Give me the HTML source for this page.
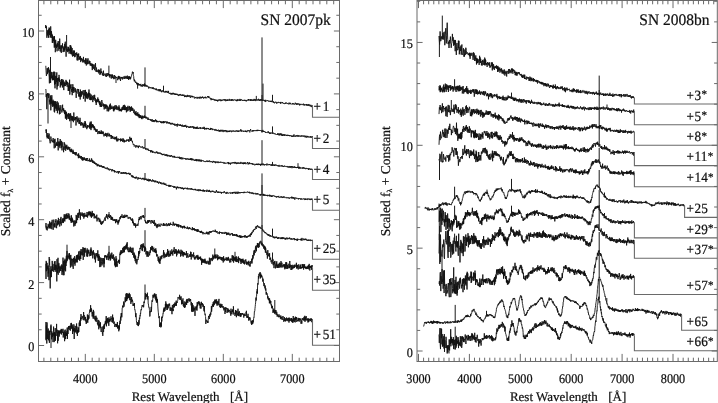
<!DOCTYPE html>
<html><head><meta charset="utf-8"><style>
html,body{margin:0;padding:0;background:#fff;}
svg{display:block;}
.ax{fill:none;stroke:#6a6a6a;stroke-width:1;}
.tk{fill:none;stroke:#6a6a6a;stroke-width:1;}
.sk{fill:none;stroke:#1a1a1a;stroke-width:1;}
.st{fill:none;stroke:#6a6a6a;stroke-width:1.1;}
.sp{fill:none;stroke:#111;stroke-width:0.9;stroke-linejoin:round;}
text{font-family:"Liberation Serif","Times New Roman",serif;fill:#111;stroke:#111;stroke-width:0.22px;text-rendering:geometricPrecision;}
.tl{font-size:12.2px;}
.al{font-size:13px;}
.yl{font-size:13.5px;}
.sub{font-size:7.5px;}
.ti{font-size:15.5px;}
.lb{font-size:13.2px;}
.as{font-size:11px;}
</style></head><body>
<svg width="718" height="403" viewBox="0 0 718 403">
<rect x="38.5" y="0.5" width="301.0" height="361.0" class="ax"/>
<path class="tk" d="M43.90,361.5v-3.8M43.90,0.5v3.8M50.80,361.5v-3.8M50.80,0.5v3.8M57.70,361.5v-3.8M57.70,0.5v3.8M64.60,361.5v-3.8M64.60,0.5v3.8M71.50,361.5v-3.8M71.50,0.5v3.8M78.40,361.5v-3.8M78.40,0.5v3.8M85.30,361.5v-7.6M85.30,0.5v7.6M92.20,361.5v-3.8M92.20,0.5v3.8M99.10,361.5v-3.8M99.10,0.5v3.8M106.00,361.5v-3.8M106.00,0.5v3.8M112.90,361.5v-3.8M112.90,0.5v3.8M119.80,361.5v-3.8M119.80,0.5v3.8M126.70,361.5v-3.8M126.70,0.5v3.8M133.60,361.5v-3.8M133.60,0.5v3.8M140.50,361.5v-3.8M140.50,0.5v3.8M147.40,361.5v-3.8M147.40,0.5v3.8M154.30,361.5v-7.6M154.30,0.5v7.6M161.20,361.5v-3.8M161.20,0.5v3.8M168.10,361.5v-3.8M168.10,0.5v3.8M175.00,361.5v-3.8M175.00,0.5v3.8M181.90,361.5v-3.8M181.90,0.5v3.8M188.80,361.5v-3.8M188.80,0.5v3.8M195.70,361.5v-3.8M195.70,0.5v3.8M202.60,361.5v-3.8M202.60,0.5v3.8M209.50,361.5v-3.8M209.50,0.5v3.8M216.40,361.5v-3.8M216.40,0.5v3.8M223.30,361.5v-7.6M223.30,0.5v7.6M230.20,361.5v-3.8M230.20,0.5v3.8M237.10,361.5v-3.8M237.10,0.5v3.8M244.00,361.5v-3.8M244.00,0.5v3.8M250.90,361.5v-3.8M250.90,0.5v3.8M257.80,361.5v-3.8M257.80,0.5v3.8M264.70,361.5v-3.8M264.70,0.5v3.8M271.60,361.5v-3.8M271.60,0.5v3.8M278.50,361.5v-3.8M278.50,0.5v3.8M285.40,361.5v-3.8M285.40,0.5v3.8M292.30,361.5v-7.6M292.30,0.5v7.6M299.20,361.5v-3.8M299.20,0.5v3.8M306.10,361.5v-3.8M306.10,0.5v3.8M313.00,361.5v-3.8M313.00,0.5v3.8M319.90,361.5v-3.8M319.90,0.5v3.8M326.80,361.5v-3.8M326.80,0.5v3.8M333.70,361.5v-3.8M333.70,0.5v3.8M38.5,345.50h5.6M339.5,345.50h-5.6M38.5,329.77h3.2M339.5,329.77h-3.2M38.5,314.05h3.2M339.5,314.05h-3.2M38.5,298.32h3.2M339.5,298.32h-3.2M38.5,282.60h5.6M339.5,282.60h-5.6M38.5,266.88h3.2M339.5,266.88h-3.2M38.5,251.15h3.2M339.5,251.15h-3.2M38.5,235.43h3.2M339.5,235.43h-3.2M38.5,219.70h5.6M339.5,219.70h-5.6M38.5,203.97h3.2M339.5,203.97h-3.2M38.5,188.25h3.2M339.5,188.25h-3.2M38.5,172.53h3.2M339.5,172.53h-3.2M38.5,156.80h5.6M339.5,156.80h-5.6M38.5,141.08h3.2M339.5,141.08h-3.2M38.5,125.35h3.2M339.5,125.35h-3.2M38.5,109.62h3.2M339.5,109.62h-3.2M38.5,93.90h5.6M339.5,93.90h-5.6M38.5,78.18h3.2M339.5,78.18h-3.2M38.5,62.45h3.2M339.5,62.45h-3.2M38.5,46.73h3.2M339.5,46.73h-3.2M38.5,31.00h5.6M339.5,31.00h-5.6M38.5,15.28h3.2M339.5,15.28h-3.2"/>
<rect x="417.0" y="0.5" width="300.29999999999995" height="361.0" class="ax"/>
<path class="tk" d="M418.50,361.5v-7.6M418.50,0.5v7.6M423.59,361.5v-3.8M423.59,0.5v3.8M428.68,361.5v-3.8M428.68,0.5v3.8M433.77,361.5v-3.8M433.77,0.5v3.8M438.86,361.5v-3.8M438.86,0.5v3.8M443.95,361.5v-3.8M443.95,0.5v3.8M449.04,361.5v-3.8M449.04,0.5v3.8M454.13,361.5v-3.8M454.13,0.5v3.8M459.22,361.5v-3.8M459.22,0.5v3.8M464.31,361.5v-3.8M464.31,0.5v3.8M469.40,361.5v-7.6M469.40,0.5v7.6M474.49,361.5v-3.8M474.49,0.5v3.8M479.58,361.5v-3.8M479.58,0.5v3.8M484.67,361.5v-3.8M484.67,0.5v3.8M489.76,361.5v-3.8M489.76,0.5v3.8M494.85,361.5v-3.8M494.85,0.5v3.8M499.94,361.5v-3.8M499.94,0.5v3.8M505.03,361.5v-3.8M505.03,0.5v3.8M510.12,361.5v-3.8M510.12,0.5v3.8M515.21,361.5v-3.8M515.21,0.5v3.8M520.30,361.5v-7.6M520.30,0.5v7.6M525.39,361.5v-3.8M525.39,0.5v3.8M530.48,361.5v-3.8M530.48,0.5v3.8M535.57,361.5v-3.8M535.57,0.5v3.8M540.66,361.5v-3.8M540.66,0.5v3.8M545.75,361.5v-3.8M545.75,0.5v3.8M550.84,361.5v-3.8M550.84,0.5v3.8M555.93,361.5v-3.8M555.93,0.5v3.8M561.02,361.5v-3.8M561.02,0.5v3.8M566.11,361.5v-3.8M566.11,0.5v3.8M571.20,361.5v-7.6M571.20,0.5v7.6M576.29,361.5v-3.8M576.29,0.5v3.8M581.38,361.5v-3.8M581.38,0.5v3.8M586.47,361.5v-3.8M586.47,0.5v3.8M591.56,361.5v-3.8M591.56,0.5v3.8M596.65,361.5v-3.8M596.65,0.5v3.8M601.74,361.5v-3.8M601.74,0.5v3.8M606.83,361.5v-3.8M606.83,0.5v3.8M611.92,361.5v-3.8M611.92,0.5v3.8M617.01,361.5v-3.8M617.01,0.5v3.8M622.10,361.5v-7.6M622.10,0.5v7.6M627.19,361.5v-3.8M627.19,0.5v3.8M632.28,361.5v-3.8M632.28,0.5v3.8M637.37,361.5v-3.8M637.37,0.5v3.8M642.46,361.5v-3.8M642.46,0.5v3.8M647.55,361.5v-3.8M647.55,0.5v3.8M652.64,361.5v-3.8M652.64,0.5v3.8M657.73,361.5v-3.8M657.73,0.5v3.8M662.82,361.5v-3.8M662.82,0.5v3.8M667.91,361.5v-3.8M667.91,0.5v3.8M673.00,361.5v-7.6M673.00,0.5v7.6M678.09,361.5v-3.8M678.09,0.5v3.8M683.18,361.5v-3.8M683.18,0.5v3.8M688.27,361.5v-3.8M688.27,0.5v3.8M693.36,361.5v-3.8M693.36,0.5v3.8M698.45,361.5v-3.8M698.45,0.5v3.8M703.54,361.5v-3.8M703.54,0.5v3.8M708.63,361.5v-3.8M708.63,0.5v3.8M713.72,361.5v-3.8M713.72,0.5v3.8M417.0,351.00h5.6M717.3,351.00h-5.6M417.0,330.43h3.2M717.3,330.43h-3.2M417.0,309.86h3.2M717.3,309.86h-3.2M417.0,289.29h3.2M717.3,289.29h-3.2M417.0,268.72h3.2M717.3,268.72h-3.2M417.0,248.15h5.6M717.3,248.15h-5.6M417.0,227.58h3.2M717.3,227.58h-3.2M417.0,207.01h3.2M717.3,207.01h-3.2M417.0,186.44h3.2M717.3,186.44h-3.2M417.0,165.87h3.2M717.3,165.87h-3.2M417.0,145.30h5.6M717.3,145.30h-5.6M417.0,124.73h3.2M717.3,124.73h-3.2M417.0,104.16h3.2M717.3,104.16h-3.2M417.0,83.59h3.2M717.3,83.59h-3.2M417.0,63.02h3.2M717.3,63.02h-3.2M417.0,42.45h5.6M717.3,42.45h-5.6M417.0,21.88h3.2M717.3,21.88h-3.2M417.0,1.31h3.2M717.3,1.31h-3.2"/>
<text transform="translate(85.30 382.80) scale(1 1.08)" class="tl" text-anchor="middle">4000</text>
<text transform="translate(154.30 382.80) scale(1 1.08)" class="tl" text-anchor="middle">5000</text>
<text transform="translate(223.30 382.80) scale(1 1.08)" class="tl" text-anchor="middle">6000</text>
<text transform="translate(292.30 382.80) scale(1 1.08)" class="tl" text-anchor="middle">7000</text>
<text transform="translate(34.30 351.40) scale(1 1.08)" class="tl" text-anchor="end">0</text>
<text transform="translate(34.30 288.50) scale(1 1.08)" class="tl" text-anchor="end">2</text>
<text transform="translate(34.30 225.60) scale(1 1.08)" class="tl" text-anchor="end">4</text>
<text transform="translate(34.30 162.70) scale(1 1.08)" class="tl" text-anchor="end">6</text>
<text transform="translate(34.30 99.80) scale(1 1.08)" class="tl" text-anchor="end">8</text>
<text transform="translate(34.30 36.90) scale(1 1.08)" class="tl" text-anchor="end">10</text>
<text transform="translate(418.50 382.80) scale(1 1.08)" class="tl" text-anchor="middle">3000</text>
<text transform="translate(469.40 382.80) scale(1 1.08)" class="tl" text-anchor="middle">4000</text>
<text transform="translate(520.30 382.80) scale(1 1.08)" class="tl" text-anchor="middle">5000</text>
<text transform="translate(571.20 382.80) scale(1 1.08)" class="tl" text-anchor="middle">6000</text>
<text transform="translate(622.10 382.80) scale(1 1.08)" class="tl" text-anchor="middle">7000</text>
<text transform="translate(673.00 382.80) scale(1 1.08)" class="tl" text-anchor="middle">8000</text>
<text transform="translate(412.80 356.60) scale(1 1.08)" class="tl" text-anchor="end">0</text>
<text transform="translate(412.80 253.75) scale(1 1.08)" class="tl" text-anchor="end">5</text>
<text transform="translate(412.80 150.90) scale(1 1.08)" class="tl" text-anchor="end">10</text>
<text transform="translate(412.80 48.05) scale(1 1.08)" class="tl" text-anchor="end">15</text>
<text x="131.7" y="400.6" class="al">Rest Wavelength</text>
<text x="230.0" y="400.6" class="al">[Å]</text>
<text x="509.9" y="400.6" class="al">Rest Wavelength</text>
<text x="608.1999999999999" y="400.6" class="al">[Å]</text>
<text transform="translate(10.0,181.3) rotate(-90)" class="yl" text-anchor="middle">Scaled f<tspan class="sub" dy="2.6">λ</tspan><tspan dy="-2.6"> + Constant</tspan></text>
<text transform="translate(389.5,181.3) rotate(-90)" class="yl" text-anchor="middle">Scaled f<tspan class="sub" dy="2.6">λ</tspan><tspan dy="-2.6"> + Constant</tspan></text>
<text transform="translate(330.80 25.30) scale(1 1.04)" class="ti" text-anchor="end">SN 2007pk</text>
<text transform="translate(709.50 24.80) scale(1 1.04)" class="ti" text-anchor="end">SN 2008bn</text>
<path class="sp" d="M45.5 25l.2 3 .2-.9.2-1.4.2 2.7.2-1.7.2 5.1.2 6 .2-7.4.2-.1.2 5.1.2-.3.2-.7.2-4.1.2 4 .2 3.4.2-8.4.2 4 .2-5.8.2 2.8.2-2.2.2 7 .2-4.2.2 6.7.2-.4.2-1.2.2-9.6.2 8.4.2 2.2.2.9.2-6.7.2 4.6.2-1.9.2.9.2 8 .2-7.5.2 3.5.2 4.1.2-5.7.2 2.3.2 1.4.2.2.2-4.9.2 5.8.2 5.7.2-11.5.2 10.3.2-2.7.2-2.7.2 11.1.2-4.7.2-7.7.2 5.3.2 2.2.2-2.9.2 3.6.2-2.9.2 3 .2 3.2.2-8.4.2 3.6.2-2.6.2 2.5.2-5.2.2 2.5.2 1.6.2 4.4.2 1 .2-9.7.2 2.2.2 5.8.2-10.4.2 6.1.2 1.5.2 5.4.2-2.1.2-3.9.2-.1.2.5.2 6.9.2-7.4.2.6.2 2.5.2-1.7.2-.2.2-3.3.2 4.2.2-1.5.2 6 .2-1.9.2-2.3.2 2.5.2-3.5.2 5 .2-3.6.2 2.1.2-6.5.2 5.9.2-7 .2-1.1.2 6.1.2-2 .2 3.8.2 7.1.2-10.3.2.8.2 2.9.2 1 .2-2.1.2 0 .2 3.1.2-.5.2-4.9.2 3.2.2.5.2-3.4.2 4.3.2-3.4.2 5.8.2-2.3.2-.2.2-2 .2 1.6.2-5.6.2 2.8.2 4.5.2-7.2.2 8.8.2-7.4.2 7.4.2-4.5.2 4.7.2-1.7.2-4.6.2 7.9.2.6.2-4 .2-.4.2.4.2-2.1.2 5.7.2-4.2.2 1.4.2-1.8.2.6.2-1.5.2 6.6.2-3.4.2 2.9.2-2.2.2-1.6.2 1.1.2-.4.2 1.6.2-.7.2.4.2-2.5.2 1.7.2 6.2.2-5.5.2-.7.2 3.6.2 2.8.2-6.8.2 3.2.2-.8.2-2.5.2 6.1.2-1.6.2.3.2-1.8.2 3 .2-2.3.2 1.1.2-2.2.2-.1.2 6 .2-4.2.2 1.9.2-.7.2-.8.2-.1.2 2.7.2-2.1.2.4.2.5.2 2.7.2-1.1.2-.6.2-2 .2-1.8.2 5.3.2.1.2-2.3.2 1.5.2.7.2.2.2.3.2-2.9.2 4.3.2-5.8.2 4.7.2-.7.2.9.2 2.3.2-.7.2-5.4.2-1 .2 5.4.2-3.7.2 2.3.2 1.9.2-5 .2-.8.2 5 .2-.3.2-.4.2.7.2-1.6.2-1.2.2 2.9.2-1.5.2-1.1.2 4.4.2-1 .2 1.1.2-2.6.2.9.2-.5.2.4.2 2.2.2-1.7.2 2.4.2.1.2 3.4.2-6.3.2 4.4.2-1.6.2.3.2-2.5.2 2 .2 2.4.2-1.4.2.5.2-.5.2 2.8.2-2 .2-3.7.2 2.8.2-2.1.2-2.1.2 5 .2 3.5.2-2.1.2-2 .2.6.2 3.8.2-1.5.2 0 .2-.1.2.4.2 1.4.2-.2.2-.5.2-1.9.2 2.7.2-1.8.2 3.1.2-3.8.2 2 .2.3.2-2 .2 5 .2-.3.2-3 .2 2.1.2-.6.2-4.7.2 4.7.2-.5.2.3.2-1.7.2 1.3.2.2.2 2.2.2-1.2.2-.5.2 2.4.2-3.1.2.3.2-2.2.2 5.3.2-.9.2 0 .2-.3.2-.8.2.2.2-.6.2.1.2.5.2 2.2.2-1.4.2-.8.2-.7.2 0 .2 3.3.2-1.5.2-.6.2-.6.2-1 .2 1.6.2 1.4.2-1.8.2.3.2.1.2.5.2-2.4.2 2 .2-.8.2 2.5.2-2.2.2 1.9.2 1.4.2-2.5.2-.3.2 1.1.2-.2.2-1.3.2 2.1.2 2.1.2-3 .2.1.2-1 .2 1.9.2-2.1.2.3.2 3.2.2-2.8.2 2.7.2.6.2-1.6.2.4.2 1.9.2-2.7.2-.5.2-.9.2 1.9.2 1.9.2-.6.2-2.4.2.2.2.5.2 1.1.2-.6.2.6.2.2.2-.7.2.4.2.4.2-.3.2.8.2 1.7.2-1.5.2-.6.2-2 .2 2.6.2-2.8.2.7.2 2.7.2-.1.2-1 .2-1.8.2 1.6.2-.4.2 1.5.2 1.9.2-2.4.2-1.1.2-.5.2 1.3.2-.2.2-1.1.2 1.4.2-1.5.2 2.5.2-.1.2 0 .2-1.8.2 1.1.2-.8.2-.3.2 0 .2-1 .2-.2.2 2.4.2-1.1.2.4.2.8.2-2.9.2.9.2 1 .2.2.2-.8.2 1.5.2-.9.2-1.5.2.3.2 1.8.2-.4.2-2.4.2 3.3.2-.8.2.8.2-1.8.2.1.2-.8.2 3.6.2-2.7.2 1.7.2-2.1.2.9.2-1.6.2 1.4.2 1.4.2-2 .2 2.3.2-.7.2-1.4.2.1.2-.6.2-.3.2-1.3.2-1.1.2-.3.2-1.3.2-.7.2.8.2.9.2-1.4.2 2.5.2.9.2 1.2.2 2.8.2-.3.2 2.2.2-1.5.2 1.3.2-.1.2-.2.2 1.4.2-.3.2.9.2-.3.2-.6.2 1.1.2.4.2.9.2-1.2.2.8.2-1.1.2 2 .2-1.3.2-.5.2 1.5.2.9.2-1.9.2.4.2.3.2-.2.2 1.2.2-.9.2.2.2.9.2-.9.2.9.2-1 .2-.1.2-.4.2 2.6.2-1.5.2.4.2-.1.2.1.2-.1.2 1.4.2-2.1.2-.4.2.4.2-.2.2 1.5.2.1.2-1.3.2-.3.2.8.2 1.2.2-2.9.2 2.4.2-1.1.2 1.5.2-1.4.2.6.2-.8.2.5.2 1.7.2-.3.2-.8.2-.2.2-.6.2 1.1.2.4.2 0 .2.1.2-.6.2.8.2.1.2 1.1.2.5.2-1.3.2-.4.2.6.2-.3.2 0 .2.5.2-.6.2 1.2.2-.4.2.3.2-.2.2-.3.2-.1.2.6.2-.2.2.6.2-.1.2-.8.2 1 .2-.9.2.6.2.3.2-1.2.2 1.6.2.1.2-.2.2-.1.2.1.2-.4.2.6.2-.2.2.5.2-.8.2 1 .2 0 .2-.1.2-.1.2.7.2-1.5.2 1.5.2-.1.2.1.2.1.2-.6.2.3.2.7.2-.1.2-.1.2-1.1.2 1.4.2.5.2-.1.2-.5.2-1.1.2 1.7.2-.7.2-1.5.2 2 .2-1.2.2.2.2.5.2 1.3.2-1.1.2.5.2 1 .2 0 .2-1.1.2 0 .2-.7.2.5.2.7.2.1.2-.2.2.6.2-1.1.2.6.2.5.2 0 .2.3.2-.4.2-.4.2.5.2-.8.2-.4.2 1.5.2-.4.2.3.2-1.2.2.9.2-.1.2-.1.2-.9.2 1.3.2.8.2-.3.2-.5.2.4.2.5.2-2.2.2 1.8.2.4.2.2.2.7.2-.4.2-.4.2 0 .2.4.2-.8.2.3.2.7.2.7.2-1.3.2.1.2.2.2.8.2-.9.2 1 .2-1.5.2.6.2 0 .2.7.2.2.2-1.6.2.4.2.8.2-.5.2-.5.2 1.6.2-.3.2 0 .2-.5.2.9.2-.7.2.8.2-1.2.2.1.2.7.2-.5.2.9.2-.3.2-.7.2.7.2-.2.2.8.2-.9.2.1.2 1 .2.7.2-.1.2-1.2.2.2.2.8.2-1 .2-.5.2.7.2.3.2-.8.2-.4.2.1.2 1.3.2-.8.2.4.2.2.2.3.2-.5.2.5.2-.8.2.4.2-.4.2 1.3.2-.7.2-.4.2.3.2.1.2.6.2-1.3.2.3.2.4.2 1.8.2-.9.2-.6.2.5.2.8.2-1.3.2 0 .2.9.2-.4.2.2.2-.7.2 1.5.2-.1.2-.7.2.1.2-1.5.2 1.6.2-.5.2.4.2.2.2-.5.2-.8.2 1.2.2-.5.2.2.2-.1.2.2.2-1.1.2 2.1.2-.6.2.6.2.5.2-1.1.2-1 .2.6.2-.2.2.5.2.3.2-1.1.2 1.3.2-1 .2 1.1.2-.2.2-.1.2.2.2-.3.2 0 .2-.5.2.9.2 1.1.2.1.2-.4.2-.3.2-.7.2 1.2.2-.8.2 0 .2-.1.2.2.2-.3.2.2.2-.5.2.4.2 1.5.2-1.3.2-.1.2.4.2.1.2-1 .2.6.2.6.2-.4.2 0 .2.8.2-1.3.2.5.2-.3.2 1 .2-1.8.2.7.2.1.2.6.2 0 .2.4.2-1.5.2 1.2.2-.5.2-.2.2.6.2-.8.2-.6.2 1 .2-.7.2.5.2.6.2-.1.2.7.2-.9.2-.7.2.4.2-.1.2-.2.2.9.2-.6.2-.7.2 1.5.2-.5.2.3.2-.2.2.3.2-.4.2.5.2-.6.2-.2.2-.1.2-1.1.2.6.2-.1.2.2.2-.8.2 1.7.2-.6.2-.6.2-.1.2 1 .2.3.2-.2.2.6.2-.3.2.8.2-.6.2.5.2.6.2 1 .2-1.8.2.4.2-.1.2 1 .2-.9.2.4.2.4.2-.5.2.1.2.4.2-.8.2.4.2.6.2.4.2-.2.2-.8.2.7.2.7.2-.1.2-.3.2-.5.2.8.2-.6.2-.3.2.2.2 1.2.2-.7.2.5.2-.9.2.8.2-.8.2.2.2 1.4.2-.9.2-.7.2.2.2.2.2.5.2-.9.2-.7.2.8.2.1.2.1.2.6.2-.5.2.2.2-1 .2 1 .2.7.2-.7.2-.3.2-.1.2.9.2-1.4.2.4.2.3.2.1.2-.6.2.4.2-.3.2.2.2-.2.2-.5.2.6.2.5.2-1 .2.4.2.4.2-.9.2.7.2-.7.2 1.2.2.6.2-.1.2-1.2.2.5.2-.3.2 0 .2.7.2-1.5.2 1.3.2-.6.2.7.2-.6.2-.5.2.5.2.3.2-.4.2.3.2-.6.2-.8.2 1.6.2-.1.2-.3.2-.1.2.5.2-.7.2-.2.2.3.2.7.2-1.3.2 1.3.2-.9.2-.3.2 1.3.2-.8.2-.6.2.5.2.7.2.1.2-.8.2.4.2.2.2-.7.2.5.2-.2.2-.3.2 0 .2.3.2 0 .2-.3.2.1.2.8.2-.5.2.4.2.1.2-.3.2.9.2-1.6.2.8.2-.6.2 1.2.2-.1.2-1.9.2.5.2.9.2 0 .2 0 .2-.4.2.3.2.1.2-.4.2.6.2-1.7.2 1.5.2-.8.2 1 .2-.6.2-.3.2.6.2-.6.2 0 .2-.3.2.8.2.2.2.3.2-.6.2.6.2-.5.2 0 .2.3.2.3.2-.7.2 0 .2.1.2.1.2-.5.2 1 .2-.7.2.4.2-.6.2.6.2 0 .2-.4.2 1.2.2-.8.2.7.2-.4.2-.8.2.1.2.4.2-.2.2 0 .2-.2.2-.7.2.8.2-1.1.2 1.4.2-.6.2 0 .2.2.2.3.2-.9.2-.2.2.3.2-.5.2.6.2 1.3.2-1.4.2.9.2-1.1.2.9.2-.4.2.1.2.3.2.6.2-.8.2 0 .2-.6.2.8.2-.4.2.5.2-.5.2.9.2-1.9.2.9.2.6.2-.7.2-.2.2.3.2-.6.2.8.2 1.1.2-.6.2-1.2.2.2.2.2.2.7.2-.9.2.1.2.8.2 0 .2-.7.2-.3.2-.2.2.4.2-.8.2 1.6.2-.7.2.5.2.8.2-.4.2-1.1.2 1 .2.2.2-1 .2-.1.2.5.2-.8.2 1.6.2-1.9.2.6.2.5.2 0 .2.2.2.1.2-.2.2.7.2-1.7.2 1.1.2-.3.2.4.2.1.2-.6.2.2.2.7.2-.2.2-.5.2 1.4.2.2.2-1.9.2.9.2 1.1.2-.8.2-.3.2-.2.2-.1.2.2.2-.1.2.6.2-.5.2 0 .2-.3.2.6.2-.4.2.4.2.6.2-.3.2.1.2 0 .2-.2.2 0 .2-.1.2.6.2-.9.2 1.3.2-.7.2-.3.2.2.2-.1.2.5.2-.4.2.9.2-.9.2-.7.2.8.2-.6.2 1 .2.6.2-.2.2-.9.2.3.2 1.3.2-.7.2-.1.2.6.2.7.2-.6.2-.5.2.1.2.2.2-.6.2-.1.2.5.2-.4.2.4.2.2.2 1.1.2-1.5.2.3.2.1.2.3.2.3.2-.7.2-.1.2-.4.2.4.2.7.2-.2.2-.5.2.3.2.3.2.2.2-.5.2.2.2-.8.2.4.2 1.4.2-1.9.2.9.2.3.2-.2.2-.2.2.3.2.1.2 0 .2-.9.2.9.2-.4.2.2.2.4.2.2.2.1.2-.6.2.7.2.1.2 0 .2.2.2-.8.2 0 .2.5.2-1 .2.7.2-.3.2.1.2-.7.2.4.2.5.2.4.2.1.2-.5.2-.1.2-.3.2.7.2-.3.2.4.2.5.2-.8.2-.7.2.3.2-.3.2.2.2 1.2.2-.5.2-.9.2 1.1.2.3.2-.8.2-.1.2.2.2.3.2.2.2.3.2 0 .2 0 .2.1.2-.3.2-1.1.2.7.2.2.2-.3.2.6.2-.6.2-.2.2 1.1.2-.3.2-.2.2.3.2.1.2-.4.2-1.3.2.9.2.1.2-.3.2.6.2.5.2-.8.2-.3.2 1.6.2-1.2.2-.4.2.7.2.1.2-.5.2.7.2-.6.2-.2.2.6.2.3.2-.7.2.5.2-.2.2 1.4.2-1.7.2 1 .2-.6.2-.1.2.5.2.1.2.1.2-.4.2-.4.2 0 .2.5.2.1.2.4.2-.4.2.3.2.2.2-.6.2-.8.2.2.2-.1.2 1.5.2-1.2.2 1 .2-.3.2.6.2-.3.2-.5.2 0 .2.1.2.1.2-.3.2.3.2.8.2-1.6.2 1 .2-.5.2.5.2.4.2-.4.2.4.2-1.1.2 1.3.2-.7.2.6.2-.2.2-1.3.2.9.2.5.2.7.2-.5.2 0 .2-.8.2 1.4.2.2.2-.8.2 0 .2-.7.2 1.3.2.9.2-.9.2.3.2-.3.2-.7.2 1.1"/>
<text transform="translate(313.50 111.20) scale(1 1.07)" class="lb">+<tspan dx="1.7">1</tspan></text>
<path class="sp" d="M45.8 65.8l.2 4.7.2 2.5.2 2.9.2-1.6.2.2.2-4.5.2-1.9.2 5.8.2-3 .2-2.2.2.4.2 3.4.2-5.3.2 2.3.2-1 .2 7.4.2 1 .2 6.4.2-13.5.2 3.4.2 6.3.2-4.2.2-.3.2 7.9.2-7.6.2-2.9.2-.5.2 6.3.2.1.2-6 .2 1.6.2 5.6.2.3.2-4.2.2 4.7.2-.1.2-8.2.2 5.4.2 2.6.2-3.3.2-5.2.2 6.5.2 3.7.2 2.9.2-12.6.2 16.3.2-12.5.2 7.1.2 1 .2-.7.2-2.7.2-4.1.2 5.9.2-4.2.2-5.7.2 17.1.2-6.6.2 3.5.2-8.4.2 7.5.2.4.2-.1.2-4.7.2-3.5.2 3.2.2-5.9.2 1.6.2 5.4.2-3.1.2 2.5.2.3.2 5.9.2-1.7.2-3.8.2 3.7.2-5.6.2 1.3.2 3.7.2-6.1.2 2.8.2-2.8.2 4.1.2 4.4.2-6.7.2 2.9.2-3.1.2-.6.2-.2.2 7.7.2 2.6.2-5.1.2-3.3.2 4.1.2-2.8.2 3.2.2-1.3.2.1.2 1 .2-3.2.2.7.2-3.6.2 3.7.2-2.6.2 3.7.2-2.1.2 3.1.2 1.1.2-5 .2 1.8.2-.2.2 4.7.2 2.8.2-2.2.2-3.1.2 5.1.2-8 .2 8.3.2-5.7.2-5.6.2 14.9.2-2.8.2-6.9.2 3.4.2-.9.2.9.2-4.1.2 2.3.2 3.2.2-.5.2 2.7.2-2.9.2 6.2.2-8.1.2 2.7.2-5.6.2 1.9.2 6.9.2-5.9.2 4 .2-1.5.2-2.4.2 1.9.2-.3.2.2.2 3.3.2-.1.2-3.2.2-.7.2 3.2.2-.9.2 3 .2 4.3.2-4.6.2-2.2.2-.2.2-1.7.2 0 .2-.2.2 1.7.2 0 .2 3 .2-2.8.2.6.2-2.5.2 7.3.2-2.8.2 3.3.2-2.4.2 1.8.2-4.3.2 2.5.2 5.1.2-9.9.2 6.1.2 1.4.2-3.1.2.9.2 1.4.2-4.8.2 2.8.2-3.2.2.5.2.3.2 1.2.2.8.2.9.2-4.7.2 8.7.2-2 .2-1.1.2-2.6.2.7.2 1.7.2-.3.2-5.1.2 6.1.2 5.4.2-11.7.2 7.1.2-1.5.2-1.1.2 3.7.2-6.2.2 3.4.2 3.2.2-4 .2-.5.2 1.4.2-1.3.2 5 .2-6 .2 4.5.2-5.1.2 4.7.2-1.8.2-5.9.2 6.3.2-2.5.2 1.6.2 4.9.2-6.3.2.2.2 6.1.2-3.1.2 3.5.2-2.8.2-2.8.2 2.1.2 3.2.2-.6.2-2.1.2.2.2-.3.2-1 .2 6 .2-4.4.2-2.5.2 1.6.2 3 .2-.1.2-1.7.2-1.1.2 1.7.2-3.8.2 1 .2 5 .2-2.8.2 2.2.2 2.1.2-1.1.2-1.3.2 5.1.2-3.1.2-2.2.2 2.7.2-.5.2-2.6.2 2.3.2-.3.2-3.8.2 4.3.2-.1.2-.1.2-2.5.2 3.1.2.8.2.5.2-2.6.2 4.1.2-4 .2 2.3.2 3.5.2-4.3.2.5.2 3.6.2-3 .2.3.2 1.2.2 1.9.2-7 .2 3.1.2-.3.2 0 .2.6.2.1.2 2.6.2-2.5.2 2.3.2.6.2-2.3.2 1.9.2 3.3.2-2.7.2-2 .2 1.3.2-1.7.2 2.6.2 1.3.2-3.5.2 1.4.2 2.8.2-3.3.2 1.5.2-2.4.2.4.2.7.2 5.5.2-5.1.2-.2.2 0 .2.8.2 1.7.2-.9.2 3.8.2-3.6.2 2.5.2-2.3.2.7.2-4 .2 2.7.2.1.2-.2.2-3.7.2 5.9.2-2.4.2 0 .2.4.2.1.2 1.3.2-3.2.2.7.2 2.4.2-.3.2-.9.2-.3.2-.5.2 1.5.2 2.4.2-4.2.2 4.9.2-1.2.2-2.4.2 2.3.2-4.2.2-.4.2.8.2 1.7.2.2.2-.3.2 1.1.2-4 .2 4.8.2-3.5.2 1.4.2.5.2-1.3.2-.4.2.7.2 1.8.2 1 .2 0 .2-2.8.2.4.2-.2.2 2.4.2-4.4.2 5.8.2-3.1.2-.5.2 2 .2 1.2.2-1.2.2 1.2.2-1.6.2 1.9.2 0 .2-2.3.2 2.6.2-2.2.2-.1.2-1.8.2 1.1.2 1.8.2-3.5.2 3.3.2-.5.2-.2.2-4.2.2 3.6.2 1.2.2-2.4.2 1.4.2-4.1.2 5.1.2-2.2.2 2.5.2-4.5.2 4.2.2-1.6.2 1.7.2-2.8.2.5.2 4.6.2-5 .2.2.2.7.2-1.2.2 3.5.2.8.2-3.9.2-1.6.2 4.6.2-.2.2-.4.2.5.2-3.2.2 1 .2-1.9.2-.1.2 3.7.2-2.5.2 4.5.2-3.4.2-1.1.2 2.1.2 1.6.2-2.1.2-2.5.2 2.4.2 1.7.2-2.6.2-.2.2 3 .2-1 .2-1.5.2 1.5.2-.2.2 1.8.2 0 .2 1.8.2-.4.2-3.1.2 3.2.2 1 .2-.4.2 1.1.2-2 .2-.4.2 2.9.2-2.5.2-1.4.2 4.7.2-2.3.2.8.2-1.4.2.2.2.4.2 1.1.2 1.1.2-3.4.2 4.1.2-2.4.2.2.2 2.3.2-.9.2-1.7.2 4.2.2-3.2.2 1.4.2 0 .2 1.5.2-2.2.2 1.8.2-2 .2 2.3.2-2.2.2.5.2 2.7.2-1.8.2-.1.2 2.4.2-2 .2-1.3.2 1.8.2-2 .2 2.5.2.1.2-1.7.2 0 .2.8.2-.1.2-.9.2 1.6.2-2.5.2 1.6.2.1.2.2.2.6.2-1.4.2 1.8.2-.7.2-.3.2-.6.2.2.2 1.4.2-1 .2.9.2.9.2 0 .2.5.2-1.4.2-.6.2 1.7.2-.4.2.7.2-.8.2.9.2-.1.2-.1.2 0 .2 0 .2-.1.2.1.2.6.2-1 .2 1.7.2-1.2.2.9.2-.7.2 0 .2 1.7.2-1.6.2-.6.2.4.2.4.2 1.8.2-1.3.2.6.2-1.3.2 1 .2.2.2.9.2-1.7.2.9.2-.2.2-.8.2.7.2-.2.2-1.4.2 2.1.2 0 .2-.7.2-.6.2 2 .2-.8.2.5.2.3.2-1.3.2 1 .2-.7.2.1.2 0 .2.1.2.8.2-.7.2-.2.2 0 .2.4.2-.8.2.3.2.3.2-.4.2.4.2-.3.2 1.8.2-.5.2-.6.2-.3.2 1.6.2-1.3.2-.3.2.3.2.1.2.7.2-.9.2 1.4.2-1.9.2 1.1.2-1.2.2 2 .2-1.4.2.2.2.7.2.2.2-1.5.2.5.2-.6.2 1 .2-.1.2-.1.2-.2.2.2.2-.1.2.8.2.7.2-2.2.2 1.3.2-.2.2.7.2-.9.2.5.2-.5.2 1.2.2-.4.2-.1.2.4.2-.3.2-.8.2 1.4.2-.1.2-.3.2.8.2.2.2-1.4.2.2.2 1.6.2-.1.2-1.3.2-.2.2.4.2.1.2-.6.2 1 .2-.7.2 0 .2 1.4.2-.9.2.4.2.5.2.2.2-.7.2.2.2-.5.2 1.7.2-.7.2-1 .2.7.2.5.2-.1.2.9.2-.3.2-1.1.2.3.2-.7.2 1 .2-.1.2 1.7.2-1.6.2-1.3.2.9.2.5.2-.8.2.3.2.3.2.5.2-.3.2-.4.2 1.1.2-.8.2 0 .2-.5.2.4.2.9.2-1.3.2 1 .2.5.2-.7.2.5.2-.8.2 1.5.2-.1.2-.5.2-1.2.2.5.2 1.2.2.5.2-.8.2.6.2-1.1.2.3.2.1.2.3.2-1.1.2 1.5.2.2.2-1.4.2-.1.2 1 .2-.5.2-1 .2 1.9.2-.3.2-.4.2 1.6.2-1.2.2-.5.2.6.2-.7.2.2.2.7.2-.5.2.1.2 1.3.2-.5.2 0 .2-.1.2 0 .2.6.2-.8.2 1.1.2-1.6.2.4.2-.6.2.6.2.5.2.6.2-1.2.2.4.2-.1.2-.2.2-.3.2.8.2-1 .2 1.1.2-.1.2-.3.2-.2.2-.2.2 1.9.2-1.8.2 1.6.2-.5.2-.5.2-.4.2 1.2.2.5.2-1.5.2.4.2.7.2-.3.2.9.2-1.4.2.6.2-.9.2 1.8.2-1.5.2-.8.2 1.2.2 0 .2 1.1.2-1.2.2.2.2.3.2.6.2-.9.2.6.2-.2.2-.5.2.2.2 0 .2-.5.2 1.2.2-1.4.2 1.4.2-.1.2-.6.2-.3.2.3.2.4.2.1.2-.2.2.4.2-.8.2.4.2-.9.2 1.2.2-.3.2-.3.2.9.2-.3.2-1.8.2 1.5.2-.8.2 1.4.2.8.2-1.6.2.3.2-.2.2.4.2.2.2.3.2-1.2.2 1.4.2-1.3.2.6.2.5.2-.2.2-.9.2.2.2.1.2.3.2.6.2-1.2.2.9.2.1.2 0 .2 0 .2.6.2-.5.2.2.2-.1.2.7.2-2 .2 1.8.2-.8.2 0 .2-.3.2-.5.2.9.2-.1.2.6.2-1 .2 1.6.2-.6.2-.2.2-.2.2 0 .2-.1.2.3.2.4.2-.1.2-.6.2.6.2-.2.2.6.2.9.2-.6.2-.5.2-.6.2.1.2-.1.2 1.3.2-.7.2.5.2-.4.2.4.2.8.2-1.1.2.2.2-.2.2.9.2-1 .2 0 .2-.1.2 0 .2 1 .2 1.1.2-1.8.2 1 .2-.3.2-.7.2.4.2.1.2-.3.2 1.4.2-2 .2 1.3.2 0 .2-.5.2.4.2.4.2-.4.2.2.2.1.2-1.4.2 1.9.2.4.2-.7.2.1.2-1.3.2.7.2-.3.2.1.2.8.2-.9.2.4.2-1 .2 1 .2.1.2-.4.2 0 .2 1.4.2-1.6.2.1.2.1.2 1.1.2.4.2-.9.2-.5.2.1.2.8.2-1 .2 1.2.2 0 .2-.7.2.3.2.1.2.4.2-1.4.2 1.2.2-.8.2-.2.2.5.2-.2.2-.4.2-.3.2.3.2 1.3.2.2.2-.7.2.3.2-.9.2.3.2.1.2-.7.2.1.2.5.2-.2.2-.4.2.8.2-.4.2.7.2-.5.2-.2.2.2.2-.1.2-.3.2.2.2.6.2-.1.2.3.2-1.5.2.7.2-.1.2.3.2-.3.2 0 .2.7.2-.4.2-.7.2 1.3.2-.1.2-.9.2.8.2-.8.2.9.2-.7.2-.3.2.2.2-.2.2.5.2 0 .2-.1.2-.3.2-1.6.2 2 .2-1.1.2 1.1.2.5.2-.5.2-.3.2.1.2 0 .2-.2.2 0 .2-.2.2 1.1.2-.6.2.5.2-.7.2.2.2-.1.2.3.2.2.2-.3.2-.5.2-.1.2 1.3.2-1 .2 0 .2.9.2-.2.2-.3.2-.5.2 1.4.2-1 .2.1.2-.4.2-.6.2 0 .2.9.2 0 .2-.4.2-.4.2-.2.2.6.2-.6.2 1.2.2.1.2.9.2-1 .2-.8.2-.2.2-1.3.2 1.5.2.2.2.5.2-.1.2-.1.2-.2.2.2.2.4.2-1.3.2.3.2-.4.2 1.5.2-.2.2-.3.2-1 .2.7.2-.2.2.1.2-.1.2.4.2-.5.2.6.2-.3.2-.3.2.1.2-.2.2.7.2-.6.2.3.2-.4.2-.5.2 1.2.2-1 .2.9.2-.2.2-1 .2.3.2.2.2-.1.2-.2.2 1 .2-.5.2.3.2-.4.2.4.2-.5.2.4.2.3.2-.2.2-.3.2-.3.2.7.2.1.2-.2.2-.3.2.7.2 1.1.2-1.4.2.4.2 0 .2-1.4.2 1.4.2-.4.2 1.1.2-.7.2-.2.2.3.2.2.2-.3.2.3.2-.6.2.7.2.5.2.7.2-.6.2-.2.2.5.2 0 .2.4.2-.3.2-.5.2.2.2.1.2.1.2 0 .2-.5.2-.6.2.8.2-.7.2 1.1.2 0 .2-.7.2 1.2.2.1.2-.4.2.9.2.1.2-1.5.2 1.2.2-.3.2 0 .2.3.2-.8.2.1.2-.1.2.1.2.4.2-.7.2.3.2.8.2-.3.2.3.2-1.1.2.5.2.2.2.3.2-.3.2.8.2-.4.2 0 .2.1.2.3.2-.5.2.8.2-.3.2-.1.2 0 .2.2.2.3.2 0 .2-.3.2.3.2-.3.2.6.2-.6.2-1 .2 1.7.2-.6.2-.6.2.5.2-.3.2 1.5.2-.8.2-1 .2 1.1.2-.4.2 1.1.2-1.4.2-.6.2 1.2.2-.2.2 0 .2-.8.2 1.3.2.6.2-1.7.2 1.5.2-.8.2 1.5.2-1 .2-.2.2.6.2-.2.2-.6.2.7.2-.6.2-.6.2 1.9.2-1.1.2-.1.2.5.2-.9.2.1.2.4.2.1.2.3.2.5.2-.8.2.5.2.1.2-.8.2.7.2-.6.2 1 .2-.2.2-.2.2-.7.2.8.2-.5.2.8.2-.4.2-.3.2.8.2 0 .2-.7.2.9.2-.7.2 0 .2.3.2-.5.2.2.2.2.2.8.2 0 .2-.8.2.9.2-.8.2.2.2.2.2-.2.2 1 .2-1 .2-.7.2 1.2.2-.8.2 0 .2-1.3.2 2 .2-.1.2 0 .2.1.2.3.2-.8.2.5.2-.8.2.2.2.7.2-.3.2-.9.2.9.2-.3.2-.3.2.6.2-.4.2-.5.2.2.2 1.4.2-1.6.2.8.2.2.2 0 .2-.8.2.4.2.2.2.3.2-.6.2-.3.2 1.1.2 0 .2-.3.2-.5.2.5.2-.1.2.3.2-1 .2.7.2-.1.2-.5.2.7.2-.1.2-.2.2.4.2-.9.2.7.2.2.2 0 .2.4.2-1.1.2-.1.2.8.2.1.2.8.2-.7.2-.7.2.8.2-.7.2-.3.2 1.9.2-1 .2.2.2-.1.2.6.2-.7.2.5.2-1.1.2-.1.2 1.3.2.1.2-.5.2-.1.2 0 .2-.4.2 1.1.2-.4.2-.1.2 0 .2.3.2-.2.2.1.2-.9.2.9.2.8.2-1.3.2.2.2.5.2.1.2-.2.2-1 .2 1"/>
<text transform="translate(313.50 142.50) scale(1 1.07)" class="lb">+<tspan dx="1.7">2</tspan></text>
<path class="sp" d="M45.8 89l.2 1.9.2 6.2.2-3.1.2 5 .2 10.2.2-9.6.2.1.2-6.4.2 1.4.2-1.4.2 2.5.2-2 .2 2.1.2 2.1.2-3 .2-1.4.2.5.2 7.5.2-1.3.2 4.1.2.2.2-5.2.2 4.2.2-8.1.2 14.8.2-4.1.2-5.2.2-3.5.2 6.2.2-8.5.2 4.4.2 6 .2-2.3.2-2 .2 5.7.2-7.3.2 5.2.2-2.8.2-1 .2 5 .2-5.2.2 10.8.2-8.9.2 9.6.2-11 .2 6.3.2-6.3.2-.3.2 5.5.2 2.1.2-6.8.2 8.9.2-6.8.2 3.4.2 1 .2 1 .2-8.1.2 11.9.2-3.5.2-3.2.2-1.8.2-2.1.2 1.3.2 6.5.2-2.8.2-2.4.2 2.1.2 7 .2-6 .2-.7.2 6.4.2-2.8.2-1.2.2-1.9.2-2.9.2 1.4.2 2.3.2 1 .2 1.9.2.7.2-.9.2.1.2-3.6.2-3.4.2 5.2.2-1.2.2 1 .2 1.3.2-2.7.2.5.2 3.1.2.8.2-2.1.2 3.5.2-1.9.2-2.2.2 3.2.2 5.4.2-7.1.2 5.4.2.7.2.5.2-6.3.2 8 .2-5.1.2-.8.2.2.2 2.4.2-1.3.2-.5.2 4.1.2-5.2.2-.6.2 4.9.2 0 .2 1.1.2-5.4.2 5.6.2-1.3.2 3.3.2-7.4.2 3.8.2-1.1.2-3.2.2 2.3.2 4.7.2-3.9.2-.5.2 4 .2.4.2.1.2-4.3.2 1.9.2 2.7.2-4 .2-.1.2 3.8.2 1.8.2-6.3.2-3.4.2 2.8.2 1.1.2 2.1.2 1.9.2-1.7.2-1.2.2 2 .2-2.5.2 2.2.2-1.3.2 7.6.2-4.1.2-3.7.2-.2.2 1.3.2-2.6.2 2.2.2.1.2 3.7.2-2.8.2-.6.2-1.1.2.5.2 2.6.2-.2.2 3.1.2-3.7.2 3.8.2-1.5.2-.4.2-4.1.2 1.7.2 4.4.2 1.6.2-2.3.2 1.3.2-2.3.2.3.2-.5.2 3.5.2-1.1.2-1.1.2 0 .2 1.9.2-.4.2-2.1.2 5.1.2-2.8.2-.4.2 2.9.2-.8.2-2 .2 1.3.2-3 .2.9.2-2.9.2 6.6.2-5.8.2 5 .2-2.8.2-.2.2 1.6.2.9.2.7.2 2.2.2-2.5.2 1 .2-2.6.2 2.4.2-1 .2-1 .2.7.2.1.2.5.2.3.2-1.5.2-.4.2 2.6.2-4.2.2 1.8.2 3.6.2-7.2.2 3.3.2 2.2.2-4 .2 6.8.2-8.6.2 6.5.2.1.2-1.1.2-1.9.2 1 .2-1.9.2 2.9.2-2.8.2 1.6.2 2.3.2-2.9.2 1.5.2 1.2.2-1.9.2 4.1.2-.9.2-2.5.2 2.4.2-.8.2.3.2 1.2.2-1 .2 2.6.2-2.3.2 2.5.2-1.3.2 1.4.2-1.9.2.2.2-.8.2 2.5.2.6.2 1.7.2-1.1.2-1.3.2-.5.2.9.2-.5.2 2.1.2-.6.2-2.2.2.3.2 2.7.2-1.3.2-.6.2 1.9.2-1.9.2.2.2-.1.2-1.8.2 3.6.2-2.4.2.8.2-.1.2 1.9.2-.9.2.2.2-2 .2 2 .2-1.6.2 2.3.2.1.2-.4.2 2.6.2-1.8.2.2.2-.5.2-.3.2 1.5.2.2.2-2.8.2 2.9.2-.6.2.6.2-.5.2-1.9.2.2.2 3.5.2-1.7.2-1.9.2 2.1.2-.7.2-1.6.2-.5.2.9.2 2.2.2-.3.2-.1.2.7.2.4.2-2.9.2 2 .2-.5.2-.3.2.8.2.6.2-.1.2-1.2.2 1.2.2 2.8.2-3.3.2-.6.2 2.2.2.5.2-.1.2-1.6.2 2.4.2-1.8.2-.3.2.6.2.7.2.9.2 0 .2-.6.2 1.1.2-.8.2.9.2-2.3.2-.1.2 2.5.2-2.1.2 1.2.2.3.2-.3.2.1.2 1.9.2-3.9.2 3.5.2 1.5.2-2.2.2 0 .2.8.2 1.1.2-2.9.2 1.2.2-.2.2.8.2-.4.2.5.2-1 .2.5.2-.6.2 0 .2.5.2.1.2-1 .2 2.7.2-1.6.2-1.2.2 2.4.2-1.7.2 1.2.2-.5.2.3.2 0 .2-.7.2.6.2 1.8.2-3.8.2 2.1.2.4.2-1.4.2-.2.2 3.2.2-2.3.2 2.2.2-1.3.2-.4.2.3.2.2.2.5.2-.7.2-.2.2 0 .2 1 .2-.4.2-1.6.2.4.2.8.2-.8.2.2.2-.6.2.5.2.4.2.3.2-1 .2 1.5.2-2 .2 2.5.2-1.9.2-.5.2-.8.2-1.8.2 2.1.2.4.2 1.4.2-2.5.2 2.7.2-1.6.2.9.2-2.3.2 2.4.2 0 .2 1.2.2-.1.2-.4.2 2 .2.3.2.4.2.8.2.5.2-.4.2-.6.2.2.2 2.3.2-.3.2-.4.2-.3.2.4.2 0 .2-.2.2-.2.2 2.1.2-1.4.2-.5.2-.5.2.5.2 1 .2.1.2-.7.2.2.2-.2.2-.5.2 1.6.2-.6.2 1.5.2-2.2.2.4.2.7.2-.7.2-.7.2.3.2.7.2.2.2-.2.2.7.2 0 .2-.4.2-.1.2-.2.2.6.2.3.2-.5.2.3.2-.4.2-.7.2.3.2 1.2.2-.1.2.8.2-.9.2.6.2.4.2-.2.2-.9.2.3.2.3.2-.6.2 1 .2.5.2-.9.2 1.6.2-1.3.2.1.2.1.2-.2.2.8.2-.1.2 1.1.2-.6.2.1.2-.4.2-.7.2 1 .2-.4.2 1.2.2-.5.2 1.1.2-.5.2.2.2-.3.2.1.2.3.2.3.2-.9.2.8.2 1.4.2-1.6.2 0 .2-.2.2-.4.2 1.7.2-.6.2.2.2 1 .2.5.2-2.1.2 1.3.2-.2.2-.1.2.1.2-.2.2 1 .2-.5.2-.1.2.6.2-.1.2-.2.2-.1.2 1 .2-.7.2-.3.2-.4.2.3.2-.3.2.7.2.2.2-1.4.2 1.3.2.5.2-.3.2-.6.2 1.4.2-1.1.2-.3.2.2.2.7.2.6.2.2.2-.5.2-.8.2.4.2-.1.2.5.2-.9.2 1.1.2.4.2-.4.2.4.2-.8.2-.2.2.5.2 1.1.2 0 .2-.8.2 1 .2-.8.2 1.1.2-.6.2-.5.2.8.2-.9.2 0 .2-.2.2 1 .2-.1.2 0 .2-.1.2 1.1.2-1 .2-.2.2 1.2.2.2.2-.6.2-1.2.2.7.2.8.2-.3.2.9.2-1.6.2 1.2.2-.7.2 1.2.2-.8.2.7.2-.9.2-.4.2.2.2.3.2-.2.2 1.3.2.2.2-.6.2-.7.2.6.2-.3.2 1.2.2-.6.2.2.2-.5.2-.9.2.8.2-.2.2.9.2-.1.2-.5.2.3.2 1.1.2-1.4.2.1.2.4.2-.2.2.2.2.6.2.7.2-1.9.2 1 .2.1.2-.1.2 0 .2 0 .2.7.2-.7.2.2.2.1.2.1.2-.1.2.7.2-.6.2.2.2-.1.2-.5.2.1.2-.1.2.7.2-.4.2-.2.2.8.2.2.2-1.3.2 2 .2-.9.2-.1.2.7.2-.5.2-.3.2 1.5.2-1.7.2.5.2.6.2-1 .2.5.2.3.2 1.2.2-1.8.2.5.2.4.2-.3.2-.6.2.9.2-.2.2.2.2.5.2-.1.2-.3.2 0 .2-.7.2.5.2.2.2-.3.2.3.2-.4.2 1.3.2.3.2-1.3.2.4.2-.3.2.8.2-.4.2-.1.2-.2.2.3.2-.6.2.9.2-.7.2.7.2-.2.2.5.2-.5.2.5.2-1 .2.9.2-.4.2.2.2 0 .2.5.2-1.6.2 1.3.2-.9.2 1.4.2-1.6.2.5.2-.3.2 1.7.2-1.5.2.8.2-.3.2-.7.2.8.2.6.2-.4.2.6.2-.7.2.2.2-.1.2.4.2.8.2-.8.2 0 .2-.4.2-.1.2 1.2.2-1.3.2.1.2.5.2-.2.2 1.3.2-2.2.2 1.4.2.2.2-.9.2.2.2.6.2.7.2-1.3.2-.3.2 1.3.2.3.2-.9.2-1 .2 1.9.2-.8.2.7.2-.6.2-.1.2 0 .2 1 .2 0 .2-1.8.2.6.2 1.4.2-1 .2-.5.2.7.2 0 .2 0 .2-.2.2.1.2 0 .2.4.2-.5.2.2.2.1.2.8.2-.5.2-.2.2.4.2-.1.2.4.2-.3.2.7.2-.2.2-.7.2-.1.2.6.2-.1.2-.3.2-.7.2-.1.2 1.1.2.2.2 0 .2-1 .2 1.2.2-.8.2.5.2 0 .2-.5.2.1.2-.7.2.6.2-.5.2 1.2.2-.2.2.5.2-.3.2-.5.2.5.2-.3.2.5.2-.1.2-.6.2.5.2 0 .2-.1.2.6.2.4.2-1 .2 0 .2-.9.2 1.1.2-.2.2-.8.2 1.2.2.2.2-.7.2.2.2-.2.2.8.2-1.1.2.6.2 1.2.2-.9.2.2.2-.3.2-.5.2.6.2.2.2-.7.2.7.2.5.2-.1.2-1.3.2.3.2-.3.2 1.4.2-.2.2 0 .2-.8.2-.1.2.6.2.1.2-.5.2.5.2.3.2-.2.2-.6.2-.5.2.9.2.2.2-.2.2 0 .2-.2.2.7.2-.3.2.1.2-.5.2.1.2.4.2-.5.2-.1.2.4.2.8.2-.5.2.7.2-.8.2-.1.2-.5.2.4.2 1 .2-.5.2.2.2 0 .2-.3.2-.1.2.1.2.3.2-.1.2 0 .2-.1.2-.4.2.2.2-.3.2.9.2-1.5.2 1 .2 1.2.2-1.3.2-.4.2.6.2.6.2-.7.2.4.2-.3.2-.2.2 1.7.2-1.5.2-.3.2.1.2.4.2 0 .2.2.2-.3.2-.8.2 1 .2-.4.2 0 .2-.6.2.4.2 0 .2.3.2-.7.2.8.2 0 .2-.6.2.2.2-.1.2.9.2-1.7.2 1.1.2-.7.2.6.2.6.2-.7.2.4.2-.5.2 1.4.2-.5.2.1.2-1.2.2.1.2 1.1.2-.6.2-.1.2.3.2-.8.2 1 .2-.3.2.2.2-.6.2.6.2-.6.2.8.2.1.2-.1.2-.2.2.1.2-1.6.2 1.7.2-.6.2.2.2-.2.2-.5.2.4.2.6.2.3.2-.9.2-.2.2 1.2.2-1.2.2 1.5.2-1 .2-.5.2.9.2.4.2-1.5.2 1.4.2-.9.2.9.2-.9.2-.6.2 1 .2.2.2.6.2-.2.2-.5.2-.4.2-.2.2.2.2-.3.2.3.2-1.1.2 1.3.2-.1.2 1.3.2-.9.2-.5.2.5.2-.9.2.4.2-.6.2 1.6.2-.4.2-.8.2.5.2.5.2-.1.2-.1.2-.5.2.1.2.4.2.4.2-.8.2-.1.2 1.1.2-.9.2 1 .2-.4.2.3.2.5.2-.5.2.1.2-.8.2.2.2.6.2.5.2-.1.2.5.2-.9.2 0 .2.4.2-.5.2 0 .2-.4.2 1 .2-1 .2.8.2-.9.2 1.2.2-1 .2.9.2-1.1.2.6.2.7.2-.9.2.4.2-.2.2-.9.2 1.3.2 0 .2-.7.2.8.2-.6.2-.1.2.4.2-.3.2 1.4.2-1.8.2 1.1.2.1.2-1.4.2.2.2 1 .2-.4.2.4.2.3.2-.7.2-.3.2-.8.2 1.4.2-.5.2.5.2 0 .2-.7.2 1.4.2-.3.2-.1.2-.9.2.3.2 0 .2 0 .2-.3.2.7.2-.1.2.1.2-.4.2.8.2-.5.2-1.3.2.9.2.3.2.5.2-.6.2 0 .2-.1.2.6.2-.5.2-.1.2-.1.2.6.2-.5.2-.5.2 1.1.2-.6.2.5.2 0 .2.4.2-.1.2-.7.2.2.2-.5.2 1.4.2-.6.2.5.2-.8.2-.8.2 1.7.2-.7.2.1.2 0 .2.3.2-.1.2-.9.2 1.2.2-.7.2.1.2 1 .2-.4.2-.5.2-.7.2 1 .2.1.2-.2.2-.5.2.2.2-.2.2.7.2.3.2.1.2-.7.2.4.2.2.2-.5.2.2.2 1.1.2-.9.2.4.2-.6.2.2.2-.8.2.8.2.6.2.5.2-.4.2-.2.2-.3.2-.3.2.2.2.4.2-.6.2.8.2-.9.2-.3.2.4.2-.3.2.1.2 1.2.2-.6.2.2.2.5.2 0 .2-.8.2.9.2-.4.2-.2.2.3.2-.9.2.3.2.4.2.3.2-.4.2.1.2.5.2.2.2-.2.2.2.2-.7.2 0 .2.4.2-.3.2-.1.2 1 .2-.8.2-.3.2.6.2.7.2-.8.2.5.2-.7.2 0 .2-.1.2.3.2.9.2-1.3.2 1.3.2-1.2.2.4.2.5.2-.1.2-.2.2-.8.2.9.2-.6.2 1.7.2-1.3.2.2.2-.6.2.4.2-.4.2 1.1.2-.6.2.4.2-.5.2.1.2.8.2-1 .2-.4.2 1.1.2-.7.2.3.2.6.2-.7.2.8.2-.7.2 1 .2-.1.2-.8.2.2.2-.3.2.5.2.4.2-1.1.2 1.1.2-1 .2.2.2-.4.2 1.8.2-.9.2.1.2-.4.2.8.2-1.4.2 1 .2 1 .2-1.2.2.2.2.3.2-.6.2.4.2.4.2-.3.2.1.2-.3.2.3.2-.1.2.7.2-.3.2-.4.2-1 .2 1.4.2.1.2-.7.2-.5.2.4.2 1 .2-.9.2.3.2.3.2.5.2-.5.2-.1.2-.1.2 1 .2-.3.2-.4.2-.6.2.3.2.6.2-.5.2.7.2-.2.2 0 .2.2.2 0 .2-.6.2.3.2 1.2.2-1.6.2.4.2.7.2-.5.2-.3.2-.2.2.9.2.2.2.2.2-.6.2.5.2-.9.2.6.2-.4.2.4.2.3.2.2.2-.9.2 1"/>
<text transform="translate(313.50 173.50) scale(1 1.07)" class="lb">+<tspan dx="1.7">4</tspan></text>
<path class="sp" d="M45.8 130.5l.2-1 .2 3.5.2-3.4.2 5.4.2 1.6.2-1 .2 2.8.2-2.4.2 1.3.2-4.3.2 4.8.2-2.6.2 1.5.2 1.3.2 1 .2-5.5.2.4.2 4 .2 2.5.2-.2.2 1.8.2 1.3.2-2.4.2-1.4.2-3 .2.4.2 1.5.2 2.3.2 0 .2-.5.2-.4.2 2.5.2-1.2.2.4.2.2.2-2.4.2-1.3.2 4.6.2-.1.2-1.8.2-.4.2 8 .2-8.8.2 1.7.2 1.6.2-4 .2 3.8.2 4.9.2-2.3.2-.8.2 0 .2-1.3.2 2.6.2-3.1.2-.7.2 1.6.2 2.4.2-1.5.2 1 .2-7.4.2 9.1.2 3.3.2-2.8.2-4.5.2-1.4.2 3.2.2-3.4.2 4.8.2-3.4.2 4.2.2 1.1.2-9.2.2 6.4.2-2.6.2-1.9.2 2.2.2 1.2.2 3.4.2-6.8.2 6.9.2 2.6.2-3.7.2-.1.2-1.4.2-3 .2 4.6.2-.4.2 1 .2 4.8.2-4.7.2-.7.2 3 .2-7.4.2.6.2 2 .2-.6.2 3.5.2-2.4.2 5.3.2-.5.2-1.8.2-2.8.2 2.5.2.4.2-3.8.2 2.9.2.7.2-.7.2 2.1.2-.6.2-2.6.2 1.4.2-1.1.2 1.9.2-1.7.2 2.4.2-.5.2.9.2-1.3.2-1.4.2 4.1.2-2.2.2 2.1.2-1 .2.5.2 1.5.2-1.6.2 1.5.2-3.3.2 3 .2-1.1.2.3.2.3.2.6.2 1.8.2-4 .2 2.4.2-.7.2 2.4.2-1.7.2 1.2.2-.9.2 1.5.2.5.2-1.5.2.7.2-1.6.2 2.2.2.7.2-1.4.2 2 .2-3.5.2.4.2.7.2 1.1.2.7.2.1.2.1.2 1 .2-1.2.2-.7.2.1.2 3.9.2-4.8.2 2.5.2 1.9.2-1 .2-1.3.2 1 .2 1.1.2.5.2-2.2.2 1.9.2-.4.2 1 .2.4.2-1.7.2-1.1.2 2.1.2 1.6.2-1.1.2-.4.2 2.4.2-3.5.2 2.1.2-1.4.2.8.2.1.2 1.6.2-2.5.2.5.2-1 .2 2.3.2-.9.2 1 .2-1.5.2.8.2 1.5.2-1.1.2.8.2 0 .2-.8.2-1.2.2 2.6.2-.7.2.8.2-2.9.2.4.2-.4.2 1.3.2 1.9.2-.4.2-.6.2.2.2.7.2-1 .2.7.2-.2.2-2.1.2 1.7.2 1.7.2-1.6.2.3.2-.3.2.2.2 1.5.2-1.2.2-.6.2-1.8.2 2.5.2-1.2.2.3.2 2.5.2 0 .2-2.2.2 2.6.2-.2.2-.9.2 1.4.2-1.9.2.5.2-.1.2.5.2 1.8.2-1.8.2.3.2.3.2 1.1.2-.4.2 1.2.2-1.2.2-.4.2.8.2.5.2-.7.2 1.1.2 1.4.2-1.9.2.7.2 1.1.2-1.5.2-.1.2-.1.2 1.4.2.1.2-.4.2.3.2 1 .2-.2.2-1.7.2 1.2.2.2.2.5.2-.6.2-.3.2.2.2-.9.2 1.4.2-.3.2.9.2-1.1.2.5.2-.4.2 0 .2 1.5.2-.9.2.8.2-1.2.2 1 .2-1.3.2 1 .2 0 .2.9.2-.2.2-.3.2.9.2-.5.2.4.2.2.2-.6.2-.1.2.5.2-.5.2.7.2.6.2-.1.2-.9.2-.6.2 1 .2 0 .2 1 .2-1 .2.2.2.8.2-.8.2.3.2 1.4.2 0 .2-.6.2-.2.2-.8.2 1.2.2-.3.2.3.2-.5.2.5.2-.1.2.5.2.9.2-.7.2-1.4.2.6.2-.4.2.7.2 1 .2 0 .2-.7.2.7.2-.7.2-.4.2.1.2.4.2 1.7.2-1.9.2 1.9.2.1.2-1 .2.1.2-.3.2.5.2.5.2-.4.2.7.2.2.2-.5.2 0 .2-.2.2.3.2-.9.2 1 .2-.1.2-.6.2 2 .2-2 .2.1.2.8.2-1.5.2.9.2-.5.2.4.2.6.2.4.2.5.2-.2.2.3.2-.3.2-.7.2 1.1.2-1 .2-.1.2 1.5.2-.5.2-.3.2.3.2.2.2-1.5.2.9.2-.7.2.9.2-.5.2 1.3.2-.5.2-.8.2.5.2-.7.2.8.2.4.2-.2.2-1.3.2 1 .2.6.2-.1.2.5.2-1.5.2 1.2.2-.7.2.5.2.2.2.2.2-.8.2.5.2-.8.2-.1.2 1.2.2-.3.2-1 .2.5.2.6.2 1 .2-.3.2 0 .2-1.5.2 1.2.2.5.2.2.2.2.2-.2.2 1.4.2 0 .2-.8.2-.3.2 1.9.2-1.5.2 1.2.2.5.2-1.6.2.9.2-.3.2.6.2 0 .2 1 .2-.7.2-.2.2.7.2-.7.2 0 .2 1.6.2-1.7.2.3.2.4.2-.6.2-.5.2 1.8.2-.9.2.2.2.1.2-.3.2 0 .2.8.2 1.3.2-.9.2 0 .2-1.2.2.9.2-.6.2 1.1.2-.5.2.1.2 0 .2-.2.2-.5.2 1.1.2-1 .2.1.2.5.2-.2.2.6.2.4.2-.4.2 0 .2-.1.2.5.2-1.4.2 1.2.2-.7.2-.1.2.7.2-.2.2.5.2.3.2-1.8.2 1.3.2 1.1.2-.5.2.3.2-.7.2-.8.2.3.2 1 .2.2.2-.9.2.3.2.3.2-1 .2.8.2 1.1.2.3.2-1.2.2 1.1.2-1.2.2-.1.2-.7.2 1.7.2-.6.2 1.5.2-1.1.2 0 .2-1 .2 1.8.2-1 .2.2.2-1.1.2 1.7.2.1.2-.8.2.4.2.2.2.4.2-.5.2.9.2-1 .2-.1.2.1.2-1.1.2 1 .2 1 .2-.4.2-.5.2.7.2-1.3.2 1 .2.5.2.1.2-.7.2.9.2.6.2-1.2.2.7.2-1.2.2-.2.2 1.5.2-.3.2.1.2-.3.2.2.2.6.2.6.2-1 .2-.7.2 1.6.2-.3.2.1.2-.2.2 1.2.2-1.1.2.2.2-1.1.2.7.2 0 .2.4.2.3.2-.6.2 1.4.2-1.4.2.4.2.4.2-.7.2 1 .2.1.2-.4.2 1.2.2-.9.2.2.2-.6.2-.3.2.6.2.2.2 0 .2.7.2-1.6.2.8.2-.3.2 1.7.2-.9.2.1.2-.3.2 1.1.2-.6.2.4.2-1.1.2 1.7.2-.3.2.1.2.4.2-.6.2 0 .2.6.2-.1.2-.3.2.2.2-.2.2.7.2.1.2-.4.2 1.1.2-1.8.2.8.2 1 .2-1 .2-.6.2 1.6.2-.3.2-.9.2 1.1.2-.9.2-.1.2.6.2-.1.2-.2.2.4.2-.3.2.6.2 0 .2.5.2-.6.2-.4.2 0 .2.6.2 1 .2-.3.2-.8.2.9.2-1.1.2 1.2.2-.7.2.6.2 0 .2-.4.2.3.2-.7.2.6.2.6.2 1.6.2-1.7.2-.3.2-.5.2 1.1.2-1.4.2.5.2.6.2-.8.2 1.5.2-.2.2-.9.2.1.2-.4.2 0 .2 1 .2.1.2-.1.2 0 .2-.4.2.5.2-.9.2.8.2.8.2-.1.2-.9.2.1.2.9.2.3.2-1.7.2.6.2.3.2.6.2-1.1.2.8.2-.4.2 1.4.2-1 .2-.3.2-.1.2.8.2-.2.2-.9.2.7.2-.7.2.3.2-.3.2 0 .2.4.2-.1.2.8.2.1.2-.5.2-.4.2 1 .2-1.4.2 0 .2 1.4.2 0 .2.2.2-.6.2-.5.2.4.2.6.2-.7.2.1.2-.4.2.2.2 1 .2-.1.2-.8.2 0 .2.3.2.6.2-.9.2.6.2-1 .2.5.2.8.2.3.2-1 .2.2.2.8.2-.6.2 0 .2.5.2-.1.2.5.2-.1.2-.7.2.2.2.1.2-.7.2.3.2 1 .2-1.3.2 1.3.2-.3.2-.2.2.4.2 0 .2.3.2-.7.2.1.2 0 .2 1.1.2-.5.2-.9.2.3.2-.1.2.3.2.2.2 1 .2-2 .2 1.4.2-.2.2-.6.2.3.2-.1.2.3.2.5.2-1.3.2 1.5.2-.9.2 1 .2-.5.2.4.2-.3.2.3.2-.5.2-.5.2.8.2.1.2.7.2-2.1.2 1 .2.6.2-1.1.2.5.2 1.2.2-.3.2-1.2.2 1.2.2-.1.2-.2.2-.1.2-.1.2-.5.2.2.2.6.2-.3.2.9.2-1.1.2-1 .2 1.1.2.3.2.1.2-.2.2-.4.2 1.2.2-1.1.2.7.2-.4.2-.5.2 1.4.2-2 .2.9.2.6.2-.4.2.6.2-.4.2-.1.2 1.3.2-1.2.2.1.2-.5.2.2.2.7.2 0 .2-.3.2-.3.2.7.2-1.2.2.7.2.1.2-.3.2.5.2-.3.2-.1.2 1.3.2-.5.2.3.2-.6.2.5.2-.1.2.2.2.6.2-1.2.2.2.2-.1.2-1.7.2 1.1.2.7.2.3.2-.6.2.9.2.1.2-.8.2.9.2.2.2-.7.2-.6.2 1.2.2-.8.2-.1.2.3.2-.3.2.8.2-.2.2.3.2-.3.2-.7.2.4.2.5.2-.6.2 1.6.2-1.5.2-.1.2.8.2-.1.2-.4.2-.1.2.4.2.2.2 0 .2-.5.2.4.2.2.2 0 .2-1.9.2 1.1.2.1.2.3.2.2.2.4.2-.2.2-.3.2.1.2.9.2-1.2.2.5.2.6.2-.6.2-1.1.2 1.2.2-.4.2.2.2.5.2-.2.2-.4.2.6.2-.2.2-.2.2.1.2 0 .2-.3.2 0 .2.2.2-.5.2-.1.2 1.2.2-.7.2.1.2-.1.2.1.2 0 .2 0 .2-.4.2.8.2-.8.2.9.2-1.5.2.4.2 1 .2-.5.2-.3.2.5.2-.7.2.6.2-1.2.2.9.2-.1.2.5.2.2.2-.8.2 1.1.2-1 .2-.7.2-.2.2 1.9.2-.8.2-.3.2-.1.2-.1.2 1.1.2-.7.2.9.2-1 .2-1 .2 1.5.2-.6.2.1.2.8.2-.8.2.6.2-.5.2-.4.2.6.2-.6.2.9.2-.1.2-.5.2.3.2 0 .2-.5.2.6.2-.6.2.4.2-.7.2.5.2.1.2-.6.2.2.2-.1.2.6.2-.7.2.6.2.5.2-.6.2-.9.2.8.2.4.2-.6.2.7.2-.3.2-.1.2-.3.2-.1.2.1.2.1.2.3.2-.1.2-.3.2.1.2.2.2-1 .2.4.2 0 .2.3.2 0 .2 0 .2-.3.2.8.2-.2.2-.9.2.8.2-.5.2 1.4.2-1 .2 0 .2.3.2-.1.2.1.2.7.2-.6.2.4.2.1.2-.9.2 1.3.2-.5.2.2.2-.8.2.8.2-.1.2-.5.2 1.4.2-.8.2-.3.2.3.2.3.2.2.2-.2.2.3.2.2.2-1.3.2.4.2-.1.2.5.2.7.2-.4.2-.7.2.4.2.7.2-.7.2.2.2.2.2-.9.2 1.2.2-.1.2.1.2-.7.2.2.2.1.2.4.2 0 .2.1.2.8.2-.2.2-.9.2 0 .2 1.2.2-1 .2.9.2.1.2-1 .2.2.2.2.2-.4.2-.1.2.3.2.7.2-.6.2.1.2-.1.2-.4.2 1.4.2-1.8.2.9.2.5.2-.8.2.9.2.4.2-1 .2.5.2-.6.2.8.2-.2.2.1.2.6.2-.4.2.4.2-.3.2-.8.2.7.2.1.2-.8.2 1.3.2-.6.2.2.2-.6.2.5.2.1.2-.2.2.2.2-1 .2 1.6.2-1.1.2-.5.2.6.2.1.2.7.2-.7.2.6.2-.6.2 1.5.2-.7.2.6.2-1.3.2.8.2-.7.2.7.2.1.2-1.1.2.3.2 0 .2-.2.2.4.2-.1.2-.2.2.8.2.2.2-.8.2.3.2.3.2-.1.2-.2.2.7.2.1.2-.1.2-.4.2 1.1.2-.1.2-1 .2.2.2.6.2-.9.2.6.2-.2.2-.3.2.2.2-.6.2.5.2-.6.2 2 .2-.4.2-.1.2-.4.2.3.2.2.2-.1.2 0 .2-.8.2.6.2-.4.2-.3.2 0 .2.8.2.3.2-1.1.2 1.4.2-.1.2-.8.2 0 .2.2.2.5.2-.6.2-.4.2.7.2-1.1.2 1.1.2.4.2-.3.2.2.2-.1.2.1.2-.2.2-.4.2.2.2.1.2.7.2.1.2-.5.2-.5.2 0 .2.3.2.7.2-.4.2-.2.2-.3.2.8.2-.3.2-.1.2.1.2.7.2-.8.2.8.2-.2.2-.5.2.4.2-.4.2-.3.2.3.2-.3.2.6.2-.2.2.3.2.1.2-1.7.2 1.5.2-.9.2.9.2-.4.2.4.2.6.2-1.4.2.9.2-.1.2-.8.2 1.2.2-.3.2-.2.2-.1.2 1.8.2-1.6.2-.6.2.4.2.2.2.1.2.1.2-.4.2.7.2-.4.2-.4.2.3.2.2.2.5.2-.1.2-.4.2.2.2.1.2.8.2-1.1.2.5.2.1.2-.7.2.5.2 0 .2-.3.2.5.2.2.2.1.2-.6.2.2.2 1 .2-1.5.2.6.2.3.2-.3.2.2.2-.2.2.3.2.2.2-.6.2.2.2-.1.2-.1.2.1.2-.4.2.8.2.4.2.1.2-.2.2-1 .2 1.1.2-.9.2.3.2.8.2-1.3.2.9.2-.2.2-.2.2-.3.2.6.2-.4.2.7.2.1.2-1.2.2.4.2.1.2-.3.2 0 .2.6.2-.2.2-.6.2.5.2.5.2-.7.2.1.2 1.1.2-.1.2-1.3.2.2.2.7.2-.6.2.4.2-.1.2.5.2-1.4.2.2.2.4.2 1"/>
<text transform="translate(313.50 204.30) scale(1 1.07)" class="lb">+<tspan dx="1.7">5</tspan></text>
<path class="sp" d="M45.8 227.6l.2-4.6.2 6.1.2.5.2-2.9.2-.4.2 2.1.2 2 .2-3.1.2.9.2-1.8.2-1 .2-1.6.2 3.1.2-1.6.2 0 .2 3.2.2-1.4.2 1 .2-6.8.2 5.8.2-3.3.2-.6.2-.2.2 5.5.2-1.1.2-4.3.2-1.2.2 3.1.2-1.4.2 5.6.2-8.4.2-1 .2 4.1.2.7.2.2.2 1.6.2 3.4.2-6.4.2-.6.2-3.2.2 5.2.2 1.5.2-3 .2 3.7.2-3.1.2 3.8.2-3.1.2-3.6.2 1 .2-2.4.2-.5.2 5 .2 1.4.2 2.7.2-5.2.2-.5.2-2.2.2 5.1.2-1.5.2-2.6.2 3.1.2-.4.2-6.1.2 6.4.2-1.6.2-1.4.2-.2.2 5.2.2-.6.2.6.2-7.3.2 1.1.2 3.6.2-5.1.2 1 .2-2.7.2 8.6.2-2 .2-1.5.2-.7.2-1.6.2 0 .2 2.2.2-3.2.2 4.4.2-4.1.2-1 .2 4.9.2-3.4.2 1.5.2-2.4.2-4.3.2 6.3.2-4.5.2 5.4.2-6.2.2-.9.2 4.6.2-.1.2-1 .2-3.2.2 4.4.2-5.5.2 2 .2-.8.2.9.2 2.7.2-3.2.2 2.7.2.4.2-5.1.2 1.3.2 1.9.2-.3.2 2.2.2-4.6.2 5.8.2.3.2-1.7.2-2.4.2 3.2.2-1 .2 2.5.2-1.2.2 1.9.2-2.3.2 4.1.2-7.6.2 2.9.2 3.3.2-3.9.2 4.8.2-3.8.2 2.8.2-1.8.2 1.1.2 1.4.2-.4.2-.4.2 5.2.2-4.2.2-1.8.2 3.8.2-.2.2.8.2 1 .2-5.4.2 3.7.2-.1.2-2.6.2.1.2-6.7.2 4.2.2 4 .2-7.3.2 1.8.2 1.1.2 0 .2 1.4.2-6.9.2 2.9.2 1.1.2-4.5.2 2 .2 3.3.2-1.3.2-1.6.2-5.8.2 4.5.2.9.2-1.2.2.4.2 5.7.2-5.9.2-1.3.2 2.3.2-1 .2.1.2.5.2 1.6.2-.9.2-2.5.2 2 .2 1.1.2-1.6.2 2.9.2-.6.2-3 .2 2.4.2 2.9.2-.6.2-2.8.2 1.7.2-2.7.2-1.3.2 3.5.2-.5.2.5.2-.9.2.5.2-1.4.2 1.6.2.5.2-1.6.2 1.4.2-4.5.2 1.6.2 3.6.2.4.2-2.7.2-.7.2-2.1.2 2.7.2.6.2-3.9.2 3.3.2-.1.2-.2.2-2.6.2 2.8.2-3.4.2 5 .2-2.2.2-2.1.2 4.2.2-.3.2-2.8.2 4.7.2-5.1.2 2.2.2 1.5.2-5.5.2 5.4.2-1.6.2.2.2-1.6.2 2.4.2-2.2.2.4.2 1 .2-1.1.2 4.6.2-4.5.2 1.1.2.8.2.7.2 1.3.2.2.2-1.6.2 0 .2.8.2 1.4.2 0 .2-1.7.2-2.2.2 6.7.2-1.6.2-.9.2.4.2-1.2.2-.5.2 1.3.2.4.2-.4.2-1 .2 2.1.2 1.7.2-1.3.2 1.1.2-2.8.2 3.2.2.4.2-1.3.2-.5.2 3.4.2-1.6.2 2.1.2-1.3.2 1.6.2-1.5.2-1.9.2 1.9.2-.7.2 1.1.2-2.1.2-.4.2 1.3.2-.1.2-1.1.2-.1.2-1.4.2 0 .2-.2.2-1 .2-.8.2 0 .2 3.2.2-3.6.2-.4.2-.3.2.4.2.4.2-2.1.2-1.2.2 3.2.2-2.7.2 2.6.2-.2.2 1.4.2.8.2-1.9.2-1.2.2-.9.2.6.2 1.2.2-2.9.2 3 .2 0 .2.9.2-1.3.2.7.2-1.1.2.5.2-1.7.2 2.6.2 2 .2-1.8.2.4.2-1.7.2 3.4.2-2.8.2 2.3.2-.8.2-1.2.2 2.9.2-1.1.2.4.2.6.2-.4.2-.3.2 1.3.2-1 .2.8.2-.8.2-.9.2 1.3.2.4.2.8.2 1.7.2-3.6.2 2.5.2-2.8.2 1.6.2.7.2-2.1.2.5.2 2.6.2-.1.2-.4.2-1 .2 3.5.2-3.1.2-1.2.2 2.8.2-1.7.2-1.6.2 1.6.2-1.7.2.2.2-.9.2-1.9.2 2 .2-1.3.2-1.8.2 0 .2 1.9.2-1.9.2.4.2.6.2-.7.2-2 .2 2.6.2.3.2-.1.2.8.2-1.5.2.4.2 1 .2-2.3.2 2.4.2 0 .2-1.2.2 1.2.2-1.1.2-2.1.2 2.3.2-.9.2.1.2-.3.2 1.4.2-1 .2-1.4.2 1.4.2.3.2-1.6.2.4.2.1.2-.1.2 1.1.2.9.2 1.1.2-.6.2 0 .2.3.2.4.2-1.7.2 1.3.2-.2.2-.2.2-.2.2.2.2.5.2-.9.2 2.1.2-.3.2.3.2.5.2.6.2-1.2.2.7.2-1.4.2-.5.2.6.2 4 .2-3.4.2 2.8.2 1.3.2-1.7.2 2.5.2.5.2-.6.2 1.8.2-1.6.2-1.2.2 1.6.2-.7.2-.7.2.2.2 4 .2-2.8.2.7.2-.6.2.9.2-.3.2-.2.2-1 .2-.5.2.3.2.6.2 1.3.2-1.7.2.1.2-2 .2-1.3.2-1.9.2.7.2-2.8.2 1.4.2 1.6.2-1.7.2.7.2-1.7.2-1.1.2.8.2 0 .2 1.5.2.7.2-2.8.2.3.2.1.2-.2.2-1 .2 1.3.2.3.2 0 .2-1.7.2 1.1.2-1.6.2 2.7.2-1.8.2 1 .2.2.2.3.2-.1.2-.2.2 4 .2-.9.2.5.2 2.3.2-1.8.2 1 .2-.2.2 1.4.2-.6.2-.2.2-.5.2.5.2.8.2-3.2.2 1.9.2-.3.2 0 .2-1.7.2 2.7.2-1.6.2.5.2-.3.2-1.2.2 1.1.2-1.4.2.8.2.6.2.2.2 0 .2-.2.2 2.2.2-1.7.2-1.7.2.6.2-.1.2.5.2-.4.2-.3.2 2.5.2-1.5.2-.2.2.2.2.3.2 1.8.2-.7.2.9.2-3.8.2 3.6.2 1 .2 1.2.2-1.6.2-1.4.2 2.5.2-.9.2-.9.2 1.3.2 1.7.2.3.2-.4.2-1.7.2 3.4.2-3.5.2 1 .2-1.3.2 2.6.2-.8.2.3.2-.7.2-.2.2.2.2-2 .2 2.6.2-.1.2-1.2.2.3.2.2.2 1.1.2-1.1.2-.4.2-.5.2-1 .2.8.2.6.2-.4.2.3.2.6.2-.4.2-.1.2.3.2-.5.2-.2.2.5.2-2 .2 2.7.2-2.3.2 1.9.2-.7.2.9.2-.9.2-.9.2 1.8.2-.8.2 0 .2-.1.2.8.2-.1.2-.5.2-1.6.2 1 .2.4.2 1.5.2-1.2.2-.4.2 1.1.2-1.2.2.1.2.2.2-1.5.2 2.2.2-.5.2-.6.2-.8.2 1.2.2 1.1.2-1.8.2-.4.2 1.3.2-1.7.2-.6.2 1.6.2-.3.2.4.2-.2.2.7.2-.4.2-.4.2.2.2.9.2.3.2-.1.2-.2.2-3.4.2 2 .2.6.2.4.2-1.5.2 2.6.2-1 .2-.8.2.7.2-.4.2-.4.2 1.1.2-.7.2-.8.2.7.2.5.2-.8.2 2 .2-1.9.2 2.5.2-.7.2-1.5.2 1 .2 1 .2-1.1.2-.8.2 1.1.2 1.7.2-2.9.2 1.8.2-.4.2-.1.2-.1.2.1.2 1.1.2-.3.2-1.2.2 2.1.2-2.3.2 1.7.2-.4.2.9.2-.6.2.6.2-.8.2.8.2-.4.2 1.5.2-2.3.2 1.6.2-.5.2-.2.2-.5.2.8.2-1.5.2.2.2 1.7.2-1.8.2 2.5.2-1.3.2.4.2 0 .2.3.2-.5.2 0 .2.2.2 1 .2.1.2.2.2-.7.2-.4.2-1.1.2 1.9.2.2.2-1 .2 1 .2.5.2-.9.2.8.2-.6.2-1.5.2 1 .2.1.2.8.2-1 .2.3.2-.3.2.7.2.2.2.7.2-.1.2-.4.2.1.2-.1.2.1.2 1.1.2-3 .2 1.8.2.4.2.7.2-1.7.2 1.2.2.4.2-.9.2-1.1.2 1.2.2-.5.2 1.4.2-1.1.2 2 .2-1.1.2-.7.2.3.2-.4.2 1.2.2.8.2-1.2.2.9.2-1.3.2 1 .2 1.5.2-2.6.2 2 .2 0 .2-2.2.2.4.2.5.2 1.5.2-1 .2.3.2.7.2-.3.2.2.2-.3.2 1.1.2-1.2.2 1.8.2-1.3.2-.3.2 1.2.2-.1.2-1.6.2 1.7.2-1.1.2.5.2 1.2.2-1 .2.9.2-.4.2 1.7.2-1.4.2-.7.2.1.2.3.2.7.2 0 .2.8.2-.6.2 0 .2.2.2-.3.2.3.2.4.2 0 .2-.9.2-.9.2.6.2.8.2-2 .2 1.3.2.6.2-.7.2-.5.2 2 .2-.4.2-1.2.2 1 .2-.1.2-1.8.2 2.6.2-2.7.2.4.2-.7.2.7.2-1 .2.8.2.7.2-.7.2-.5.2 1.2.2-1.7.2 1.2.2-.9.2.3.2-.2.2 0 .2-.1.2-.5.2.1.2.8.2-.4.2-.7.2.3.2 0 .2.5.2.2.2 0 .2-.5.2.5.2-.9.2-1 .2 2 .2-1 .2.5.2-.1.2 1.3.2-1.2.2 1.1.2-.5.2-.5.2-.2.2 1.5.2 0 .2.3.2.8.2-1 .2 0 .2-.2.2.2.2-.3.2-.3.2 2 .2-2.6.2 1.5.2.1.2-.2.2-.7.2.6.2-.2.2-.4.2.7.2-.2.2-.1.2.9.2-1.2.2 1.1.2-.7.2.7.2-.2.2.1.2-.8.2.2.2-.1.2.8.2.4.2.2.2-1 .2.4.2-1.2.2-.3.2.9.2.2.2-.6.2-.2.2 1.6.2-.9.2-.5.2 2.7.2-1.4.2-.3.2.7.2-1 .2 1.6.2-2.1.2.2.2.8.2-.4.2 1.5.2-2 .2.6.2.7.2.3.2.3.2-.4.2 1.3.2-1.8.2.5.2.5.2-.8.2.1.2-.1.2-.1.2-.3.2.5.2-.7.2 1.4.2-1.3.2 2.5.2-.2.2-.3.2-.9.2-.2.2 1.3.2-.7.2.3.2-.8.2 1.3.2-1.2.2.7.2-1.2.2.8.2.8.2-.6.2.1.2.8.2-.5.2.9.2-2.3.2 2 .2.1.2-1.3.2.2.2 1.6.2-1.2.2.3.2.9.2-.5.2.6.2-.8.2.8.2.6.2-.5.2-1.6.2 1.9.2-.4.2-.6.2 1.5.2-2.1.2 2.4.2-1.7.2 1.5.2-1.1.2-.8.2.9.2.2.2.1.2.3.2-1.2.2.9.2.1.2-.6.2-.5.2 0 .2 1.1.2 0 .2-1 .2-.4.2 1.7.2-1.8.2 1.1.2-.7.2-.6.2 1.2.2-.2.2 1.1.2.5.2-1.6.2.8.2 0 .2-1.1.2-.2.2 1.6.2-1.3.2.2.2-.2.2 0 .2-.4.2.8.2.3.2-1.1.2-.8.2.8.2-1.1.2.5.2 1.1.2.5.2-1.4.2-1.2.2 1 .2-2.2.2.7.2 1.1.2-.8.2-1.6.2-.5.2 1.3.2-.8.2-.6.2.3.2-.9.2-1.1.2 1.4.2-1.2.2-.5.2-.5.2.8.2-.9.2.6.2-.8.2.5.2-1.2.2-.5.2-1.1.2.2.2.9.2 1.2.2-2.9.2-.1.2.7.2 0 .2-.8.2.4.2-1 .2.8.2.8.2.6.2-1 .2 0 .2.6.2.5.2-.2.2-.7.2.9.2.5.2-1 .2-.2.2 1.3.2.1.2.5.2-.4.2-.3.2.3.2-.1.2.2.2.4.2.3.2 1.2.2-1.3.2 1 .2-.2.2 1.5.2-.5.2-.2.2.9.2-.3.2-.1.2 1.4.2-.3.2.8.2-.2.2-.1.2-.2.2-.6.2 1.3.2-.2.2.5.2-.2.2-.3.2 0 .2 1.2.2.6.2-.8.2.6.2.7.2-1.2.2.5.2-.4.2 1.6.2-.5.2-.3.2-.6.2 1 .2.8.2-.7.2 0 .2.7.2-1.1.2.9.2.4.2-.8.2.1.2.7.2-.2.2 0 .2.3.2.1.2-.6.2.2.2.7.2.5.2.2.2-1.3.2 1.2.2-.1.2-.5.2.4.2.2.2.7.2-1.7.2 1 .2-.4.2 0 .2.9.2-.2.2-1.1.2.5.2.3.2-.9.2 1.4.2-.6.2.2.2.1.2 1 .2-1.1.2-.2.2 1.3.2-1.3.2 0 .2-.5.2 1.5.2-.4.2.1.2-.2.2-.1.2-.4.2.1.2.7.2-.2.2 1 .2-1.4.2.2.2-.3.2 1.4.2-1.5.2 1.2.2.4.2-.9.2.5.2-1.6.2 1 .2-.7.2 1.1.2-.1.2-.4.2 1 .2-.3.2-.5.2 0 .2-.5.2.7.2 1.4.2-1.6.2.6.2-.5.2.8.2-.2.2-.4.2-.9.2.8.2 1 .2-.8.2.5.2-.6.2-.8.2 1.3.2 0 .2-.5.2.1.2.4.2-.5.2.6.2-.3.2-1.3.2 1.3.2-.2.2-.1.2.7.2-.5.2.6.2.3.2-.5.2-.9.2.4.2 1 .2-.7.2-.3.2.5.2.3.2-.1.2.2.2-.8.2.3.2 0 .2.2.2-1.2.2 1.1.2-.6.2 1.5.2.1.2.1.2-.5.2-.7.2.8.2-.6.2.5.2-.9.2.2.2.6.2.8.2-1.1.2 1.4.2.2.2-2.2.2.7.2-.5.2.4.2-.2.2.3.2.6.2 0 .2-.4.2-.1.2.1.2 0 .2.2.2-.3.2.3.2-1 .2 1.2.2.5.2-.8.2-.9.2 1.6.2-1 .2-1.5.2 1.6.2.5.2-.1.2.5.2-.4.2-.2.2-1.2.2.5.2.7.2.3.2-.9.2.2.2.7.2-1.3.2 0 .2.9.2.3.2-.4.2-1 .2 1.3.2-.7.2 1.1.2-.4.2.2.2.3.2-.7.2.8.2.3.2-.5.2.5.2-1 .2.9.2-.4.2-.7.2.6.2-.3.2 0 .2.4.2.6.2-.8.2.3.2-.8.2.8.2.6.2-.1.2-.2.2-.5.2-.2.2.5.2-.7.2.1.2 1.2"/>
<text transform="translate(313.50 253.20) scale(1 1.07)" class="lb">+<tspan dx="1.7">25</tspan></text>
<path class="sp" d="M45.8 263.8l.2 15.2.2-18.1.2 10.3.2-8.9.2 7.5.2-6.8.2 6 .2-1.1.2-1.7.2 5.3.2 5.3.2-11.4.2 8 .2-4.3.2-.7.2 11.8.2-23.2.2 7.9.2-5.9.2 7.9.2.4.2 21.1.2-18.1.2 7.5.2-2.6.2-9 .2 4.7.2 6.1.2-7.7.2.2.2 1.5.2-10.1.2 3.5.2 5.7.2 1.1.2-7.3.2 3 .2 1 .2-.2.2 4.2.2-2.9.2.3.2-7.6.2 1.8.2 6.6.2-9.1.2 8.9.2-4.3.2-.7.2 6.9.2-6.2.2-.8.2.9.2 3.4.2 12.3.2-22.2.2 9.6.2-1 .2 5.4.2-6 .2-9.4.2 17 .2-10.7.2 4.5.2-5.7.2 1.2.2 2.6.2 5.9.2-.2.2-6.2.2 4.6.2-3.8.2 2 .2.1.2 1.9.2-5.4.2 2 .2 1.3.2-.6.2-3.9.2 10.5.2-9.4.2 5 .2-2.5.2 4.1.2-14.5.2 17.6.2-9.7.2-4.4.2 5.4.2 8.7.2-7.5.2-7.4.2 2.9.2 7.2.2-11.7.2 4.5.2-1.2.2 9.3.2-11 .2 5.7.2-9 .2-1.3.2 6.8.2-2 .2-9.6.2 9.6.2 0 .2-5 .2 3.4.2.3.2-2.9.2-.3.2-.2.2 1.7.2-4 .2 5.2.2-5.6.2 6.4.2-.4.2-3.6.2 7.6.2 4.4.2-2.2.2-10.4.2 10.5.2-3.9.2-.9.2-2 .2 2.5.2 5.5.2-3.1.2-3.6.2-.9.2 1.1.2 3.9.2 4.9.2-11.1.2 4.1.2-1.5.2-1.4.2 4.3.2.5.2-7.6.2 1.3.2 8.2.2-3.4.2.5.2-4 .2.2.2 2.8.2-3.8.2-2.5.2 3.8.2 3.1.2-7.4.2 7.3.2-1.6.2-6 .2 2.9.2-.4.2 2.1.2-.1.2-7.4.2-.4.2 8.4.2-3.5.2.9.2-.5.2 4.1.2-10 .2 8 .2-7 .2 5.2.2 2 .2-9.9.2 6.1.2-2.6.2-.2.2.9.2-4 .2.1.2 5.5.2.5.2-5.1.2-3.2.2 12.8.2-4.3.2-2.7.2-4.9.2 1.5.2 2.7.2-4.1.2 8.6.2-5 .2.9.2-4.8.2.5.2.4.2 3.6.2-1.8.2 0 .2 2 .2-.2.2 4.2.2-5.5.2-2.6.2 3.4.2 4.9.2-6.6.2 2.1.2-1.3.2 2.6.2-.4.2-3.4.2 2 .2 3.9.2.6.2-.5.2-.1.2-3.7.2 0 .2 4.1.2-6.5.2 3.6.2-5.6.2 4.7.2-.9.2-1.5.2 5.7.2-4.1.2 1.3.2.4.2-1.4.2 6.7.2-5.9.2 2.2.2-4.5.2 2.6.2.5.2.1.2-.7.2 2.2.2 4.4.2-5.1.2.1.2-.7.2 8.9.2-2.7.2-3.1.2.5.2-4.1.2 1.8.2 1.2.2-.2.2-2.7.2.3.2 4 .2-.4.2-6.8.2 6.7.2 3.7.2-5.1.2 2.9.2-4.4.2 6.9.2-5.1.2 0 .2 3.1.2 8.1.2-8.1.2-1.5.2 5.2.2-.3.2 4.3.2-8 .2-.8.2 3.7.2 2 .2-.1.2 1.9.2-7.3.2 1.7.2 1.8.2 2.5.2-1.3.2-2.8.2-1.9.2 4.9.2-.2.2 4.5.2-8.3.2 4.6.2-8.1.2 1.5.2-.7.2.2.2-1.4.2.6.2 1 .2-1.3.2 2.8.2-2.2.2 0 .2 3.9.2-3.2.2-.5.2-.4.2.2.2 1.4.2-3.7.2 5.3.2 1.2.2-1.1.2-4.4.2-2.8.2 3.1.2 1.7.2 1.8.2-2.6.2-.2.2 4.9.2-5.7.2 4.7.2-.3.2-5.8.2 4.3.2-2.1.2-.9.2-2.2.2.9.2 5.2.2-1.9.2 1.8.2-3.3.2 2 .2.4.2-3.1.2-.1.2 5.8.2-.5.2-2.4.2 2.4.2 2.4.2 3.3.2-6.6.2 4.2.2 4.1.2-4.9.2 3.9.2-10 .2 10.5.2-3.5.2-4.6.2 6.9.2.7.2.5.2-.1.2-3.3.2-2.1.2.4.2.6.2.5.2-2.8.2.7.2 1.3.2-2.1.2 4.1.2-1.1.2-9 .2.7.2-2.6.2-.3.2 3.5.2-4.4.2-.6.2 1.4.2 2.2.2-3.1.2-.2.2 2.9.2-1.3.2-.2.2 1 .2-5 .2 2.8.2-2.2.2 3.9.2-.7.2-4.6.2 5.5.2-6.1.2 5.5.2-2.5.2-2.7.2-.7.2 1.9.2.5.2-1.7.2 3 .2-4.8.2 3.3.2-.1.2-4.4.2 5.1.2-3.7.2-2.9.2 4.4.2.9.2 2.8.2-3.1.2 4.7.2.1.2-.6.2.7.2-2 .2-1.9.2 3 .2.9.2-1.5.2-.9.2-2.9.2 5.2.2-.6.2-3.7.2 3.3.2 1.5.2-1.8.2 2.1.2.1.2-5 .2 2.8.2 1.9.2 1.1.2 1.3.2-7.3.2 4.5.2 2.2.2 1.7.2 1.6.2-5.2.2 2 .2-.8.2 5 .2-4 .2 6.3.2.2.2-.3.2-5.2.2 3.9.2 3.6.2-4.3.2 2.8.2.5.2 2.1.2-1.5.2-.5.2-2.2.2.1.2-1.2.2.8.2-3.1.2 1.5.2-7 .2 5.1.2-4 .2 1.8.2-3.2.2 1 .2.8.2-4.8.2 1.2.2-.8.2.6.2-4.1.2 2.9.2-.3.2-1.4.2 1.1.2-3 .2 6.2.2-2.2.2 3 .2-6 .2-.7.2 3.1.2-4.2.2 4 .2-1.9.2.9.2 1.4.2-.1.2 4.1.2-2.2.2-3.6.2 5.2.2-4.3.2 3.5.2-2.3.2 1.4.2 5 .2-3.4.2.3.2.6.2.9.2 4 .2-5.2.2.2.2 3.9.2-4.4.2 2.5.2 3.1.2-2.5.2-1.2.2-.7.2-.6.2.3.2 1.2.2 2 .2-1 .2-3.5.2-.7.2 2.5.2-5.5.2 2.5.2-.1.2-1.9.2-.1.2 2.6.2-4.3.2 1.4.2.5.2 1.5.2-3 .2 5.1.2-2.8.2.1.2-.1.2-.5.2-.5.2 4.5.2-1.8.2-.5.2 2.4.2-3.3.2 2.9.2-1 .2-1.7.2 3.6.2-4.4.2 4.8.2-2.6.2 3.2.2 2.7.2-.9.2-1.5.2 2 .2.2.2-.8.2.9.2 3.1.2 1.6.2-4.1.2 3.8.2 1.5.2-.7.2-2.3.2 4 .2-4.6.2 3.5.2 1.7.2-7.5.2 4.3.2-.2.2-.5.2-2.3.2.6.2-2.5.2 2.7.2.4.2-2.7.2-.8.2.6.2.6.2-.1.2-.6.2.2.2-2.9.2-3 .2 6.6.2 1.5.2-5.7.2 1.4.2 1.8.2 1.2.2-.7.2 1.2.2-2.7.2.9.2-.1.2-1.7.2 3.1.2-1.2.2.7.2-2.8.2 2.8.2-4.2.2 2.8.2-5.9.2 3.1.2 3.3.2-2.3.2 1.1.2-3.5.2 6.1.2-1.9.2-1.3.2.8.2-.2.2 2 .2-2.4.2-3.3.2 2.2.2 2.9.2-1.5.2-2 .2 1.9.2-1.1.2.8.2-4.4.2 1.2.2 2.9.2-1.8.2.9.2 3 .2-4.5.2 1 .2-1.7.2-.2.2 1 .2-2.7.2-1.3.2 6.6.2-2.8.2 2.4.2-1.9.2 0 .2 1 .2.2.2-3.7.2 4.7.2-4.1.2 2.3.2 4.5.2-4.6.2 3 .2-3.7.2 1.9.2-1 .2.8.2-2.4.2 0 .2 2.5.2-3.5.2 1.4.2 2.9.2-2.3.2-.4.2-.3.2 2.4.2-.9.2 1.1.2-.6.2 3.9.2-4.2.2-2.7.2 3.9.2-.2.2.4.2-3.2.2 5.2.2-2.1.2 0 .2-2.8.2 3.9.2-.9.2 2.7.2-3.2.2-1.4.2 2.6.2-1.9.2 2.5.2-2.7.2 1.9.2-.1.2.4.2-.8.2-.5.2 1.5.2-.9.2 1.4.2-.7.2-3.6.2 4.1.2 2.7.2-2 .2.6.2-.2.2-1.6.2-1.5.2 3.9.2.5.2-.9.2-.2.2 0 .2-.8.2.6.2-.4.2.6.2-2.3.2.6.2 2.2.2-1.6.2-3.7.2 4.5.2-4.2.2 7.5.2-2.1.2-.1.2-2.4.2-.8.2 1.7.2.4.2-1.4.2 1.7.2 1 .2-.2.2-2.8.2-2 .2 3.8.2-1.1.2 2 .2 2.1.2 0 .2-2.3.2 1.4.2 1 .2-2.8.2.5.2 1 .2-1.5.2-.8.2-.4.2 1.4.2-1.1.2 2.5.2-1.9.2 3.2.2-.4.2-4.2.2 4.1.2-2.4.2 3.1.2-1.3.2-.9.2 1.4.2-2 .2 1.6.2.2.2-.7.2 1 .2-2.2.2 2.8.2-2.9.2 3.3.2-.1.2.6.2-2 .2 6.3.2-5.5.2.9.2-1.4.2 3.9.2-3.2.2 2.7.2-3.2.2 2.3.2-1 .2 2.4.2-2 .2-.8.2 2.3.2-2.7.2.6.2 3 .2-4.4.2 4.6.2-1.9.2-.8.2 2 .2.8.2-2.1.2.8.2 1.7.2-.1.2-1.4.2-1.2.2-.3.2.5.2 2.1.2-.2.2-.6.2 1.7.2-3 .2-.3.2-.1.2 3.7.2-6.9.2 3.8.2.1.2-.9.2 3.7.2-2.2.2-.9.2-3 .2 2.1.2-1.7.2.5.2.1.2-1.4.2 1.7.2 1.5.2-1.1.2-1.6.2-3.8.2 4.9.2-.1.2-2.3.2-.6.2 1.8.2-2.5.2 2.6.2-3.2.2.2.2 1.6.2-2.5.2 2.5.2.9.2-3.1.2 3.8.2-2.5.2 1.9.2-.5.2-1.1.2-.1.2-1.9.2 1.7.2 0 .2 4.1.2-1 .2-4 .2 3.8.2-1 .2-.9.2 1.5.2.6.2-2.2.2.5.2.9.2-1.9.2 2 .2-.3.2-1 .2-.2.2 2 .2 1 .2-.8.2-2 .2 2.8.2-.9.2.7.2 1.1.2-3.5.2 1.4.2-.8.2-.4.2 4.9.2-1.8.2-4.5.2 3.7.2-1.6.2 2.9.2-1.8.2-.4.2.5.2.5.2-.6.2-.4.2.1.2 1.1.2-2.7.2 1.9.2-.2.2-.6.2 2.1.2-3.4.2 1.6.2-.8.2 2.3.2-1.7.2.9.2.6.2-3.3.2 3.4.2-2 .2.9.2.2.2 1.6.2-.2.2 1.8.2-2.7.2-1.1.2-.1.2 2 .2 1.6.2-2.2.2-1.5.2 1.4.2-.1.2-.4.2-1.3.2-3 .2 3.3.2 2.7.2-1.5.2-4.1.2 3.7.2-3.1.2 6.4.2-3 .2-2.4.2 3.4.2-2.7.2 2.3.2-1 .2-2 .2 3.1.2-3.3.2 4.5.2-2.2.2-1.8.2-1.3.2 5.8.2-.3.2-4.5.2 4.9.2-2.4.2-.7.2.3.2-.3.2 2.9.2-2.1.2-3.3.2 6.6.2-1.9.2-3.3.2 1.3.2-.9.2 1.6.2.7.2-.2.2-1.4.2-.3.2 2.8.2-1.5.2 4 .2-5.1.2 2.7.2-1.2.2-1.3.2 3.7.2-2.1.2-1.6.2 1 .2 2.3.2-3.7.2 4.4.2-1.1.2-1.6.2 2.9.2.7.2-1.9.2-.6.2 2.9.2-.5.2-4 .2 1.3.2.1.2-.2.2-1.7.2 4.1.2-1.3.2.2.2 2.3.2-3.3.2 1 .2.7.2-1.1.2.6.2 1.6.2-1.3.2 2.4.2-3.5.2 1.7.2-2.7.2 2.3.2-.9.2 3.5.2-1 .2-.3.2 2.3.2-.7.2-1.2.2-2.4.2-1.3.2 2.3.2-.9.2-.8.2 0 .2-2.9.2 4.7.2-5.2.2 0 .2 1.4.2-4.6.2 3.5.2-.7.2-2.9.2-2 .2.4.2-2.9.2 4.9.2-2.8.2-1.9.2-.8.2 2 .2 1 .2-5.2.2.6.2-2.5.2 3.7.2-1.4.2 3.2.2-4.5.2-.9.2-.8.2 2.4.2-4.5.2 3.9.2-1.1.2-1.5.2-.9.2 3.2.2 1.2.2-4.1.2 1.5.2 1.9.2-4.2.2.5.2-1.8.2 1.8.2 0 .2-.6.2-.6.2-1.4.2.4.2.8.2 2.8.2-1.8.2-.4.2 2.8.2 0 .2-2 .2.5.2 2.5.2-.3.2-1.7.2 2.1.2-.2.2 2.2.2-3.1.2 3.3.2-.5.2-2.1.2 3.9.2.1.2-3.4.2 6 .2-4.9.2.8.2 1.5.2 2.3.2.1.2-.7.2 2.9.2-1.2.2 2.2.2 2.9.2-4.1.2-4.4.2 4 .2-.7.2 2.4.2.3.2-1.9.2.4.2 1.9.2.5.2-3.8.2 6.5.2-1.3.2.3.2.9.2-2 .2 2 .2 2.3.2.4.2-.8.2-1 .2-.6.2 4 .2-1.1.2-1.4.2-2.8.2 2.5.2-1.7.2 5.8.2-1.7.2-1.5.2 1 .2 5.1.2-2.3.2-4.4.2 2.2.2-1.9.2-.8.2 3.5.2 4 .2-1.5.2-2.6.2-.6.2 1.1.2 1.5.2-4.3.2-.7.2 6.7.2-2.8.2 2.4.2-2.4.2 2.3.2-3.7.2 2.1.2 1.9.2-.9.2-2.6.2 2.4.2-2.7.2-1.3.2 3.5.2 1.6.2-.9.2-3.7.2 3.8.2-.3.2-2 .2-3.6.2 6.3.2-.2.2-.7.2-3.9.2.4.2 4.5.2-.3.2-.6.2-1.3.2 1.2.2-1.6.2.4.2-1 .2 2.1.2-1.2.2 2.4.2-.3.2-2.8.2 4.8.2-5.3.2 2.9.2 1.1.2.4.2-6.2.2 5.7.2.4.2.5.2-6.6.2 2.8.2 1.1.2-.6.2 3.2.2-3.6.2 3.4.2-1.2.2-3.6.2.9.2.9.2 1.1.2 1.6.2-2.1.2 2 .2-4.5.2-2.6.2 4.8.2 1.5.2-1.5.2-1.1.2 2.5.2 2.8.2-3.7.2-1.1.2-.2.2 5 .2-3.6.2 1.2.2 1.1.2-.3.2-3.6.2 3.4.2-.2.2-.6.2.9.2-2.8.2.9.2-.8.2 2.3.2-2.6.2 1.9.2-2.7.2 1.8.2-.5.2.5.2.4.2-.5.2-.1.2-3.3.2 5.7.2-3.1.2.7.2-1.1.2 3.3.2-3.4.2 2.5.2 1.2.2.9.2-.9.2-1 .2-3.3.2 4.5.2-.2.2-.6.2-.1.2-1.3.2-1 .2 2.9.2.3.2-4.2.2 3.6.2-1.2.2 1.1.2-1.1.2 1.5.2-.1.2-.3.2-4.1.2 4 .2-1.4.2-2.1.2 3.3.2-3.7.2 4 .2 1.5.2-4 .2 2.6.2-.8.2.3.2-3.5.2 3.5.2-.9.2 1.1.2-1.3.2 2 .2-1.5.2.8.2 1.2.2-2.1.2 1.5.2-1.3.2.5.2-1.8.2 2.3.2.8.2-2.3.2 1.6.2-.6.2-2.7.2 2.6.2 1.7.2-3.1.2-2.3.2 3.5.2-1.4.2 4.5.2-3.4.2.1.2-1.1.2 1.6.2-1.4.2-.6.2 1.5.2-1.2.2 3.8.2-4.4.2 2 .2-1.1.2-1.2"/>
<text transform="translate(313.50 284.30) scale(1 1.07)" class="lb">+<tspan dx="1.7">35</tspan></text>
<path class="sp" d="M45.8 340.3l.2-18.3.2 17.4.2-13.8.2 7.3.2 10.6.2-21.1.2 3.7.2 13 .2-5.4.2-3.3.2 2.5.2-4.4.2 5.3.2 6.5.2-8.8.2 2.5.2 5.1.2 3.7.2-12 .2 4.2.2-4 .2-.3.2 1.1.2-1 .2-5 .2-1.2.2 5.8.2 4 .2 4.9.2-7.9.2 1.6.2 3.7.2.4.2-3.9.2.3.2 8.6.2-9.8.2-.7.2-5 .2 9.1.2-3.1.2 9.5.2-9.8.2 5 .2.5.2 3.1.2-12.8.2 12.4.2-6.7.2-.5.2-.9.2-.3.2.2.2-8.4.2 12 .2-1.9.2-4.2.2 3.7.2 9.8.2-8 .2-3.2.2 8.7.2-10.4.2 2.7.2-1.7.2 1.3.2 3.9.2-.7.2-5.4.2 2.4.2.8.2-2 .2 1.4.2-2.8.2-.1.2 3 .2-4.3.2 5.6.2-2.5.2-2.9.2 1.1.2.5.2 1.1.2 1 .2-1.4.2-2.6.2 8.7.2-2.1.2-3.2.2 3.1.2-2.5.2-2.3.2 1.2.2 9.5.2-6.3.2.1.2-5.4.2 3.5.2 6 .2-6.8.2 2.2.2.6.2-2.4.2 3.2.2-5 .2.8.2-4.1.2 11.4.2-8.4.2-.9.2 4.3.2-6.7.2 1.5.2-2.8.2 2.6.2-1.6.2 3.1.2-2.5.2-1.7.2.9.2.5.2-1.5.2 4.8.2-1 .2-1.8.2-4.6.2 5.7.2-6 .2 4.8.2-.4.2-2.1.2-.7.2.5.2 9 .2-7.4.2.3.2 3.9.2-1.6.2 2.2.2-7.1.2.7.2 14 .2-10.3.2-.6.2 1.6.2 2.7.2-6.5.2 4.7.2-.7.2 2.3.2-1.4.2-1.9.2-.9.2-4.5.2 10.2.2-7.1.2 3.2.2 6.1.2-6 .2 2.9.2-2.6.2 2.2.2-2.6.2-2.3.2 4.5.2-5.5.2-3.9.2 2 .2 1.5.2-5.7.2 4.1.2-1.3.2 2.7.2-8.4.2 3.3.2-6.7.2 3.3.2 1.2.2.6.2-1.4.2-.3.2-1.6.2.4.2 1.9.2.6.2.1.2.9.2.4.2-8.2.2 3.4.2 1 .2-1.3.2 4.5.2-.8.2-2.2.2.8.2 3.4.2-3.8.2.6.2 3.8.2-.6.2 3.1.2-2.3.2 1.5.2-3.1.2-.8.2 2.5.2-7.2.2 7.7.2.6.2-3.3.2-2 .2 2.1.2-4.3.2 1.4.2 1.9.2-5.1.2-.5.2-1.9.2-1.2.2-.1.2-.5.2 2.8.2-6.9.2 3.8.2 2.7.2-3.5.2 2.3.2-1 .2 3.4.2 1.6.2 2 .2-2 .2-2.6.2 2.9.2 1.3.2 2.6.2-8.8.2 6.8.2-5.3.2 6.8.2-.4.2.4.2 1.2.2-1 .2-2.4.2 2.7.2 2.4.2-3.1.2.6.2-2.9.2 6.2.2-3.9.2-.4.2 1 .2-.7.2 1.8.2 4.1.2-.9.2 2 .2.5.2-5.5.2 3.9.2 3 .2 2.5.2-8.7.2.5.2 5.3.2-1.4.2-1.1.2 3.9.2-2.3.2-3.2.2 6.1.2.8.2 1.7.2 1.1.2-1.5.2-.7.2-.8.2-2.2.2 3.1.2 3.6.2-.9.2 3.3.2-5.6.2-4.2.2 5.9.2 0 .2-5.8.2-1.7.2 3.7.2.7.2-5.1.2 1.3.2-1.7.2-1.6.2-.9.2 3 .2-1.7.2-1.1.2-5 .2 10.2.2-6.6.2 1.8.2-2.5.2 3.5.2-4.6.2 3.7.2-.7.2 2.5.2-4.9.2 1 .2.9.2 5.4.2-8.5.2 4.1.2-2.3.2 2.2.2.7.2-1.3.2.3.2-.1.2-2 .2.8.2-3.4.2 3 .2-1 .2 1.2.2 2.3.2-.9.2.2.2 1.5.2-8 .2 6.5.2-.9.2 0 .2-2.6.2 4.5.2 1.7.2 0 .2-2.2.2 2 .2 1 .2 2.4.2-1 .2-2.1.2.3.2.5.2.5.2-1.3.2 3.2.2-3 .2 0 .2 2.8.2-1.9.2.9.2-3.9.2 6.5.2-1.7.2-.2.2 1.4.2-.5.2-2 .2 5.8.2-5.7.2 2.6.2 1.3.2-6.2.2.6.2-3.1.2 3 .2-4.2.2-3 .2 4 .2-2.2.2-5.2.2 3.2.2-3.4.2 4.3.2-3.3.2-6 .2-.3.2-2.1.2 1.6.2-.7.2.9.2-1.9.2-3.9.2.9.2 4.2.2-1.1.2-3.3.2-.4.2-.6.2-.1.2-4 .2 5 .2-3.8.2 1.3.2-6 .2 5.4.2 2 .2-7.9.2 7.6.2-2.5.2-2.8.2-2 .2 5.6.2-2.1.2.5.2-1.9.2-1.2.2 3.4.2-3.8.2 4 .2-5.1.2 1.9.2-.7.2 6.1.2-5.9.2 1.6.2 4.1.2-.6.2 4.5.2-.4.2-2.1.2.5.2-4.8.2 2.4.2 1.5.2.7.2-2 .2 1.3.2.6.2 4.3.2-1 .2-1.2.2.5.2 1.6.2-1.7.2 1.4.2-2.5.2 5.5.2 1.4.2-.2.2 1.4.2 1.1.2 4.9.2-2.3.2-1.6.2 2.2.2 5.1.2 2.2.2.8.2 1.4.2-.2.2-2.5.2 2.3.2-1.9.2 3.1.2-2.1.2 2.5.2-1.3.2-4.6.2 4.4.2-1.2.2-5.8.2 1.6.2-.3.2-3.5.2.8.2-2.7.2.5.2-2.9.2-1.6.2.6.2 0 .2-1.5.2-1.9.2-1.1.2.5.2-.8.2 1.3.2-.5.2-.9.2-.2.2-.1.2 2.4.2-1.4.2-4.2.2 1.4.2-2.3.2-.2.2-1 .2-1.5.2-2.2.2-2.9.2 4.8.2 1.5.2-4.7.2 2.5.2-2.1.2 1.2.2-2.1.2 1.5.2.8.2-3.7.2 6.3.2.5.2-3.4.2 7.8.2 0 .2 2 .2 1.7.2-.2.2-.1.2 2.3.2.9.2 6 .2-.5.2-4.7.2-.1.2 1 .2-.2.2-3.4.2-1.7.2 4.8.2-3 .2-6.5.2-1.8.2.6.2.8.2-.5.2-3 .2-3.5.2 2.8.2 0 .2-1.7.2-1.2.2 2.1.2-1.2.2-2 .2 2.6.2-2.6.2 4.8.2-.6.2-2.6.2 2.8.2 2.4.2-6.4.2 4.4.2 4.1.2-5.8.2 3.6.2-1.5.2 4 .2-3.4.2 3 .2 3.7.2 2.9.2 2.1.2 1.7.2 3.1.2.6.2 1.6.2-2 .2 3 .2 7.8.2-.8.2-2.1.2.5.2.9.2-2.7.2 4.7.2-5 .2.2.2 4 .2-9.2.2 4.1.2-5 .2 1.2.2.2.2-1.5.2 0 .2-2.9.2.3.2-3.1.2.7.2-2.8.2 3.3.2-4.5.2 3.4.2-2.6.2-.1.2 2.7.2-2.5.2-4.3.2 4.5.2-7.1.2 6.1.2-1.6.2-2.2.2 2.8.2-1 .2 4.5.2-5 .2 4.6.2-1.2.2-4 .2-.4.2 4.3.2-2.8.2.7.2-.7.2-1.8.2 1.9.2-1 .2-.9.2 2.7.2 4.3.2-.1.2-3.1.2.6.2 1 .2 1.9.2-1.9.2-1.4.2.3.2 3.1.2 3.1.2-6.4.2-2.9.2 5.7.2-1.8.2.3.2 2 .2-2.6.2-3.1.2-1.5.2 3.4.2-2.6.2 2.5.2-3.5.2 1.4.2-2.7.2 1.7.2-.7.2 1.6.2 1 .2-3.5.2-1.9.2 5.1.2-3.6.2 0 .2-.4.2 1.2.2-1.3.2-1 .2-.1.2-3.5.2.2.2.8.2.2.2-.3.2.6.2-.6.2-.8.2-2.3.2 5 .2-.3.2-2.6.2 3 .2.1.2-.3.2-3.4.2 1.6.2 1.6.2 4.8.2-4.5.2 1.5.2-1.1.2 1.6.2 2.1.2-4.4.2-1.1.2 7.2.2-.9.2-1 .2 3.3.2.2.2-5.8.2 3.9.2 2.5.2-3.5.2.6.2 2.4.2-2.6.2-2.1.2.7.2-1.6.2 3.3.2-4.9.2 4.9.2-5.6.2 2.9.2-3.4.2 1.8.2 2.2.2-.2.2 0 .2-3.1.2.1.2 0 .2.6.2-2.1.2 2.9.2-1.5.2 1.8.2-1 .2.8.2-2.2.2 1.2.2-1.1.2 2.6.2 1 .2 2.7.2-3.3.2 9.5.2-5.8.2 3.4.2.3.2-6.3.2 5 .2 3.8.2-7.1.2 6.5.2-3.1.2.9.2 1.4.2-4.1.2 3.8.2-1.8.2-.4.2 2.6.2 5.2.2-6.4.2.1.2-1.5.2-1.6.2 1.5.2 2.1.2-2.9.2.9.2-2.5.2 5 .2-8.4.2 4 .2-.4.2-.8.2-2.9.2-.3.2 1.6.2.4.2-2.6.2.2.2 3.1.2.9.2-3 .2-.2.2 0 .2 6.2.2-3.7.2-.9.2 2.2.2 2.6.2-2 .2-4.8.2 2.8.2-.5.2.4.2-1.5.2 1.8.2-1.1.2 3.1.2-.1.2-2.2.2.1.2 3.1.2 3 .2.6.2-.1.2-5.2.2 6.4.2.5.2 1.7.2-.7.2 2.4.2.4.2 7.2.2-3.1.2-1.1.2.8.2.2.2.8.2-1 .2.7.2 1.8.2-.5.2-1.2.2 1.6.2-2.5.2-2.6.2-1.9.2 1.5.2.6.2.3.2.7.2-3.8.2-1 .2 2.2.2.1.2-3.8.2.8.2 1.2.2-2.7.2-1.4.2-4.5.2 5.6.2-1.9.2-1.7.2-1.7.2-2.1.2 1.5.2-.6.2 1.7.2-4.8.2 4.5.2-3 .2 1.8.2-4.3.2 2.2.2 1.4.2-2.1.2-3 .2 2.1.2 1.6.2-3.5.2-.1.2 3.2.2-2.2.2 3.1.2-3.4.2-1.1.2 2 .2 4.3.2-4.2.2 1.6.2.6.2-2.1.2 3.9.2-1.6.2.6.2-3.8.2 0 .2-1.7.2 4.9.2 0 .2 1.9.2 1.5.2-3 .2.1.2 1.4.2 2.2.2-4.2.2 2.8.2-1.5.2 0 .2 2.2.2-2.8.2-.4.2 3.3.2-1.1.2-.2.2.4.2 1.3.2-1.4.2 2.3.2-.5.2 2.2.2-.2.2-.5.2-1.8.2.8.2-1.1.2 6.5.2-5.4.2 1.6.2 1.7.2-4.8.2 1.2.2.9.2-.9.2-.3.2 1.5.2 3.4.2-.9.2-1.1.2.1.2-2.9.2 4.3.2-.4.2-2.6.2 2.4.2-.7.2-.5.2-.8.2.6.2-.4.2 2.6.2-.1.2-.1.2-.8.2-.4.2 4.5.2-7 .2 5.5.2-1.5.2-.4.2-1 .2.5.2-1.7.2-.3.2 2.3.2-2.7.2 4.5.2.6.2-8.2.2 3.5.2 3.3.2-.1.2-.2.2.6.2.6.2.3.2 1.7.2-3.1.2 1.5.2-4.4.2 2.7.2-1.9.2 4.7.2 1.7.2-3.1.2-3.2.2 2.1.2.3.2.4.2 1.6.2-.2.2-6.4.2 7.2.2-3.3.2-.1.2 3.6.2-3 .2-1.9.2.1.2 2.5.2 1.5.2 1.1.2-2.9.2-.5.2 3.7.2-3.6.2 3.4.2-2.1.2 0 .2-.8.2 1 .2-1.3.2-.3.2 1 .2-.9.2 1.7.2-.3.2-.6.2.2.2 0 .2 3.5.2-3 .2-1 .2.6.2 1.7.2-1.4.2.1.2-.1.2.8.2.5.2.1.2-3.5.2 1 .2-2.6.2 6 .2.7.2.4.2-1.9.2 1.8.2-1.9.2.1.2-2.2.2 1.6.2.6.2 3 .2 1.7.2-3.2.2 1.8.2.3.2-1.3.2-1.2.2 2.1.2-.7.2 2.3.2.7.2.3.2.4.2 1.4.2-2.1.2 3.3.2-4.2.2 3 .2.6.2-2.1.2-1.7.2 3.3.2-3 .2 1.6.2-1.1.2-2.5.2-1.3.2.3.2-2.5.2-3.8.2.3.2-1 .2-2.3.2-1.7.2-2.2.2-1.6.2-2.9.2-2.4.2 2.9.2-4.3.2-.1.2-4.5.2 1 .2-3.5.2 4.5.2-8.6.2-1.8.2 1.4.2-1.4.2-7.1.2 2.5.2-.2.2-4.5.2 2.4.2-2.6.2-.9.2 1.1.2-.2.2-1.5.2 6.2.2-4.5.2-.3.2 2.8.2-1.5.2 2.5.2-2.5.2 1.2.2-.1.2.6.2.1.2 1 .2 3.9.2-2.9.2 1.2.2 1.4.2 2.5.2.6.2 1.7.2-3 .2 3.3.2 0 .2.5.2 1.5.2-2.9.2 4.4.2.5.2-2 .2 2.9.2 3.3.2-2.6.2 2.3.2-.8.2-.3.2.4.2 1.4.2 3.3.2-.2.2-1.9.2 3.3.2-1.2.2-.4.2 2.4.2-1.7.2-.5.2 5.2.2-4.6.2 4.4.2-2.9.2 2.9.2.2.2.1.2-2.4.2 3.8.2.6.2-1 .2 1.8.2 2.1.2-2.4.2 1.9.2-1.9.2 2.9.2.7.2 3.4.2-2.2.2-.5.2 1.9.2-3.5.2 3.7.2-2.3.2.2.2 3 .2-1.1.2 2 .2-4.1.2 3 .2-1.1.2.7.2-2.4.2 4.8.2-1 .2-1.7.2-.4.2 1 .2 3.8.2-2.2.2-.2.2 1.5.2-.5.2.5.2 1 .2-.5.2 1 .2-3 .2 2.1.2-.5.2.9.2-.1.2-.8.2.6.2 2.2.2-2.2.2-1 .2 3 .2.8.2-1.9.2.7.2-1.4.2 1.1.2 2.2.2-.4.2-1 .2-.6.2-2 .2 3 .2.3.2 1 .2 1.5.2-2.5.2 1 .2-3.2.2 3.6.2-.4.2.8.2-1 .2-.4.2 1.7.2-3.3.2 2.1.2.7.2-2.9.2-.5.2 2.5.2-.5.2.8.2.1.2-2.1.2 1.7.2 1.2.2-2.2.2.1.2-1.2.2 3 .2 1.7.2-5 .2 3.2.2.3.2-2.2.2.3.2-1 .2.4.2 1.4.2.8.2-.8.2 1.1.2-1 .2-2.1.2 4 .2-.4.2-2.8.2 3.7.2-2 .2-.5.2 2.7.2-6.7.2 1.4.2 3.5.2-1.5.2-1 .2 3.6.2-1.5.2-2.7.2.9.2 2.3.2 1.4.2-5.7.2 3.4.2-1 .2-2.1.2 2.4.2-2.2.2 1.6.2 3.2.2-1.6.2.3.2-.2.2-.4.2.9.2-3.2.2 1.2.2 1.7.2-2.3.2.4.2 2.4.2.5.2-3.2.2-.3.2 2 .2-.4.2-1.4.2 1.8.2 0 .2-.8.2 4.3.2-2.4.2-.8.2.3.2 2.9.2-2.8.2-2.7.2 1.5.2-.3.2-1 .2 1.2.2 0 .2-.4.2-.6.2 1.9.2-3.6.2 3.6.2-1.2.2.4.2-3.9.2 6 .2-5 .2 1.3.2 2.2.2-1.8.2.3.2-2.7.2 2.7.2 1 .2.7.2-1.4.2.7.2.4.2-1.6.2-.1.2 4 .2-4.1.2 3.1.2-1.7.2 2.1.2-3.1.2 1.7.2-.2.2-.8.2.8.2-1.5.2 1 .2-.4.2 1.7.2-1.2.2-1.8.2 1.5.2.4.2-1.1.2 3.3.2-1.3.2.6.2-2.3"/>
<text transform="translate(313.50 339.30) scale(1 1.07)" class="lb">+<tspan dx="1.7">51</tspan></text>
<path class="sp" d="M439 36l.6 8.5.5-13.1.6 9.8.5-1.6.5-3.3.6 2.9.5-6.2.5 6.6.5-7.5.5-.3.5 13.4.5-10.3.5-6.7.5 15.2.4-8.1.5-12.6.5 16.6.4 4.8.5-2.4.4 6.3.5-8 .4 3.4.5-6.8.4 5.2.4 6 .4-4.2.4-1.2.4-8.5.4 6.8.4-3.4.4 8.4.4-5.6.4 4.6.4-4.8.4 11.3.3-11 .4 5.2.4 9.5.3-8.4.4-3.5.3 5.6.4 1.6.3-.2.4-9.3.3 7.6.3-7.5.3 13.5.4-5.7.3-1.5.3 3.9.3-.4.3-5 .3 9 .3-5.7.4-4.4.3 9.9.3.6.3-.7.3-1.9.3-4.2.3 5.7.3 2.9.3-2.9.2 2.5.3-6.9.3 5.4.3-.1.3-6.9.3-.2.3 2.8.3 2.4.2 1.2.3-1.8.3.6.3 0 .2.7.3 1.5.3-.1.3-1.4.2 1 .3-1.8.3 3.5.2-3.4.3 5.9.3-4.3.2.9.3-2.5.2 1.2.3 1.5.2-.2.3-1.4.2-1.2.3 3.3.2.6.3 1.2.2 2 .3-3.6.2-4 .3 4.9.2-3.9.3 1.7.2 5.9.2-.9.3-2.7.2.3.2 1.6.3-3.8.2 5.6.2-1.8.3 5.3.2-6.6.2 5 .3-3.7.2 4 .2-4.5.2 4 .2-2.6.3-.7.2 1.5.2 1.5.2-.1.2 2.6.3-1.6.2-7.5.2 4.9.2-3.4.2 3.5.2 2.2.2-4.2.2.4.2 2.9.2-.9.2 4 .3-2.7.2.5.2 2.6.2-4.7.2 1.1.2-2.1.2 2.7.2 1.6.2.7.2-2.8.2-1.4.2-.1.2-1.2.2 3.2.2 2.5.2-7.5.2.4.2 7.4.2-6.1.2 4 .2-3.1.2 4.2.2.1.2-1.2.2 1.4.2-1.5.2 1.1.2 2.6.2-1.3.2-3.4.2-.2.2 1.2.2.1.2.7.2-1.2.2 2.6.2-1.1.2.7.2-.6.2 1.3.2-3.4.2 5.4.2-2.2.2.3.2.4.2 1 .2-.6.2-.9.2-.7.2-2.6.2 3.6.2-.9.2.1.2 5.2.2-7.9.2 3.7.2 2.2.2-.3.2.6.2-4.5.2.6.2 3 .2-1.5.2 3.7.2-2.6.2.1.2.5.2-1.2.2.9.2-1.4.2 1.3.2-.7.2 1.4.2-2.9.2 0 .2 3.5.2-.3.2-2 .2 1.4.2-1.4.2 5.4.2-6.1.2 5.7.2-4.3.2 2.2.2-1.1.2-.2.2 2.3.2-.2.2-1.8.2-1 .2 5.1.2-1.1.2-2 .2-.6.2 1.1.2-.3.2 2 .2-3.4.2 1.8.2-1.2.2 3.6.2 1 .2-3 .2 1.2.2 1.6.2-2.6.2-.8.2 3.3.2-.7.2-.9.2 2.8.2-1.8.2-3.1.2 3.5.2-.5.2 3.1.2-2.9.2-.2.2 1.1.2-.3.2-2.5.2 2.3.2-.7.2 2.6.2 1.5.2-5.4.2.2.2.1.2.2.2-.2.2 1 .2 1.4.2-3.6.2-.5.2-.6.2 4.2.2.2.2-4.3.2-.2.2 2.4.2 1.3.2-.2.2-1.3.2.6.2-.6.2-1.4.2 3.5.2-2.8.2-1.6.2.9.2-1.5.2 2.2.2 1.5.2-3.2.2 3.4.2 1.5.2-2.3.2-1.9.2.6.2.8.2-1.1.2.2.2 1.6.2.3.2 1.2.2-2.3.2 4.3.2-1 .2-.1.2-2 .2 3.2.2-2.7.2 2.9.2-1 .2-2.5.2.6.2 3.1.2-1.2.2-1.5.2.5.2 0 .2-1.2.2.7.2-.5.2.3.2 1.1.2-1.7.2 2.1.2-.7.2.9.2.2.2.6.2-.6.2.4.2-.8.2 1.2.2-1.5.2 1.2.2 1.5.2-.8.2.7.2-1.7.2 3.1.2-2.3.2 1.3.2-.4.2 1.3.2-1.5.2-.7.2-.9.2 2 .2-1 .2 2.1.2 1.2.2-4.3.2 1.2.2 1.9.2 1.2.2-1 .2 0 .2.3.2.2.2 1.2.2-1.1.2-2 .2.9.2.8.2-1.1.2.7.2-.2.2-.2.2 1.6.2-1.1.2-.7.2.5.2.8.2 2.4.2-2 .2 1.4.2-1 .2-2.8.2 2.8.2-1.2.2-.5.2.4.2 3.1.2-3.5.2 1.1.2 1.9.2-.5.2-2.4.2 1.8.2-.4.2.4.2 1 .2-1.3.2.4.2 1.9.2-3.4.2 1.6.2.9.2-1.6.2.6.2-.6.2 1.6.2-.8.2 1.5.2.3.2-.9.2-.3.2.7.2-.2.2-1.1.2 2.2.2-.7.2.6.2-2 .2 2.2.2 1.3.2-1.4.2-1.9.2 1.5.2 0 .2.3.2-.3.2.8.2-.9.2.8.2-.8.2.8.2.9.2-1.3.2 1.2.2-1.3.2.5.2.2.2 1.5.2-1.8.2 1.9.2-2.3.2 1.2.2 1.1.2-.1.2-1.5.2-.1.2 2 .2-1.8.2 1.7.2-.9.2.5.2 2.2.2-.6.2-.5.2-2 .2 1.7.2-.2.2-.1.2 1.4.2-2.7.2 1.9.2-.1.2-.7.2 2.3.2-2.6.2 1.2.2.2.2-2 .2.7.2.5.2 1.7.2.2.2-.3.2-.3.2-2.1.2 2.2.2-.6.2 1.6.2.2.2.8.2-1.3.2.1.2-1.6.2 1.1.2-1.1.2 1.9.2-1.8.2.9.2-.5.2.3.2.9.2-.9.2.8.2-1.1.2 2.2.2-1.8.2 1.5.2 1.1.2-4 .2 1.3.2.7.2 1.3.2-1.5.2.8.2-.9.2 1.2.2-1.6.2 1.9.2-3.4.2 1 .2 3.4.2-1.5.2-.9.2 2.8.2-1 .2.1.2-1.3.2.9.2 0 .2-1.9.2 2 .2-.6.2 1.3.2.1.2-1.7.2.1.2.7.2.4.2-.9.2.3.2.7.2-.1.2.7.2-.8.2-.9.2-.8.2 2.3.2-.9.2 0 .2.1.2-1.1.2 1.1.2-1.9.2 2 .2-.4.2 2.4.2-1.2.2-.5.2.4.2.5.2-1.2.2.5.2-.1.2 2.5.2-2 .2-1.8.2 2.5.2 1.6.2-3.1.2 3.9.2-3 .2 1 .2-1.4.2.3.2-.8.2.2.2-.9.2 2.9.2-1.9.2 1.3.2 0 .2-.8.2.7.2-.1.2-.3.2.5.2 0 .2-.9.2-.2.2.5.2.9.2 1.1.2.1.2-1 .2.6.2-.7.2.9.2-.8.2.3.2-.6.2.3.2 1.7.2-2.7.2 1.1.2-.5.2 1.4.2.8.2-1.8.2-2.1.2 3 .2 0 .2-1.9.2 1.2.2.2.2-1.9.2 2.6.2-.1.2-.2.2-1.1.2.4.2.1.2 1 .2-1.3.2 2.2.2-.9.2-2.2.2 3.4.2-1.3.2-.6.2.6.2-1.6.2 1.8.2-2.3.2 1.3.2 2 .2 0 .2-1.4.2-.5.2 1.7.2-.8.2.2.2.4.2-1.4.2 1.6.2-2.5.2 3.1.2-2.5.2.8.2 0 .2 1.2.2 0 .2-.3.2.2.2 0 .2-.5.2-1.5.2-.3.2 0 .2 1.9.2-.1.2.1.2.3.2-.4.2-.6.2-.4.2-.3.2 2.6.2-.2.2-1.9.2.9.2.6.2 1 .2-1.8.2.6.2.9.2-2.5.2.9.2.6.2-.5.2 2.4.2-1.1.2-.5.2-1 .2 1.6.2-.2.2-1 .2.1.2-.9.2 1.2.2.8.2.2.2-.4.2.3.2-1.2.2.1.2 1.4.2-.6.2-1 .2 1.1.2.3.2-.1.2-.5.2-.5.2.8.2 1.1.2-1.3.2-.7.2.9.2-1.3.2 1.3.2-.5.2 1.1.2-.7.2.8.2 1.1.2-2.1.2-.4.2 1.1.2-.5.2.3.2-.6.2 1 .2-.4.2-1.8.2 1.6.2.5.2.8.2-1.5.2-.1.2 1.6.2-1.4.2.6.2.4.2.2.2-.5.2-.9.2 1.8.2-1.2.2 0 .2 2.1.2-.9.2-1.6.2.6.2.2.2-.4.2-.9.2 2.2.2.1.2-.4.2-.5.2.5.2.4.2-1.4.2.6.2-.1.2 1 .2-.3.2-1.3.2.6.2 2 .2-2.2.2.9.2-.6.2 1.5.2-1 .2-.3.2-.6.2.8.2.9.2-.2.2-1.6.2 2.4.2-1.5.2-.6.2 1 .2-.6.2 0 .2 0 .2.4.2-.3.2-.9.2 1.8.2-.9.2 1.4.2-.5.2.1.2-.3.2.9.2-1.3.2-.6.2 1.1.2-2.4.2 1.9.2.5.2-.5.2 1.3.2-.4.2-.5.2-.4.2 1.2.2-1.4.2.2.2 1 .2-.2.2 1.2.2-1.8.2-1.3.2 2 .2.5.2-1.1.2 1.4.2.1.2-1.9.2.2.2-.6.2 1.4.2.1.2 0 .2-1.5.2.4.2-.5.2-.2.2.3.2-.2.2 1.1.2.5.2.1.2-.5.2-.5.2.5.2.5.2-.7.2.3.2-.3.2-.1.2.4.2-.9.2 1.7.2-2 .2 1.5.2-1.4.2 2.3.2-.5.2-1.3.2.3.2-.6.2.9.2.3.2 1.7.2-3 .2 2 .2-1.4.2.6.2.5.2-.2.2-.1.2-.5.2.1.2.2.2.8.2-2.1.2.8.2-.6.2.2.2.2.2 1.4.2.8.2-.6.2-1.9.2 1 .2-.9.2 1.2.2.6.2-.5.2.2.2-.7.2-1.4.2 0 .2 1.5.2.5.2.6.2-1.2.2.4.2.2.2.7.2-.8.2-.7.2 1.8.2-.5.2.1.2-1.2.2 1.1.2-1.3.2-.1.2 1.4.2-.1.2.8.2.8.2-1.1.2 1.5.2-1.8.2 1.1.2-1.4.2 1.1.2-.3.2.2.2.6.2-1.8.2 1.6.2-.6.2.7.2.3.2-.5.2.1"/>
<text transform="translate(686.60 99.70) scale(1 1.07)" class="lb">+<tspan dx="0.5">3<tspan class="as" dx="0.4" dy="-1.2">*</tspan></tspan></text>
<path class="sp" d="M439 86l.2 4.4.3-3.2.2 2.8.3-4.8.2 7 .3-6.1.2 5.5.2-4.1.3 2.5.2-1.8.2 2 .3-1.7.2 3.1.3-1.5.2-.1.2 2.4.3-5.8.2 4.8.2-3 .2-3.8.3 4.7.2-1.6.2 4.5.3-5.3.2 1.3.2.4.2-5 .3 5.6.2-3.5.2 5.6.2.6.2-3.9.3-3.7.2 4.1.2 0 .2 1.2.2-2.3.2-2 .3 2.4.2-1.8.2 6.1.2-5.6.2.1.2 1.4.2-2.7.3 1.8.2.7.2-.8.2.5.2 3.3.2-1.8.2-3.8.2 2 .2 2.5.2-3 .2 1.6.2-.3.2 1.2.2-1.5.2.1.2-1.5.2 2.6.2-2.7.2 5.5.2-3.6.2-.5.2 2.1.2-1.8.2.4.2-.3.2-1.4.2-.4.2.5.2 3.7.2-3.5.2.4.2 0 .2 2.2.2 2.6.2-5.7.2 2.9.2-.8.2-.8.2 1.6.2-3.4.2 4.1.2-1.1.2-2.3.2 4.9.2-1.3.2.6.2-4.9.2 2.3.2-.4.2 2.2.2 1.3.2-5.9.2 3.6.2-.2.2 2.1.2-1.9.2-2.1.2 2 .2-1.5.2.5.2 1.5.2-.8.2 1.4.2-3.1.2 6.7.2-1.8.2-.9.2-3.4.2-1.4.2 2.3.2 1.1.2 4.2.2-1.5.2-3.1.2 3 .2 0 .2-2 .2 2.1.2-1.5.2-1.5.2-.8.2 1.7.2 1.9.2-3.8.2-.4.2 3.5.2-5.1.2 7.2.2-3.5.2 1.8.2 1.8.2-5.1.2.7.2 5.1.2-3.9.2.3.2.6.2 1.3.2.4.2-1.8.2-.6.2.5.2.5.2 1.5.2-1.7.2 2.5.2-3.9.2 2.1.2 1.8.2-.6.2-1.4.2-1.7.2.3.2.8.2.7.2-.8.2-1.7.2 1.1.2 1.8.2.5.2-3.1.2 1.5.2-1.8.2 1.6.2 5.8.2-4.8.2-.6.2-.3.2-.8.2-.9.2 2.6.2-.3.2 2.5.2-4.3.2 2.9.2 1.3.2-4.5.2 3.6.2-3.1.2 3 .2 1.4.2-2 .2.4.2-1.3.2 1.4.2 1.2.2-1.8.2.1.2.8.2.6.2-3.3.2 2.4.2-1 .2 1.6.2.8.2-.9.2 1.3.2-3 .2.8.2-.7.2 1.4.2.1.2-.3.2-1.3.2 1.5.2-.4.2 1.4.2-1.1.2 1.9.2-1.2.2-2.6.2 2.2.2-1.6.2 3.2.2.6.2-1.8.2.6.2-2.4.2-1 .2 2.3.2.4.2-1.6.2 2.1.2.3.2.5.2 1.2.2-.9.2-1.5.2.7.2.6.2-2 .2 3 .2-.5.2-1.4.2-.4.2 5.5.2-3.6.2.1.2 1.1.2-1 .2-.9.2.7.2-2 .2 2.1.2-2.7.2 2.4.2.2.2-2.5.2 4.2.2-3.7.2 2.7.2-1.9.2 1.1.2-1.1.2 3.7.2-1.7.2 1 .2-1.2.2 0 .2-.6.2-.5.2 1.1.2-.5.2-.3.2-1.4.2 1.3.2 1 .2-1.2.2 1 .2-.5.2-1 .2.2.2.3.2.5.2.1.2 1.6.2-2.4.2-1.1.2 3.2.2-1.3.2.4.2 3.1.2-1.2.2-.9.2.4.2-.8.2 1 .2-1.7.2 0 .2.3.2 2.4.2 0 .2-2.2.2 2 .2-1.4.2 1.5.2-1.4.2 1.4.2-1 .2-.1.2.4.2.2.2-.6.2-.8.2 3.3.2-2.1.2-1.4.2-.4.2-.5.2 2.4.2 2.1.2-3.1.2 1.4.2-1.5.2 3.1.2-.8.2 0 .2 1 .2.3.2-.7.2-1.7.2-.8.2.2.2-.8.2 3.5.2-2.2.2.2.2 0 .2 1.7.2-2.7.2 1.6.2-1 .2-.6.2-1.8.2 2.7.2-1.7.2.2.2.6.2-.2.2 1 .2-1.7.2.8.2.2.2-.2.2.7.2-.9.2 1.5.2-1.7.2-.6.2 1.4.2 1.3.2-1.5.2 0 .2.4.2.6.2-.2.2.6.2-1.9.2 3.2.2-.7.2-1.3.2 2.2.2-.7.2 1 .2-2.4.2 2.8.2-1.5.2-1.9.2 2.7.2-1 .2-.6.2.8.2-1.6.2 2.5.2-.8.2 0 .2 1.7.2-1.3.2-.6.2-.3.2.9.2 1.1.2-1.5.2-.4.2 1.9.2-.8.2 0 .2 2 .2-3.1.2 1.4.2-1.9.2 1.5.2.8.2.6.2-2.3.2 2 .2 0 .2-.8.2 2.5.2-2.3.2-.8.2 1.2.2-2.1.2 3.2.2-.5.2-1.3.2 1 .2 0 .2 1.3.2-2.4.2-.6.2-.6.2 1.6.2-1.1.2 1.3.2.6.2-.8.2-.4.2 2 .2-1.3.2.4.2.8.2-2.1.2.4.2 3.2.2-2.5.2-.8.2.8.2-.2.2-.6.2.8.2.4.2 0 .2.6.2-2.1.2.2.2 2.2.2-1.1.2 1.5.2-.8.2-1.5.2 1.8.2-1.4.2 1.2.2 1 .2.8.2-2 .2.8.2-.4.2.5.2-3.1.2 2.1.2.6.2.2.2-1.1.2 1.5.2.3.2-.9.2-.2.2-.1.2.5.2 1 .2.3.2-1.8.2-.4.2.2.2 1.6.2-.6.2.1.2.2.2-.1.2-.4.2-.8.2.4.2.7.2.3.2-.7.2 0 .2 1.7.2-1.7.2.7.2-.5.2-.5.2-.5.2.9.2-.2.2 1.5.2-1.8.2.7.2 1 .2-.6.2.6.2.3.2-2.2.2 1.1.2-.4.2 2.1.2-1.3.2.6.2 1.1.2-1.8.2.4.2.3.2-.5.2 1.4.2-.4.2.2.2-.8.2-.4.2.1.2 0 .2-1.1.2 1.8.2.4.2-.7.2-.4.2.5.2.2.2.1.2 1.4.2-2.4.2 1.1.2.4.2-.6.2-.2.2-.7.2.4.2 1.2.2.7.2-1.9.2 1.1.2 0 .2.5.2-.7.2.2.2.4.2-1.8.2 1.1.2-1.6.2-.1.2 1 .2-.6.2 1.8.2.4.2-1.1.2.2.2-.1.2 0 .2.4.2.2.2-.7.2-.3.2.2.2 1.2.2-1 .2 1.6.2-1.5.2 1.5.2-2.3.2.5.2 1 .2 0 .2-.5.2 1.9.2-1.7.2.2.2-.7.2 1.9.2-.7.2-.3.2-1.8.2 1.8.2-.8.2.8.2.5.2-1.5.2.9.2.6.2-.6.2-.4.2-.7.2.4.2-.5.2 2 .2-.8.2-1.1.2 1 .2-1 .2-1.7.2 3.8.2 0 .2-2.2.2.6.2.9.2-.5.2-.4.2.3.2.3.2-.3.2.7.2-.4.2-.4.2.7.2-1.4.2 2.6.2-2.6.2 1.4.2.4.2.1.2-.1.2.8.2-2 .2 1 .2.2.2-.6.2 0 .2 1.6.2-1.7.2.3.2.2.2 0 .2.4.2-.3.2.5.2-.2.2.4.2.7.2-1.8.2 2.1.2-1.7.2.9.2-.3.2-.4.2-1.4.2 3 .2-1.9.2 0 .2 1.6.2-.8.2 1.5.2-.1.2-.8.2-.4.2.5.2-1.7.2 1.2.2 0 .2-.5.2.7.2-1.4.2 2 .2.3.2-2.1.2 1.2.2 1.2.2-.9.2-1.2.2.1.2 1.6.2.8.2-2.4.2 1 .2-.7.2.5.2.5.2-.3.2-.5.2 2.4.2-1.9.2 0 .2 1.1.2-.8.2-.2.2 1 .2-1.6.2 1.5.2.2.2-.2.2-.7.2.2.2-1.4.2 1.3.2.4.2.5.2-.6.2-.4.2-.3.2.7.2.1.2.9.2-.9.2-.4.2.3.2-.3.2.2.2-1.6.2.6.2.3.2 1.4.2-.5.2.2.2.8.2-1.7.2 1.7.2-.6.2-.8.2 1.7.2-2.3.2.2.2.8.2.5.2-.5.2-1.6.2 1.5.2.2.2 2.1.2-.9.2-1 .2-1 .2 1.2.2-1.2.2 1.1.2.1.2-.6.2.5.2-.4.2-.2.2 1.7.2-.8.2-.7.2-.4.2.8.2.3.2.2.2.5.2-.8.2-1.2.2 2.5.2-.7.2-.3.2.4.2-2.2.2.9.2-.1.2 1.3.2-1.9.2.7.2 1.5.2-.7.2-.8.2 1.8.2-2.6.2 1.5.2-.6.2.6.2-.6.2-.5.2.9.2-1.2.2 1.4.2-.6.2.9.2-1 .2-.2.2.8.2.7.2-2.6.2 1.7.2.4.2-1.6.2.4.2 1.2.2-1.1.2.1.2 1.9.2-2.1.2 0 .2-1.1.2 1 .2-.2.2 2.3.2-.3.2-2 .2 2.5.2-.9.2-.7.2.7.2-.3.2-.9.2-.8.2.7.2.7.2-.3.2-.3.2 1.4.2-1.6.2 1.5.2-1.1.2.5.2-1 .2.9.2-.6.2-.7.2 1.3.2 0 .2.6.2-.4.2-1 .2.3.2-1.4.2 1 .2 1.9.2.2.2-.6.2-.4.2.3.2-.1.2-1.7.2.6.2 1.6.2 0 .2-.7.2-.4.2 0 .2-.1.2-.3.2-.8.2 1.6.2-.4.2.2.2 1.5.2-.8.2-1 .2 1 .2-1.6.2 2 .2-.6.2-.3.2.6.2.7.2-1.4.2-.4.2 2.4.2-1.6.2 1.2.2-1.7.2.9.2-.8.2 1 .2-.6.2-.3.2 1.7.2-.9.2-1.7.2 1.3.2-.4.2-.2.2.5.2.1.2.4.2-.6.2-.8.2 1 .2 1.1.2-1.6.2 1.5.2-.1.2-.7.2.6.2-.7.2.3.2-.5.2 1.2.2.7.2-1.6.2 1.5.2-2.5.2.9.2 0 .2 2.1.2-1.8.2 1.1.2-2.1.2 1.6.2.4.2-.4.2-2 .2 2.2.2.5.2.4.2-.7.2-1.5.2 1.1.2.8.2-1.2.2 1 .2-.7.2.4.2.5.2-1 .2 2.7.2-2 .2.1.2-.8.2.7.2-.3.2-.8.2-.1.2 1.4.2-.3.2-1.8.2.4.2 1.3.2.2.2.6.2-1.4.2 1.4.2-.6.2-.2.2.3.2.9.2-.3.2.3.2-1.2.2.3.2-.6.2.5.2.1.2 0 .2.9.2-.2.2.3.2-.5.2.7.2-.7.2.7.2-.3.2.2.2-.6.2-.9.2-.1.2 2.5.2-1.1.2.1.2-.5.2-.1.2 2.4.2-2.9.2.8.2 0 .2-.7.2-.1.2.4.2.3.2-.1.2 1 .2-1.4.2 1.1.2.8.2-.4.2-1.4.2-1.3.2 2.8.2-.3.2-.7"/>
<text transform="translate(686.60 120.50) scale(1 1.07)" class="lb">+<tspan dx="0.5">5<tspan class="as" dx="0.4" dy="-1.2">*</tspan></tspan></text>
<path class="sp" d="M439 114.1l.4-6.7.4 2 .3-4.4.4 5.2.4-2.8.4-.3.3 6 .4-3.3.4-6.4.3 8.2.4.5.4-6.1.3 1.6.4 1.6.3-1.1.4 1.3.3 1.9.4-4.1.3 9 .3-9.8.4.5.3 8.6.3 1.3.4-8.1.3-.8.3-3 .3 7.2.4-3.2.3-3.4.3 4 .3 3 .3-2.2.3 4.8.3-3.4.4-2.3.3-1.5.3 1.8.3 2.1.3-1.1.3.6.3-2.5.2 1.7.3 1.4.3-4 .3-3.2.3 8.9.3-3.3.3-2.8.2 2 .3-1.3.3-4 .3 4.4.2-3.3.3 4.6.3-.7.2 3.6.3-3.2.3 1.5.2-1.6.3 0 .2-2.4.3 6.4.3-1.9.2-1.8.3 2.3.2-1.5.3-.6.2 2.6.2 2.5.3-3.6.2-2.8.3 2.1.2 6 .3-6.6.2 4.9.2-3.7.3 2.1.2-2.3.3-3.9.2 2.5.2 5.9.3-5.8.2 1.5.2-2.4.3.3.2 1 .2.3.3 4.2.2-5.3.2-.4.3-1.1.2-1.5.2-.6.2 5.3.3-5.8.2 7.7.2-1.2.2-2.6.3-2 .2 2.8.2.1.2 2.6.3-4.2.2.9.2.8.2-.4.2-.7.3-2.4.2.3.2 2.2.2 1.1.2 2.7.2 3 .3-1.3.2-2.8.2 3.3.2-4.3.2-.9.2 6.2.2-7.3.2 1.5.2.3.3 3.8.2-4.4.2 3 .2-2.5.2-1.7.2 3.1.2-.1.2-2.8.2.6.2.2.2 3.7.2-1 .2-.4.2.5.2-2 .2 2 .2-2.2.2-1.4.2 1.3.2 1.9.2-.2.2 2 .2-5.5.2 3 .2 1.3.2-2.7.2 2.5.2-1.3.2-1.4.2 4.6.2-4.9.2 4.8.2-2.6.2-.9.2.2.2.4.2 0 .2 2.3.2-4 .2 6.1.2-.7.2 1.2.2-4.3.2-2.4.2 3.3.2.9.2 1 .2-1.5.2.8.2.5.2-3.1.2 6.1.2-5.4.2 2.4.2 1.4.2-3.5.2 1.3.2 2.8.2-3.5.2 2.2.2-1.5.2-.3.2.7.2-1.8.2-.1.2 1.9.2-1.3.2.3.2-3.1.2 2.1.2 2 .2-.6.2-1 .2-1.5.2-.1.2 1.8.2 1.7.2-2.2.2 2.1.2-2.6.2 2.6.2-3.6.2 2.1.2-2 .2 3 .2 0 .2-2.4.2.5.2.6.2-1.6.2 1.1.2.2.2 2.8.2 1.1.2-2.8.2.4.2.9.2-1 .2.5.2 1.9.2-.9.2-.3.2-.7.2 3.3.2-3.2.2 1.3.2-1.7.2.7.2 1.2.2-.7.2 1.5.2-.7.2-2.1.2-1.4.2 5.1.2-2.3.2 3.2.2-2.2.2-1.1.2 2 .2-1.2.2.5.2-1.3.2 2.4.2.7.2-2.4.2 3.5.2-3.4.2 1.3.2-2.7.2-.4.2 6 .2-1 .2-.3.2-4.1.2 2.9.2.4.2-.4.2.4.2-1.7.2 1.2.2-1.3.2 1.3.2 1.2.2-1.5.2.9.2 0 .2.9.2 1.4.2-.7.2.4.2-2.3.2 1.7.2 1.9.2-2.1.2.8.2-.5.2 3.3.2-2.2.2-.2.2 1.9.2.8.2-.7.2.8.2-1 .2-.4.2-.4.2-.1.2-.1.2 1.2.2-.8.2.1.2.5.2-1 .2-2 .2.5.2-.7.2-1.3.2 2.4.2-2 .2-.4.2 0 .2 2.1.2-1.8.2 1.4.2-1.6.2-.7.2 1 .2-.2.2-.8.2-1.6.2.6.2-1 .2 1 .2.4.2 1.7.2 0 .2-.9.2.4.2-.8.2 3.2.2-1.4.2 1.4.2-2.6.2.2.2.9.2-.9.2.3.2-1.5.2 2.4.2-.8.2.9.2-1.1.2-1.8.2 2.7.2.9.2-2.8.2.4.2.9.2.1.2-1.6.2 4 .2-.8.2-1.8.2-1.3.2 2.5.2 1.9.2-1.2.2.4.2-2.3.2 1.4.2-1.9.2 3.9.2-1.5.2-2.8.2.3.2 2.6.2-.3.2-.4.2 1.1.2 1.5.2-1.7.2-2.3.2 1.9.2-1.2.2.6.2 1.3.2-.5.2-.9.2 1.2.2-.8.2 1.5.2-.7.2.7.2-.6.2 1.1.2-.9.2.2.2-.5.2.8.2-2 .2 4.8.2-3.5.2.9.2-.6.2.1.2 1 .2-.9.2.1.2-.9.2.5.2-.2.2 3.3.2-3.3.2.3.2 1.4.2 1.4.2-3.3.2.3.2 1.8.2.3.2-1.8.2-.3.2.9.2 1.9.2-.8.2.9.2-.8.2.1.2.7.2-.7.2.5.2-1.2.2.4.2 1.2.2-.7.2-.5.2 1.6.2-.1.2-.5.2-.7.2 1.8.2 1.7.2-3.4.2-.7.2.8.2-.1.2-.2.2.1.2 2.2.2 0 .2.7.2-.7.2-1.2.2 1.7.2-1.7.2.3.2-.8.2 2.5.2-.2.2-1.5.2.2.2.5.2.2.2.7.2-.8.2.4.2-1.9.2 1.2.2-1.5.2 3.8.2-.4.2-.6.2.4.2 1 .2-1.1.2-2.6.2 1.5.2-2.2.2 1.6.2-.4.2 1.3.2.5.2-1.3.2.7.2.6.2-.4.2 0 .2-2.3.2 2.1.2 1.3.2-.5.2-1.8.2 1.3.2.6.2-1.3.2 1.8.2-1.5.2.5.2.2.2 2.5.2-2.6.2-.2.2 1.3.2-1.2.2.7.2-2.4.2 2.6.2-.3.2-1.3.2 2.7.2-1.6.2.1.2-1.1.2-.3.2 1.1.2-1 .2 2.1.2.4.2-1.5.2-1 .2 1.3.2-.7.2 1.3.2 0 .2-.6.2.6.2 1 .2.6.2-2.2.2 1.3.2-1 .2-.8.2 2.4.2-.9.2-.2.2.2.2-.5.2-.9.2 2.9.2-.9.2-.6.2.7.2.4.2-1.5.2.8.2-.9.2 1 .2-.9.2 2.7.2-2.8.2.9.2 0 .2-.8.2 1.3.2-1 .2-.3.2.4.2-.8.2 2 .2-.6.2.4.2-2.3.2 1.6.2-1 .2.9.2 1.1.2-1 .2-.4.2 1.3.2-.1.2.9.2-3.7.2 2.2.2-.8.2-.4.2 1 .2-1.3.2-1 .2 1.3.2.6.2 2.1.2-2.5.2-.4.2-.8.2 1.6.2.1.2.4.2-1.6.2.7.2-1.5.2 2.4.2-1.7.2-1.1.2 3.8.2-.6.2-.2.2 0 .2-1.3.2 2 .2-2 .2 2.9.2-1.7.2-2 .2 2.7.2 1 .2-2.1.2 1.3.2-1.3.2-.4.2-1.9.2 3.7.2-1.6.2.8.2-1.4.2.2.2 1.9.2-1.4.2 0 .2-.8.2 1.4.2.5.2-1.1.2.2.2-1 .2 2.6.2-2 .2.5.2 1.8.2-1.9.2-1.2.2.6.2.5.2 2.1.2-1.5.2-.4.2 1 .2.5.2-2 .2 2.1.2-.5.2-.4.2-2.6.2 2.4.2 1.2.2-1.6.2 2.5.2-2.1.2-1 .2 1.5.2-.2.2.5.2-1 .2 1.5.2-1.8.2.7.2-1.3.2.5.2 1 .2-.8.2.2.2.2.2.5.2.5.2 0 .2.3.2-.8.2-.7.2-.9.2 1.2.2-.4.2-1 .2 3.3.2-3.3.2 2.1.2.2.2-.7.2 2.7.2-2.5.2-.7.2 2.4.2-2.4.2-.6.2.4.2.4.2.6.2.3.2-1.8.2 1.8.2 1.8.2-2.8.2.5.2.8.2.5.2-1.8.2-.3.2-.1.2 2 .2-.2.2-3 .2 0 .2.9.2-.3.2 1.7.2-.2.2 1.6.2-1.1.2-.7.2.9.2-2 .2-.5.2 1.3.2.8.2-2.4.2 2.3.2-.1.2-1.3.2.5.2-.4.2.2.2.7.2-1.6.2 1.7.2-.3.2 0 .2-2.7.2 0 .2 2.4.2-1.3.2-.2.2-.2.2-.6.2.9.2-.5.2-.1.2.9.2-1.6.2 2 .2-3.2.2 4.3.2-3.7.2 1.7.2.3.2-.9.2.6.2-.8.2-1.5.2 1.9.2.7.2-1.5.2-1 .2 1 .2.9.2 0 .2.8.2-.5.2 0 .2-2.3.2 4 .2-2 .2.8.2-1.1.2.3.2.2.2 1.4.2 0 .2-.8.2 1.3.2-2.1.2.9.2-.9.2 1.7.2-1.1.2.9.2.7.2-3.4.2 3.9.2-1.6.2-.5.2-1.4.2 1.5.2-1.8.2 2.3.2-.2.2 1.8.2-1.8.2 1.3.2.1.2.9.2-2 .2 1 .2-1.9.2.4.2.8.2.4.2-1 .2.8.2 1 .2-.9.2.3.2-.6.2 2.1.2.4.2-1.4.2-.2.2 1.6.2-1 .2-.9.2-.6.2.7.2 2.6.2-2.5.2 3.2.2-2.5.2-.2.2 1.4.2-1.3.2.6.2-1.2.2-.2.2.5.2.9.2-.7.2-1.1.2 2.2.2-.5.2-.1.2-.3.2-1.4.2 3.5.2-1.8.2.9.2.8.2-.2.2-.8.2-.1.2.3.2.6.2-.3.2-.9.2.9.2-.1.2.3.2-.4.2 1.1.2-1 .2.6.2-.7.2-.5.2-.3.2.7.2.6.2.7.2-1.2.2-.3.2 0 .2 1.6.2-1 .2-.5.2 1.1.2-1.8.2 1.3.2-.1.2-.1.2-.8.2 1.8.2.7.2-2.6.2 1.3.2.4.2 1.4.2-2.3.2-.4.2.8.2 1.8.2-1.6.2.1.2 1.4.2-3.4.2 0 .2 2.7.2-.1.2-1.9.2 1.7.2-.4.2.2.2-.9.2.3.2-.3.2.8.2-.2.2 1.6.2-.8.2-1.9.2 1.7.2.9.2-1 .2.7.2-.9.2.6.2-1.3.2 1.4.2-1.8.2 2.3.2-2.4.2-.5.2 2.3.2-.6.2.3.2.3.2-.4.2-.7.2.9.2.1.2.2.2 1.2.2-2.2.2.7.2.4.2-.9.2-.6.2.6.2 1.3.2-1.1.2.8.2-1.1.2 1 .2-1 .2-.1.2.8.2 0 .2 1.2.2-2.6.2 1.8.2.9.2-.2.2-1.5.2-.2.2.2.2.6.2-.1.2.2.2.2.2-1.4.2 0 .2-.1.2-.1.2 1 .2.4"/>
<text transform="translate(686.60 141.00) scale(1 1.07)" class="lb">+<tspan dx="0.5">8<tspan class="as" dx="0.4" dy="-1.2">*</tspan></tspan></text>
<path class="sp" d="M439 144.8l.4-8.1.4-2.1.3 5.5.4-8.5.4 4.2.4 2.5.3-.8.4-1.4.4-2.9.3-3.4.4 4.1.4-1.6.3 4.8.4-3.1.3 2.6.4-8 .3 9.4.4-6.7.3-2.6.3.6.4 2.6.3 6 .3-1.6.4-6.6.3 4.2.3-.9.3-5.1.4 1.8.3-3.6.3 3.7.3-6 .3 6 .3-.7.3.3.4-.4.3 6.1.3-5.1.3 1.5.3 1.3.3.1.3-1 .2-4.1.3-1.9.3.8.3.7.3 1.3.3-.3.3 3.4.2-3.4.3 5.7.3-1.8.3-4 .2 4.4.3-10 .3 12.6.2-2.1.3.6.3-5.1.2 12.1.3-7 .2.8.3 3.9.3-3.1.2-1.5.3 4.2.2-4.2.3 4.5.2-1.7.2 2.3.3-6.4.2 5.9.3-2.9.2 3.7.3-7.2.2 5.7.2-3.6.3-.4.2-4.5.3 2.7.2-.4.2-4.3.3-1.3.2.6.3 5.2.2-3.6.2 1.8.3-1.7.2-.4.2.3.3-1.5.2 4.2.2-2.5.3.3.2-3.7.2 4.3.3-2.1.2.6.2 4 .2-4.9.3 2.4.2 2.2.2 1.5.3-3.7.2 2.2.2.1.2-3.1.3-2.3.2.7.2 6.1.2-1.1.3-3.3.2 1.8.2.6.2.2.2.9.3 5.2.2-6.8.2 2.2.2-2 .2.4.3-.5.2 1.5.2-.6.2 2.1.2-.2.3-2.4.2 6.4.2-6.9.2 3.5.2 4.2.2-6.3.2 4.6.3.4.2-2.3.2-4.7.2 7.5.2-2.7.2-1.2.2 4.2.2-4.2.2 4.2.2-3.3.3 2.6.2-3.3.2 1.7.2-1 .2.7.2 2.1.2-.6.2.9.2 2.5.2-2.9.2-3.7.2 3.5.2.8.2 2 .2-.1.2-.2.2-2.6.2 1.7.2-4.6.2 5.6.2-2 .2-.1.2-2.1.2.7.2-1.7.2 2.3.2-4.2.2 4.5.2-1.1.2 2.8.2-4.4.2-.3.2.4.2-.5.2-.4.2-2.1.2 0 .2 1.1.2.5.2-1.7.2.1.2 1.8.2 2.1.2-1.7.2 1.8.2.7.2-.3.2-2.2.2.2.2-2.7.2 2.4.2 2.4.2-2.9.2 4.8.2.3.2-3.4.2 2.6.2-4.5.2.8.2 1.3.2.7.2-.4.2-1.3.2 5.4.2-3.2.2-.1.2.7.2-1 .2-.8.2-.6.2-2.1.2 5.8.2-4.6.2-1.4.2 1.6.2-1.6.2 6.6.2-3.1.2 1.9.2 0 .2-1.6.2-.1.2-2.3.2 1.1.2-1 .2 1.2.2-1.3.2 3.5.2-.9.2-1.6.2-2.7.2 4.2.2.4.2-1.6.2-2.1.2 3.1.2 1.1.2-5.1.2 4.4.2-4 .2 3.4.2 2.9.2-2.7.2.7.2-1.2.2.6.2 4.1.2-1.6.2-2.6.2 0 .2.8.2 3.7.2-3.2.2 1.7.2-2.3.2-1.2.2 4.5.2-2 .2-.9.2.5.2.4.2.5.2-1.2.2 4.8.2-.9.2 1.3.2-1.7.2 1.4.2.1.2 1.9.2-.2.2-.4.2-1.3.2-.7.2.9.2.5.2.3.2-1 .2 4.6.2-2.1.2-3.5.2 1.3.2-.5.2 2.3.2 1.1.2-3.4.2 2.2.2-1.6.2 1.8.2 0 .2-2 .2.2.2-1.4.2-1 .2-1.6.2 1.8.2-1 .2-.8.2.1.2-.6.2-1.6.2.4.2 2.2.2-2.3.2 2.1.2-3.9.2-.5.2 2.1.2.8.2-2 .2 1.8.2.5.2.3.2-1.5.2.2.2-2.1.2 2.6.2.6.2 1.8.2-3.6.2.9.2 0 .2 2.8.2-4.5.2 2.2.2 4.5.2-1.8.2-2.6.2 1.8.2 1.3.2-.4.2-1.1.2-.8.2 2.2.2-1.1.2 1.1.2-.6.2-1.1.2 2.5.2-2.6.2 1.3.2-1.4.2.5.2 0 .2-.6.2 1.2.2 1.4.2.7.2-.5.2-2.1.2 2.2.2-1.3.2 1.8.2-3.9.2 3.6.2-2.6.2 2.3.2-2 .2 1.8.2-1.4.2-1.9.2 1.2.2 1 .2.5.2-2.8.2 1.4.2.7.2.8.2.7.2-1.2.2-.8.2 2.4.2-.7.2 1.6.2-1.6.2 1.6.2-1.9.2 1.6.2-.1.2.5.2-1.6.2 1.1.2-.8.2.9.2 1.1.2 3 .2-3.6.2.9.2-.7.2 1.4.2-.8.2.8.2-.8.2 2.6.2-1.2.2-3.7.2 2.5.2-.2.2-2.7.2 1.7.2.6.2-.3.2 1.2.2-2.3.2 3.2.2.1.2-.5.2-.7.2.4.2-.5.2 2.1.2-.7.2 1.9.2-2.9.2 2.3.2-2.4.2.6.2-1 .2 1.9.2-.6.2.9.2 1.1.2-1.8.2.6.2.7.2-1.2.2-.5.2 1.2.2.2.2.4.2.1.2-1.8.2 1.4.2 1 .2-2 .2 1 .2-1.1.2 1 .2 1.9.2-1.8.2-1.4.2 1.6.2-.1.2 1.1.2-3 .2.6.2 1.1.2-1.8.2 3.3.2-3.8.2 1.5.2-.8.2 1 .2 1.8.2-.2.2.4.2-.3.2-3.2.2 2.9.2-2.6.2 1.6.2.2.2-.1.2 1.2.2-1.5.2 3.1.2-1.4.2.7.2-.4.2.1.2-1.1.2 2.5.2-3.6.2 1.8.2-.5.2-.3.2.7.2-1.3.2 2 .2-.1.2-.8.2.8.2-2.1.2-.9.2 1.4.2.5.2 3.2.2-3.2.2 1.5.2-.2.2 1.5.2-2.4.2.7.2-1 .2-.8.2-.2.2.3.2 2.6.2-1.4.2-.5.2.2.2-.7.2.7.2 0 .2.8.2.3.2-3 .2 2.2.2 1.3.2-2.8.2.9.2.5.2 1.1.2-.6.2-.9.2.8.2.6.2-.7.2 1.7.2-1.7.2-1.7.2.3.2.8.2-.1.2.9.2-.3.2 1.6.2-1 .2.7.2-2.6.2.4.2 1.3.2-.7.2.6.2-.4.2-1 .2 2.7.2-.7.2-3.1.2 1.1.2.7.2.8.2-.9.2-1.4.2 2.5.2-1.2.2 1.6.2-1 .2.8.2-.2.2 0 .2-1.6.2 1.8.2-.9.2-1.7.2 1 .2 0 .2 1 .2.2.2-2 .2 2.1.2-.9.2-1.1.2 2.1.2-1.8.2-.4.2 2.2.2.2.2-1.8.2 2 .2-.1.2-1.7.2 2.9.2-2.3.2.3.2-2.9.2 3.4.2-1.4.2 1.2.2-2.4.2 3.3.2.3.2.6.2-5.5.2 4 .2-.2.2-3.7.2 2.5.2.8.2 1.7.2-2.5.2 1.2.2-.3.2.5.2-.8.2 1.5.2.1.2-2.6.2 2.8.2-2 .2.5.2 1.6.2-1.1.2.5.2.3.2-.2.2-1.2.2-.4.2 1.8.2.1.2-.4.2-.6.2 1.2.2-.9.2-1.5.2 1.9.2.3.2.3.2-1.8.2.2.2 1.3.2-.9.2.5.2 1.2.2-.6.2 1.6.2-1.6.2 1.6.2-.6.2 1.6.2-2.7.2 0 .2 1.5.2-1.9.2.1.2.9.2.1.2-1.8.2 1.8.2-.5.2.3.2.3.2-.4.2 1.5.2-.6.2-.7.2.3.2 1.1.2-.2.2.5.2-1.4.2.3.2 2 .2-2.1.2 1.8.2-.8.2-1.4.2-1 .2 2.2.2-1.4.2 0 .2-1.1.2 3.2.2-1.2.2-.1.2.4.2-.1.2-.2.2.5.2-.9.2-2.4.2 3.5.2-.3.2-.5.2 1.7.2-3.2.2-1.6.2 4.7.2-1.2.2-2.2.2 1.3.2 1.1.2-1.9.2 1.8.2 1.7.2-.8.2-1.5.2.3.2-1.3.2 1.1.2-.5.2-.7.2-.4.2 3.5.2-2 .2-1.2.2.6.2 2 .2 0 .2-2.4.2.8.2.6.2-1.4.2-1 .2 0 .2.9.2-.9.2-.7.2.9.2 1.1.2-.5.2-1.1.2 1.9.2-3 .2.4.2-1.6.2 1.9.2-1.2.2-1.9.2.6.2 2.4.2-1.3.2-.9.2.7.2-2.7.2.6.2-.6.2.4.2.3.2.8.2.4.2-.2.2 1.7.2-3.4.2.4.2.5.2-1.4.2.5.2.7.2-1.3.2 1.4.2.9.2-2.2.2-1 .2 2.6.2-1 .2 1.5.2-.4.2 1 .2 1.1.2-.1.2-.9.2-.4.2-1 .2.7.2 1.7.2 1.2.2-.6.2.2.2-1 .2 0 .2 0 .2 2.4.2-2.6.2 2.7.2-1.5.2 1.4.2-.2.2.5.2.5.2-2 .2-.2.2.6.2-.4.2 1.5.2-.8.2.2.2.4.2-.9.2 1.6.2-2.9.2 2.1.2.3.2-1.3.2.1.2 1.6.2-1.1.2-1.6.2.6.2 2.4.2-1.8.2 2.3.2.2.2-1.4.2.9.2-1.2.2.6.2-.1.2 1.5.2-1.6.2 1.4.2.4.2.7.2-2.4.2.5.2 1.1.2.8.2.5.2.2.2 1.9.2-1.3.2 0 .2-1.1.2 1.3.2-.1.2-.1.2-.7.2.7.2.9.2-2.3.2-1.3.2 2.9.2-.1.2-.9.2-.2.2 3.1.2-3.2.2-.7.2.7.2 1 .2-1.1.2.2.2.7.2-.7.2.5.2-.2.2-.9.2 1.1.2-1.2.2 2 .2-1.8.2.7.2-1.6.2 1.4.2-.8.2 2.6.2-1.5.2.6.2-2.2.2.5.2 1 .2-1.1.2 2.4.2-1.5.2.5.2.2.2-.5.2.9.2-1.4.2 1 .2.8.2-.9.2-.1.2-.4.2.3.2.6.2-.9.2-1.3.2 1.7.2-.3.2.6.2-.4.2 1.5.2-2.7.2.3.2 1.5.2-1.6.2 1.3.2-.3.2-1.9.2 2.5.2.6.2-1 .2-1.5.2 2 .2-1.7.2.9.2.5.2-1.1.2-.9.2 1.5.2.1.2-.8.2.1.2 1.4.2-.7.2-.3.2-.1.2.7.2-.1.2-.2.2-1.1.2 1 .2-.2.2.6.2 1 .2-.1.2-.3.2-.5.2-.3.2.6.2-.7.2.1.2-.4.2.8.2 0 .2 1.7.2-1.1.2-.8.2 1.1.2-1.1.2 1.3.2-.2.2 2 .2-3.6.2 1 .2 0"/>
<text transform="translate(686.60 161.30) scale(1 1.07)" class="lb">+<tspan dx="0.5">11<tspan class="as" dx="0.4" dy="-1.2">*</tspan></tspan></text>
<path class="sp" d="M439 159.1l.4 1.7.4-7 .5 1.1.4 4.2.4 2.7.4-8.5.4-1.6.4 10.7.4-1.2.4.9.4-8 .4 3 .3 1.6.4.8.4-2.1.4.2.4 3.9.3-5.4.4-.5.4.3.4-.5.3 2.2.4-1.4.3-1 .4 6.4.4-4.2.3-2.5.4 5.4.3-6.6.4 1.5.3-.8.3-2.2.4 0 .3.8.3-5.7.4 2.8.3 1.4.3-.5.4-.5.3 6 .3-5.7.3-2.8.3 0 .4.5.3 1.7.3-1.6.3 6.3.3-6.9.3 6.3.3.7.3-3.6.3 6.3.3 1 .3-2.4.3 9.4.3-3.7.3-2.3.3.1.2-.5.3 2.8.3-.7.3-4.4.3.6.2.4.3.2.3-.6.3-1.6.3 2.8.2 0 .3-3.1.3-6.8.2 4.8.3 1.2.3-2.2.3.5.2-.8.3-4.4.3-2.7.2 8.2.3-2.9.3 2.4.2-1.8.3.3.3 4 .2-6.5.3 3.1.2-2.7.3 3 .3 1.1.2.5.3-1.2.2-3.8.3 4.1.3 1.7.2.4.3 2.9.2-3.9.3-3.8.2 1.3.3 1.6.2 2.5.3-5.3.2 5.1.3-.5.2-3.6.3 3.6.2-3.2.3 1.9.2-.6.3 1.5.2-3.3.3 4.3.2-6.2.3 4.4.2-.1.3 5.3.2-2.2.2-2.2.3-.7.2 2.5.3-1.3.2 6.9.2-11.4.3 6.9.2-5.6.2 8.2.3-4 .2 5.7.2-4.8.3 3.9.2-1.9.2 2.2.3-2.5.2-6.8.2 5 .3-2 .2 5.4.2-1.2.3-1.4.2.6.2-.9.2-2.2.3 5.2.2-4.3.2-1.4.2-3.2.3 1.4.2.9.2-.9.2-1.1.3.5.2-2.7.2 2.1.2-3.7.2 1.2.3 0 .2 3.2.2-.9.2-1 .2-2.6.2 1.6.3 2.6.2 1.1.2-5.5.2 2.3.2 1.4.2.8.2-.5.2 1.7.3-4 .2 6.5.2-5.2.2 2.9.2 1.3.2 1.6.2-.1.2.2.2 1.2.2-2.6.2 2.2.2 1.8.2-4.3.2-1 .2 1 .2 4.9.2-.2.2-3 .3 1.2.2.5.2 1 .2-5.8.2 2.5.2.4.2.9.2-.8.2-1 .2.9.2-5.8.2 10.5.2-4.6.2-.2.2-3.2.2 1.8.2 2.8.2-.6.2-3.5.2-2.5.2 2.6.2-.9.2 2.2.2-4 .2 2.1.2.9.2-1.3.2 2.8.2-3.9.2-.1.2 1.7.2 2.3.2-2 .2-.4.2 2.6.2-.9.2-1.2.2 1.3.2-.5.2 1.7.2-.7.2-1.5.2.7.2.3.2 1.5.2.2.2-1.9.2 1.3.2 1 .2 1.5.2-1.2.2 3.1.2-3.1.2 1.5.2-1.4.2-.8.2 2.3.2 1 .2.2.2.1.2-.3.2-.4.2 1.3.2 1.7.2 1.2.2-6.6.2 6.6.2 1 .2.5.2-1.3.2.5.2-1.8.2.5.2.8.2-2.7.2.2.2 1.2.2-2.8.2 1.8.2-2.8.2 2.1.2-.7.2-1.4.2-1.2.2.2.2-3.2.2 2.2.2.3.2 1.1.2-3.1.2 0 .2 1.9.2 0 .2-3.7.2 1.9.2-.2.2-1.3.2-2.4.2-.1.2 2.1.2 2.5.2-3.7.2 2.6.2.6.2-4.3.2 1.2.2 3.2.2-.4.2-.3.2-.4.2 1.2.2-1.3.2 4.7.2-4.7.2-.5.2 3.1.2 2.2.2-2.3.2.9.2-1 .2 1.6.2-1.1.2.3.2-.5.2 1.3.2 3.3.2-2.4.2.4.2 2.8.2-3.7.2-.4.2 2 .2-2.2.2 2.1.2 1.2.2-2.8.2.8.2 2.8.2-3.4.2.5.2 1.3.2-.7.2-.6.2 3.1.2-2.6.2 1.1.2-.8.2.2.2-1.3.2 2.8.2-1.6.2 2.1.2-2.9.2.9.2 1.2.2-.4.2-.9.2.7.2-1.4.2 1.7.2-3.2.2 3.4.2 1.5.2-.5.2-.1.2-1.5.2 1.2.2-1 .2.4.2 0 .2-3.9.2 5.2.2-.5.2.5.2-2.1.2 2 .2-.2.2-3.2.2.6.2 2.3.2-.8.2.8.2-.7.2 2.6.2-4 .2.7.2.5.2-.4.2 1 .2.8.2-1.6.2 2.1.2 1.2.2-.2.2 1.2.2-1 .2-1.3.2 2.2.2-1.2.2 1.4.2-2.4.2-2.2.2 1.2.2 1.6.2.5.2-.8.2 1.5.2-2.5.2.6.2 2.1.2-1.1.2.1.2 1.6.2-.3.2-2.2.2 1.3.2-2.2.2 2 .2.6.2-2.5.2 4 .2.6.2-1.8.2.6.2.7.2-1.9.2 1.5.2-.7.2-2.3.2.8.2.5.2 2 .2-1.1.2 1.1.2-1.7.2-.9.2 4 .2.8.2-2.7.2-.6.2 1.7.2-2.7.2 1.1.2-1.4.2 2.3.2-.2.2-.8.2-.2.2-1 .2.9.2 2.4.2-1.8.2 2 .2-2.5.2 1 .2-.5.2.3.2 1.3.2-3.3.2 3.3.2 0 .2-.8.2.2.2-.3.2 1.1.2-.7.2-1.1.2 1.3.2.9.2-.6.2-.4.2.3.2-.8.2.1.2-1.7.2 2.1.2 1.4.2-1.6.2-.6.2 2.2.2-.8.2 0 .2.4.2.3.2-.8.2-.9.2 3 .2-1.9.2-.9.2 1.1.2 1.3.2-3 .2 3.2.2-1.7.2 2.6.2-1.5.2-.9.2 1.6.2.1.2-1.8.2.7.2-.8.2 1.7.2-2.7.2 1.5.2-2.2.2 3.2.2-3.3.2 1.5.2 1.5.2-.6.2-.1.2-.6.2.7.2-1.5.2 2.5.2.6.2 0 .2-.9.2 1.5.2-.8.2.6.2-.6.2-.4.2-.9.2-2.1.2 3.8.2-.8.2 2.5.2-4.6.2 3.3.2-2 .2 1.1.2-1 .2 1.5.2-.4.2 1.1.2-.8.2.4.2.9.2-.8.2-.8.2 1.6.2-1.5.2.6.2-.8.2-.4.2-2.6.2 4.2.2-2.1.2 2.2.2 1.2.2-3.5.2 2.5.2-1.1.2.7.2-1.9.2 1.4.2.1.2 1.5.2.8.2-2 .2-.8.2 2.9.2-2.6.2.1.2.2.2.4.2.3.2-1.5.2.6.2 2.2.2-.3.2-1.3.2-.2.2-.5.2 1.4.2-1.7.2.7.2-.7.2-.1.2.7.2 0 .2-.7.2.6.2.2.2-.6.2-.2.2.6.2.9.2.5.2-1 .2-.5.2.3.2 2.2.2-1.2.2-2 .2 1 .2-.5.2.2.2-1.5.2 1.9.2-1.5.2.9.2 2.4.2-.6.2-2.1.2-.1.2.1.2-1 .2 1 .2.9.2-.9.2 2.1.2-.9.2-.5.2 2.6.2-1.1.2-.6.2 2 .2-.5.2-2.3.2 1.3.2-.8.2-1.1.2 3.8.2-.4.2-3.1.2 2.1.2-2.4.2 3.1.2-1.2.2-.2.2 1.8.2-1.3.2-.3.2 1.4.2-1.3.2 1.3.2-.9.2 1 .2-.2.2.2.2-2 .2 3.3.2-2.2.2 2.2.2-2.6.2.3.2.1.2 1.6.2-1.7.2.9.2-2.2.2 1.3.2.8.2-.4.2-2 .2 2.7.2-1.7.2 3.3.2-2.4.2 2.7.2-1.8.2-.2.2-1.1.2.4.2.7.2-2.7.2 3.2.2-2.4.2 1 .2-2.8.2 3.5.2.3.2-.5.2 0 .2-.8.2.5.2 1.2.2-1.9.2 1 .2.2.2-1.1.2.4.2 0 .2-.9.2 3.2.2-3.2.2 2.3.2-.8.2-3.5.2 2.5.2.7.2-.5.2-2.3.2.8.2-2.2.2-.4.2.3.2-.2.2 1 .2-2.1.2.2.2-3.1.2-.5.2.3.2 2.2.2-3.7.2-.5.2 1.6.2 1.2.2-3.3.2 1.4.2-1.4.2 3 .2-.9.2-.6.2-.5.2-.3.2.3.2-.9.2-.4.2-.3.2 1.2.2-1 .2 1.8.2-3.4.2 2.9.2 0 .2.7.2-1.7.2-1.4.2.6.2 2.3.2-1.6.2-.2.2-.2.2.6.2-.2.2-1.5.2 1.1.2 1.7.2.5.2-1.6.2-.1.2 2.5.2-1.2.2-.5.2 1.8.2 1.6.2 1.6.2-1.6.2 1.7.2-.5.2 2 .2-.8.2.1.2-1.4.2.8.2.1.2-3.6.2 5 .2-1 .2-.2.2-.1.2.5.2.2.2-1.7.2 1.6.2 0 .2 0 .2-1.7.2 1.5.2-1.2.2 1.8.2 1.1.2-.5.2-1.3.2-.2.2 0 .2 1.1.2-1.1.2.2.2-2 .2 1.9.2.2.2.5.2 2.1.2-2.5.2.2.2 2.4.2-1.4.2 1.2.2.6.2.1.2-.6.2 2.2.2.8.2-2.5.2 1 .2 1.6.2-1.2.2-.7.2.7.2 1.4.2-2 .2 1.4.2.1.2-1.1.2 1.3.2.1.2.4.2-.1.2-2.6.2 2.6.2-.4.2.5.2-2 .2 1.9.2-.6.2-1.7.2 2.7.2-2.2.2-.3.2 1.5.2-1 .2 1 .2-.7.2.6.2.6.2-.9.2.9.2 0 .2-1.8.2 1.8.2-.2.2-.5.2 1 .2.6.2-1 .2-2.4.2 2.1.2-.6.2-.2.2.7.2-.7.2 2.1.2-1.5.2-.3.2.9.2 0 .2.4.2-.6.2-.7.2.2.2-2.5.2.7.2 2.7.2-1.4.2 2.3.2-.1.2-3.2.2 1.6.2 2.8.2-3.9.2 1.2.2-.6.2 0 .2-.1.2.3.2.8.2-1.6.2 1.4.2-1.3.2 1.3.2-.2.2-1.2.2 1 .2-1 .2-.1.2 2.2.2-3.2.2 2.5.2.2.2-1.4.2 1.8.2-.1.2-2.4.2 2 .2-.1.2-1.2.2 1.4.2.2.2-1.6.2-1.3.2 2.6.2-1.2.2-1 .2 1.4.2-2.1.2 2.2.2 2 .2-4.6.2 3.5.2-1.4.2.6.2-.5.2 1.6.2-.6.2-.8.2-.5.2.9.2 1.7.2-2.4.2 1.7.2 0 .2-2.5.2 3.3.2-1.2.2 2.5"/>
<text transform="translate(686.60 182.40) scale(1 1.07)" class="lb">+<tspan dx="0.5">14<tspan class="as" dx="0.4" dy="-1.2">*</tspan></tspan></text>
<path class="sp" d="M425 208.7l.2-1.3.2.2.2-.5.2-.1.2 1.6.2-.6.2-.1.2.3.2.7.2.3.2-.6.2-.1.2.3.2 1.5.2-2.9.2.7.2 1.2.2-.1.2.8.2.1.2.5.2-1.9.2 1 .2-.5.2.8.2-.5.2.5.2-1.1.2.6.2-.4.2.1.2-.1.2-.4.2 1.5.2-.6.2.5.2-1.4.2-.7.2.9.2.3.2.6.2.2.2.1.2.2.2-.6.2-.5.2-.6.2 1 .2-.9.2-.3.2 1 .2-.3.2.4.2-1.2.2 1.3.2-.6.2-.5.2-.4.2-.3.2-.3.2 1.9.2-2.2.2 1.3.2-.8.2-.5.2-.1.2 0 .2.4.2-.5.2-.6.2-1.2.2-.5.2 2.4.2-2.2.2-.6.2 1.8.2-1.9.2 1.4.2 0 .2-.6.2.4.2-1.7.2 0 .2.6.2 0 .2-.1.2.3.2-1 .2-1.1.2 1.8.2-.6.2.7.2.9.2-1.5.2.3.2-1.1.2 1.3.2-.4.2-.1.2.5.2-1.5.2 1.2.2 0 .2.8.2-2.4.2 1.3.2 1.6.2-1.8.2.1.2 1.6.2.5.2-1.6.2-.5.2.1.2.2.2-.3.2.1.2.7.2 0 .2.3.2-.2.2-.9.2 1.4.2-.3.2-.5.2.2.2.4.2-.1.2-.2.2.6.2.1.2-1.2.2-.1.2-1.1.2.3.2 0 .2-.1.2-1 .2-.6.2-.9.2.3.2-1.3.2.5.2-.4.2-.9.2.6.2-.7.2.3.2-1 .2.4.2.5.2-1.2.2.2.2-1.2.2 0 .2-1.2.2 1.2.2-.8.2.9.2-1.4.2 1 .2.9.2.6.2-1.1.2 1.4.2 2.5.2-.7.2.1.2-1.6.2 1.8.2 1.6.2.2.2.6.2.8.2-.3.2.8.2-1.7.2 3.2.2-2 .2-.4.2 1.2.2-1 .2-.2.2-1.7.2-.1.2-.4.2-2 .2-.2.2-.8.2-.8.2-1.1.2-1.1.2.5.2-.8.2.1.2-1.3.2-.8.2-.7.2.9.2-.3.2 1.5.2.1.2-.6.2-1.8.2-.4.2.8.2-.6.2 1.6.2-1 .2-.4.2.3.2.8.2-1.6.2 1 .2-1.3.2.8.2-.4.2.7.2-.1.2.8.2-.4.2-.9.2-.4.2.4.2.3.2.2.2-.4.2 1.4.2-.1.2-.7.2-.1.2.2.2.2.2.1.2-1 .2.9.2-1 .2 1.4.2.5.2-1.1.2.9.2-.5.2.1.2 1.9.2-.7.2-.2.2-.5.2.7.2-.4.2.6.2-.9.2.7.2-.1.2-.6.2 2.3.2-.4.2-1 .2-.3.2.7.2.2.2.6.2-.2.2 1 .2 1.2.2.8.2-1.2.2 2 .2-.2.2.4.2.8.2.1.2 1.1.2.1.2-.7.2-.4.2 1.6.2-.2.2-1.3.2-.7.2.5.2-.1.2-1.8.2 1.3.2-1.8.2.5.2-1.6.2 0 .2-.7.2 0 .2.3.2-1.6.2.2.2.4.2-.9.2 1.6.2-2.7.2 2.6.2-2.4.2 1 .2.2.2-.9.2-1.5.2.6.2.2.2.3.2.2.2.1.2.3.2-1.7.2 1.6.2-1.7.2 1.7.2-.5.2 0 .2 2.4.2-.2.2 1.2.2-1.3.2.8.2 1.3.2.1.2 1 .2-.1.2.5.2-.3.2 1.9.2-1 .2-.6.2 1.2.2-.2.2-.4.2-.2.2-.7.2-.1.2-1.9.2.1.2-.1.2.6.2.3.2-1.5.2-.5.2.5.2-1.6.2.3.2-.7.2-1.7.2.7.2-.5.2-1.4.2-.3.2-.5.2 1.5.2.3.2-1.3.2.4.2-2.3.2 1.9.2.3.2-.3.2-1.9.2 1.4.2-1 .2.8.2-1.3.2.4.2-.5.2.7.2-.4.2.8.2-.3.2-.3.2-.3.2-.3.2.2.2.6.2-.5.2.1.2-.2.2 0 .2-.3.2-.7.2 2 .2.2.2-.8.2 2.3.2-1.9.2 1.9.2-.1.2.4.2 1 .2.2.2-.2.2-.4.2.3.2 1.4.2 1.4.2-.1.2-.1.2.9.2.9.2 1.4.2-1.1.2 1.5.2 0 .2-.8.2-.3.2 1.3.2-1.1.2-.9.2-.4.2 0 .2-1.4.2.4.2-2.1.2-1.1.2-.2.2-1.2.2-.1.2.7.2 0 .2-.9.2-.4.2-.7.2-.1.2 1 .2-.1.2-.5.2.1.2 1.5.2-.4.2-.6.2.1.2.8.2-.6.2 0 .2-1.3.2 0 .2-.1.2-.2.2 1.6.2.3.2-.8.2 1 .2 0 .2-.3.2-1 .2 2.2.2 0 .2-1.4.2 1.8.2-1.3.2-.6.2.3.2-1 .2 1.1.2-1 .2 2 .2-.7.2-1.2.2 1.3.2-1.7.2 1.2.2.2.2-.4.2-1 .2.7.2-.2.2.1.2 1 .2.1.2-.1.2-1.7.2 0 .2.6.2.6.2-1.5.2 1.4.2 2.1.2-1.7.2.9.2.6.2 1.5.2.1.2.4.2-.3.2 2.1.2.1.2-.1.2.9.2.8.2-1.4.2.1.2.4.2 0 .2-1.6.2 1.6.2 1.1.2-1.3.2.7.2-3 .2 1.7.2.8.2-.2.2-1.8.2-.6.2.6.2-1.5.2.3.2-1.3.2 1 .2-.3.2.9.2-1.2.2-.9.2.3.2-1 .2.8.2-.2.2.4.2.3.2-2.2.2 1.6.2.2.2-1.4.2 2.2.2-2 .2 2.3.2-1.3.2.1.2-.6.2.5.2-1.5.2.2.2-.9.2 1.8.2-1 .2 1 .2-.1.2-1.4.2 1.4.2-.3.2 0 .2.1.2-.3.2 0 .2.8.2-1.5.2-.2.2.4.2 1.3.2-1 .2 1.7.2-3.6.2 1.7.2.2.2.6.2.8.2-1.1.2-.6.2 1.4.2.6.2-3 .2 2.3.2-.1.2-.8.2.3.2.6.2-.1.2-.2.2-.6.2 1.1.2-.6.2.6.2-.5.2.7.2.4.2-.3.2.4.2-1.5.2 1.4.2 0 .2-.6.2.4.2-1.9.2 2.2.2-.3.2-1.3.2 2.1.2-.8.2.7.2-.3.2.6.2-.3.2-.2.2.7.2.3.2-2.2.2 1.7.2-.4.2-.3.2 1.9.2-.2.2-1.4.2.1.2 1.4.2-.9.2.3.2-1.1.2 1.4.2 1.1.2-1.1.2.4.2 1.4.2-.5.2.5.2-.5.2.6.2-2 .2.7.2-.5.2 2.9.2-1.3.2-.1.2-.4.2-.1.2-1.2.2 3.8.2-1.6.2.2.2-1 .2 1.1.2.4.2-.2.2.6.2-1 .2.9.2.5.2-.2.2 0 .2-.3.2-.6.2 1.2.2-.7.2-.3.2 1.2.2-1.6.2.7.2 1 .2.2.2-1 .2.3.2.4.2-.5.2-.5.2.9.2-.2.2-.1.2.7.2-.6.2-.6.2.5.2 1.2.2-1.9.2.3.2-.4.2.8.2-1.2.2 1.2.2.1.2-1.1.2-.1.2-.5.2 1.1.2-.9.2.3.2.1.2-.2.2 1.1.2.5.2-2.7.2.9.2.7.2-1 .2.4.2.5.2.8.2-.2.2-1 .2.3.2-.4.2.1.2-.7.2-.5.2 1 .2 1 .2-.2.2-1.8.2 1.2.2-.4.2.7.2-1 .2 1.5.2-.9.2.6.2.2.2-2 .2 1.2.2 1.3.2-1.1.2.7.2-.4.2-.7.2.6.2.6.2.1.2.1.2-1.8.2 1.4.2-1.6.2.9.2-.1.2.6.2-.2.2.7.2-1.3.2 1 .2-.3.2-.3.2-.9.2 1.3.2-.2.2.4.2-.6.2-.2.2.5.2 0 .2.2.2.9.2-1.8.2 1.8.2-3.5.2 2.8.2-1.3.2 2.1.2-2.1.2 1.4.2-1.5.2-.1.2 1.4.2.1.2-1.1.2 2.2.2-1.9.2 1.4.2-1.9.2.1.2.8.2-.8.2 1.1.2-1.9.2 1.7.2-.5.2-.3.2.9.2-.3.2-.1.2.9.2-.3.2.1.2.7.2-1 .2.7.2-.9.2.8.2 0 .2-.7.2-.7.2.2.2.3.2 1.1.2-.5.2 0 .2.6.2.2.2.5.2-1.4.2.9.2.2.2-1.1.2.8.2-.6.2.6.2.6.2-1.4.2.7.2.2.2.8.2-.4.2.9.2-.7.2.4.2 1 .2-.1.2.1.2 0 .2.9.2.4.2-1.1.2-.1.2 0 .2 2.1.2-1.8.2-.1.2 1.2.2.7.2-1.5.2.9.2-.9.2.6.2 1.7.2-.9.2-.3.2.2.2.2.2-.3.2-1 .2-.3.2 1.9.2-2.5.2.8.2-2 .2.7.2-1.2.2-1.4.2.7.2-2.9.2-.4.2-1.2.2-.8.2-.5.2-1.2.2-.2.2.7.2-2.9.2-.1.2-.2.2 0 .2.8.2-.6.2-.4.2-.5.2 1.2.2-2.8.2-.3.2.6.2 0 .2-.6.2-.5.2-.5.2.7.2-.4.2.2.2-.4.2 1.9.2-.5.2 1.3.2-1.5.2.8.2.1.2.6.2.2.2.4.2-.8.2 1.6.2 1.1.2-1.5.2 1.5.2 1 .2.8.2-.7.2.7.2 1.2.2 0 .2-.9.2.2.2 1.5.2-.2.2-.3.2.6.2.7.2-.1.2.2.2.3.2-.6.2 2.5.2-.1.2.4.2-1 .2.4.2.5.2.4.2-1.7.2 1.8.2-.8.2.8.2-.2.2 1.9.2-.7.2-.2.2 1.1.2-.8.2-.4.2.6.2 0 .2.4.2.7.2-.6.2.2.2.8.2-.4.2.6.2-.6.2-.9.2.1.2-.3.2 2.1.2-.5.2-.6.2-.3.2 1 .2-.4.2.4.2-.8.2-.2.2 2 .2-1.8.2.7.2 1 .2-2.2.2 1.8.2-.4.2-.1.2.3.2-1 .2-.8.2 3 .2-1.5.2.8.2.2.2-.6.2.2.2.2.2.6.2-.7.2.5.2-1.1.2 0 .2.4.2.2.2.1.2 1 .2-.7.2-.6.2 1.4.2-1.1.2 0 .2.1.2-.6.2-.5.2.9.2-.3.2-.4.2.7.2-.2.2-.2.2-.9.2 1.2.2 1.4.2-.6.2.1.2-.7.2.8.2-1.3.2.2.2.7.2-1.4.2 1.1.2.2.2 1 .2-1.7.2.8.2-.7.2.1.2-1.6.2 1.3.2 1.5.2-.4.2-.3.2 1.7.2-1.4.2-1.2.2.7.2.2.2 1.2.2-1.8.2.9.2.5.2-1.3.2.7.2-1.5.2 1.5.2-1.6.2 1.3.2 1.5.2-.9.2-.3.2.1.2 1.5.2-1.1.2.3.2-1 .2 0 .2-.4.2.6.2-.3.2 1.2.2-.2.2-.6.2-.3.2-1.6.2 1.6.2.7.2.3.2-2.7.2.5.2 1.8.2-.8.2.6.2-.2.2.8.2-1.7.2.9.2 1.1.2-.6.2-.7.2.9.2-.1.2-.8.2 1.1.2 0 .2-.6.2.8.2-1.5.2 1.3.2-.6.2-.6.2.3.2 1.2.2-1.2.2.2.2-.3.2-.1.2 1.3.2.9.2-.6.2-.6.2.1.2-.7.2-.1.2-.5.2 1.8.2-1.2.2-.3.2.1.2.5.2-.5.2.4.2.1.2.9.2-1.9.2 1.1.2-.7.2.2.2 1.5.2-.7.2-.8.2.7.2-.4.2.8.2-1.1.2.7.2-.5.2.1.2-.1.2-.3.2.5.2.6.2-1.1.2.2.2.6.2-.8.2 1.2.2-.1.2-2.1.2 1.2.2-.3.2 1.4.2.2.2-1.5.2.4.2.5.2-.2.2.8.2.3.2-.3.2.4.2 0 .2-.6.2-.2.2-.1.2 1.3.2.1.2.3.2-.8.2.1.2.6.2.8.2-.5.2.1.2-.7.2 1.1.2.1.2-.9.2 2 .2-1.9.2 1.4.2-.8.2.2.2-.7.2.1.2.9.2-.7.2-.2.2.8.2-.2.2-.5.2-.1.2.9.2-1.4.2.3.2-.1.2-1.4.2-.5.2 1.3.2.4.2-.5.2-.7.2-.1.2.9.2-.8.2-1 .2 1.6.2-.3.2.1.2.4.2.2.2-.5.2-.5.2-1.4.2 1.7.2-.3.2 1 .2 0 .2-.6.2.7.2-1 .2 0 .2-.6.2.4.2.4.2.6.2-1.3.2 1.1.2 1.1.2-2.6.2.7.2.2.2.7.2.7.2-.5.2-.9.2-.6.2.6.2 0 .2.2.2-.8.2 1.7.2-1.6.2 1 .2-.3.2-1 .2.9.2-.1.2-.1.2.7.2-.9.2 2.2.2-1 .2-1.5.2-1.1.2 2.7.2-.7.2-.1.2-.7.2-.3.2-.3.2 3.1.2-.6.2-1.5.2 1.7.2-2.6.2 1.8.2.1.2-1.1.2.3.2-.4.2.8.2.9.2-.2.2-.4.2.6.2-2.1.2 2.8.2-1.5.2-.9.2.7.2-.1.2.5.2.2.2-1.9.2 2.6.2.4.2-2 .2 1.9.2-.2.2-.1.2.4.2-2.1.2 1.5.2-1.2.2 2.5.2-2.4.2-.1.2 1.7.2-.4.2-.4.2.1.2.4.2.8.2-1.7.2.2.2 0 .2.4.2.1.2-.9.2 1.1.2-1.1.2.7.2.1.2.1.2 1.2.2.2.2-.4.2.4.2-1.3.2 1.2.2-1 .2.3.2 0 .2-1.1.2.6.2.3.2.4.2-.3.2-.5.2-.2.2.9.2-.8.2 0 .2.8.2.3.2-.7.2-.7.2 1.6.2.4.2-.9.2.1"/>
<text transform="translate(686.60 213.10) scale(1 1.07)" class="lb">+<tspan dx="0.5">25</tspan></text>
<path class="sp" d="M439 203.5l.2 18.6.3-11.3.2 10.3.2-7.2.3 2.5.2-.1.2-8.6.3 24.4.2-22.8.2 8.9.2-4.7.2 3.1.2 8.3.3-16.3.2 8.7.2 3.3.2-1.8.2 1.4.2-5.4.2-4.1.2 1.8.2 4.3.2 5.5.2-2.9.2 7 .2-6.7.2.5.2.2.2-8.3.2 10.1.2-7 .2 3.2.2 11.5.2-14.7.2 5.7.2.8.2-.5.2-.4.2-2.1.2 10 .2-15.2.2 3.9.2 9.4.2-3.3.2-4.7.2-.3.2 2.5.2 10.1.2-7.3.2-5 .2 4.4.2-2.7.2 7 .2-3.8.2 3.3.2-3.5.2 6.1.2-5.1.2-.3.2-4 .2 2 .2 2.5.2-2.7.2 9.3.2-7.7.2-2.4.2 5.1.2-5 .2 2.3.2-2.1.2-2.5.2 5.6.2-4.4.2 2.3.2-4.7.2-3.6.2.3.2 2 .2 1 .2.9.2 1.5.2-4.6.2 4.6.2-3.6.2 1.9.2 9.6.2-3.1.2-4 .2 6.3.2-.5.2-1.1.2 1.9.2-4.4.2.6.2-1.8.2 4 .2-4.6.2 2.1.2 2.7.2-2.3.2 2.3.2 3.9.2-6.9.2 6.1.2-5.1.2-.6.2 3 .2 2 .2-4.2.2-.1.2.6.2-1 .2 1.8.2-2.7.2.5.2.7.2-2.5.2 2.9.2-5 .2-.9.2 5.6.2-1.9.2-3.8.2 1.2.2-1.5.2-2.2.2 2.4.2-1 .2 1.9.2-6.9.2 5.5.2-1.5.2-1.9.2.4.2-.1.2-1.9.2 1.4.2 2.6.2-4.7.2 2.2.2-4 .2 3.4.2 1.8.2-1 .2.1.2-2.4.2 3.1.2-2.9.2 3.2.2-1.4.2-1.2.2 3.3.2-3.6.2 2.5.2-1.8.2-.3.2 1.7.2-1.1.2-.9.2-.3.2.5.2-.3.2-.7.2-1.3.2-2.8.2 4.4.2-.2.2 2.6.2-1.3.2 1.2.2 1.1.2-3.2.2-1.2.2 3 .2-2.4.2.7.2 3.1.2-1.4.2 1 .2-4.1.2 2.5.2 2 .2-3.9.2 2.7.2.5.2-4.5.2 6.8.2-3.7.2 1.2.2 3.5.2-5.4.2 4.3.2-.9.2 1.4.2-.8.2 4.4.2-3.5.2 3.1.2.8.2-.5.2.2.2.3.2 2.4.2-.8.2-.8.2-1.8.2 2 .2.4.2-1.1.2 2.1.2-5.8.2 6.9.2-4.7.2-2 .2-1.3.2 3.8.2-.8.2-1.7.2 0 .2 0 .2-1.3.2 2.3.2-1.1.2-1.4.2-2.5.2 4.7.2-3 .2-.8.2 3.6.2-1.2.2-4 .2.6.2 2 .2-1.4.2 1.8.2 4.3.2.6.2-4.8.2 1.4.2.1.2-1.6.2-2.1.2 4 .2-2 .2 1 .2.4.2-2.3.2 3.8.2-2.5.2.3.2-1 .2 1.7.2.5.2-2.3.2 1.8.2-1.5.2-1.1.2 1.4.2 1.4.2 0 .2.9.2-2.6.2.6.2.7.2.8.2-1 .2-1.2.2-.8.2 4 .2-.1.2-2.6.2 3.2.2-2.5.2.4.2.7.2-3.2.2-1.1.2-2.1.2 2.2.2-.6.2 0 .2-1 .2-1.2.2 1.1.2-3.2.2 1.9.2.2.2-1 .2 2.6.2-1.9.2 1.3.2-.7.2-1.5.2 2.9.2-1.2.2-1.6.2-.2.2-1.3.2 1.3.2-.2.2.6.2-.8.2 1.3.2-.9.2-2 .2 1.5.2-.5.2-.4.2 1.5.2 1.8.2-2.5.2-1 .2 2.8.2 4.5.2-4.5.2 1.5.2-.5.2 2 .2 1.2.2-1.8.2 2.2.2-2.7.2 2.1.2-1.6.2 2.3.2-.7.2 1.5.2-1.3.2 2.3.2.3.2-.3.2.2.2 0 .2 1.4.2 1.5.2-.4.2.6.2 1.5.2-2 .2.7.2.5.2-.6.2-.5.2-.8.2 1.9.2-2.9.2-.9.2.7.2.8.2-.9.2-2.2.2.5.2-.9.2-1 .2.3.2-.4.2-1 .2 1.7.2-2.7.2 2 .2.9.2 0 .2-2.2.2-.5.2-1.6.2 1.9.2 3.1.2-4.7.2.1.2 2.9.2-.1.2-2.8.2 2.1.2.6.2-2.1.2 2.9.2-2.6.2 2.8.2-1 .2-1.1.2-1.1.2 1.4.2.1.2-.1.2-.6.2.3.2 1 .2-2.1.2.6.2.6.2-.6.2.8.2.6.2-2.2.2.5.2-3.6.2 2.8.2 1 .2-2 .2 2.7.2-3.5.2 3.6.2-1.9.2-.3.2.9.2.7.2-.4.2 0 .2 1.4.2 2.1.2-.1.2 1.5.2-1.6.2.7.2.5.2.9.2.7.2 1.6.2-.9.2-.5.2 1.3.2-2.4.2-.6.2 2 .2-.6.2-.2.2.7.2-1.6.2.1.2.3.2 0 .2.1.2-1.2.2 0 .2-3.2.2 3.7.2-3.3.2 1.4.2 2.6.2-3.3.2-1.6.2 3.3.2-2.5.2.3.2-.2.2.9.2 0 .2-1.1.2 1.2.2-2.2.2 1.6.2-1.5.2 1.3.2-1.6.2.2.2 1.9.2-2.8.2-.2.2 1.8.2-1 .2-.2.2.2.2 2.4.2-3.5.2.8.2.4.2-1.2.2.9.2.5.2-1.6.2 2.1.2-2.4.2 1 .2.5.2 3 .2-5.2.2 2.1.2 2.4.2-3.3.2 1.8.2-1 .2-1.7.2 2 .2-1.4.2 1.1.2-1.7.2 2.4.2-3.3.2 2.4.2 1.6.2-.8.2-.8.2.1.2-.1.2 3.3.2-2.8.2.1.2-.7.2.3.2 1.2.2-1.2.2-.2.2.4.2.2.2.6.2-.6.2.4.2-.5.2 2.1.2-1.1.2-.4.2.7.2-.3.2-1.5.2 1.5.2 2 .2-1.1.2.7.2-1.8.2-.8.2.9.2 2.2.2-2.4.2.2.2 2.1.2-1.4.2.1.2.7.2-.2.2-.4.2.7.2-1 .2.8.2.8.2-1.7.2 1 .2-.9.2 2 .2 0 .2.4.2.1.2.1.2-.2.2-1.5.2 1.9.2-1.9.2 3.5.2-2.1.2.4.2-1.8.2 2.5.2.2.2-2.8.2 1.1.2.2.2-.1.2 2.1.2.9.2-3.2.2 2.2.2-1.3.2 1.8.2-3.9.2 2.1.2 1.8.2-2 .2 2 .2-1.7.2 1.8.2-.6.2-1 .2-.3.2.6.2 1.4.2-1.1.2-.7.2 4.1.2-5 .2 1.4.2.8.2-1.7.2 1.1.2-.5.2-1.1.2 2 .2-1.7.2.3.2 2 .2-2.4.2 1.7.2.5.2-.2.2-.6.2-.8.2-1.3.2 1.5.2.3.2-1.1.2-.5.2 1.8.2-2.1.2 1.5.2-1 .2-1.3.2 3.3.2-1.1.2-.2.2-2 .2 1.2.2.4.2-1.1.2 2.3.2-3.8.2 2.8.2-2.7.2.3.2.2.2 1.9.2-1.4.2 0 .2-.2.2-.6.2.6.2-.1.2.6.2 0 .2-2.1.2 1.8.2 1.9.2-1.7.2.4.2-.6.2 0 .2.7.2-1.3.2 1.2.2-1.5.2 2.1.2-1.9.2 2.2.2.4.2-2.6.2 2.3.2-1 .2 1.6.2-1.7.2.3.2 0 .2 1.6.2-3.2.2 2.8.2-.7.2-.5.2.2.2 1.3.2-.1.2.9.2-2.3.2-1.3.2 1.4.2.4.2-.2.2 1.7.2 1.1.2-1.9.2-2.1.2 2.8.2-1.7.2.8.2.8.2-.5.2-.4.2.4.2.5.2-.1.2 1.4.2-5 .2 2.2.2.2.2 1.5.2-.6.2.6.2-2.2.2 1.2.2.9.2-.7.2-.3.2.7.2 1.4.2-3.8.2 3.7.2-1.3.2-1.1.2 1.6.2-.6.2 1.2.2-2 .2 1.8.2-1.9.2 1.3.2.4.2-.8.2.8.2-1.2.2 1.6.2-1.5.2-.1.2.6.2.1.2-.8.2 1.7.2-.9.2.8.2-2 .2.2.2 1.1.2-.6.2 1 .2.8.2.7.2.5.2-.6.2-1.3.2 1.5.2-.9.2 1.2.2-1.4.2 2.6.2-.7.2-.5.2-.9.2 1.9.2-.6.2.9.2-.7.2.4.2 1.3.2 1 .2-2.5.2 1.2.2.8.2-.4.2-.1.2 2.7.2-2.9.2 1.3.2-.7.2.5.2-2.1.2 3.1.2-1 .2-.7.2 2.5.2-2.1.2-.7.2-.6.2 1.3.2-1.6.2-1 .2-1.8.2-.4.2.4.2-1.2.2-2.8.2.3.2.2.2 1.6.2-4.2.2-2.1.2 2.2.2-1.8.2-1.3.2 1.5.2-1.1.2-1.1.2-.6.2.8.2-.1.2-2.1.2 2.3.2-2.4.2 2.3.2-1.3.2-.7.2.3.2-1 .2.4.2 1.5.2-2.1.2 1.3.2-1.6.2 1 .2 1.2.2-1.9.2 1.8.2-2 .2 1.3.2 1.1.2 1.7.2.2.2-1.1.2 1.1.2.8.2-1.3.2 2.2.2 1.2.2.2.2-1.5.2.5.2-.2.2.7.2.5.2 1.1.2-.3.2-.7.2 1.9.2.3.2-1.2.2.6.2.4.2-1.3.2 1.9.2.8.2 1.4.2-1.5.2-.3.2.3.2.9.2.3.2-1.4.2 1.2.2.6.2-2.4.2 3.4.2-1.4.2 1.2.2-.7.2-.1.2.3.2.5.2.7.2-.9.2-.7.2.5.2-.2.2 1.8.2-1.5.2 2.4.2-1.2.2-.2.2 1.4.2-1.5.2.2.2 1.1.2 0 .2-1.6.2 3.4.2-1.7.2-1.7.2 1.1.2 1.1.2-.6.2.6.2 1.5.2-1.3.2 1.1.2-1.2.2-1.2.2 2.1.2-2 .2 1.6.2-.2.2-1.4.2.2.2.5.2.6.2.9.2-1.1.2 1.7.2-.9.2-1.4.2.1.2.6.2-.5.2.4.2.9.2-.5.2.7.2-1.5.2-.2.2-.5.2-.3.2 1.3.2.5.2-.3.2.2.2 2 .2-3 .2.8.2-.2.2-.3.2 2.1.2-1.3.2 1.2.2-2.2.2 2.8.2.4.2-2.9.2.8.2-.1.2.7.2-1.7.2 1.6.2.3.2-1.3.2-1.5.2 1.5.2.3.2 1 .2-1.2.2-.5.2 1.6.2-.2.2.3.2-.6.2.9.2-.5.2-2.1.2 1.9.2.5.2-.7.2 1.3.2-1.7.2 1 .2-1.7.2 1.1.2-.5.2-.4.2-.3.2 1.4.2.2.2-1 .2-.6.2.4.2 1.5.2-1.8.2 2.1.2-2.5.2 1.7.2.4.2.5.2-1.5.2-.3.2-.6.2 2.1.2-.9.2-.3.2 0 .2.6.2-.2.2 1.1.2-3.1.2 2.8.2-1.3.2.4.2-.2.2.2.2.8.2-.5.2-1.5.2 1.2.2 0 .2.4.2-.3.2-.1"/>
<text transform="translate(686.60 233.60) scale(1 1.07)" class="lb">+<tspan dx="0.5">29<tspan class="as" dx="0.4" dy="-1.2">*</tspan></tspan></text>
<path class="sp" d="M439 253.5l.4-19.7.4 30.1.4-25.1.3-4.2.4 16.3.4 2.5.4 1.5.3 1.7.4-8.5.3-3.6.4 2.6.3-3.2.4-4.4.3 17.7.4 1.7.3-14.7.4-1.8.3-2 .3-9.3.4 8.1.3 1.3.3 3.9.3-7.3.3-6.5.3 19.3.4 8 .3-28 .3 14.7.3 7.4.3-14.2.3-1.7.2 10.5.3-1.7.3-2.7.3 15.5.3-1.1.3-5.8.2-4.9.3-2 .3 7.6.3-7.6.2 10.7.3-2 .3-12 .2 8.2.3 4.7.2-5.9.3-10 .2 4 .3-.5.2 2.8.3-.5.2-2.1.3 7.2.2 3 .3-10.8.2-4.9.2 10.8.3-1.8.2 2.7.2-5.8.3 5.7.2-6.2.2 11.1.3 3.5.2-13.7.2-8.4.2 11.4.2.1.3 4 .2-.7.2 2.6.2 11.3.2-16.4.2 1 .2 4 .2-11.1.2 12.8.2-7 .2-4 .2 2.6.2 6.1.2 1.3.2 1.6.2-4.2.2-5.6.2 5.4.2-3.2.2 10.4.2-19.9.2 15.8.2-4.1.2-1.9.2-2.5.2-2.2.2-1.9.2-2.7.2 14.8.2-4.8.2-1.4.2-1.4.2-9.4.2 6.4.2 1.3.2 3.8.2-8.5.2 4.7.2-2.2.2.8.2-3.2.2 4 .2-1.2.2-7.2.2 10.9.2 3.2.2-10.9.2 6.8.2-7.4.2 1.4.2 7.5.2-5.3.2 4.1.2-4.1.2 2.3.2-3.9.2 5.1.2 1 .2-3.6.2-4 .2.6.2-1.8.2 4.9.2-.2.2-3.9.2 5.2.2-4.6.2 7.6.2-3 .2 2.5.2-7.2.2-.7.2-2.5.2 7.8.2-5.3.2 7.8.2-3.6.2 2 .2-6.2.2 2.3.2 2.6.2 1.8.2-6 .2 5.1.2-3.3.2 5.2.2-2.9.2.1.2 2.5.2 2.5.2-3.9.2 4.7.2-6.3.2 4.1.2-3.8.2 4.3.2-3.1.2 3.1.2 2 .2-4.4.2-2.2.2 4.9.2 2.2.2-.7.2-3.2.2 5.1.2-3.2.2 3 .2-4.9.2 3.7.2 2 .2-5.5.2.8.2 2.4.2-.6.2-.7.2-1.7.2-4.4.2 4.2.2-4 .2 3.7.2-7.1.2 10.5.2 1.1.2-4.3.2-3.7.2 1.5.2 3.2.2-.7.2-3.8.2 5.3.2-1.4.2-.6.2-2.5.2 1 .2-2 .2 2.4.2-2.3.2 5 .2-3.1.2.4.2.3.2-.1.2-4.7.2 7.3.2-3.2.2-1.8.2-1.1.2.7.2.2.2 1.6.2-2.4.2 2.6.2 0 .2-2.2.2 7.5.2-6.1.2 1.1.2-.7.2-.8.2 2 .2 1.7.2-3.9.2-2.1.2 3.4.2-7.1.2 5.8.2-1.1.2 1.2.2-4.9.2 2.5.2-1.7.2 1.1.2 2.6.2-2.2.2-1.2.2 4.2.2-3.1.2-5.3.2 2.2.2 3.5.2-.2.2-.7.2-.1.2-3.1.2 1.8.2-2.8.2.6.2-.4.2-.1.2 1 .2 0 .2-1.6.2 4.3.2-4 .2 4.6.2-1.6.2-5.4.2 4.7.2-5.6.2 6.6.2-2.8.2-3.2.2-2.9.2 4.1.2-2.2.2 5.8.2-5.4.2 2.6.2 1.8.2-.8.2.9.2-.8.2 2.6.2-3.3.2 3.8.2-3.6.2 3.6.2-2.5.2 2.5.2 2.2.2 1.9.2-6.4.2 2.7.2-.2.2 5.1.2-4.3.2 3.7.2-2.4.2-1.8.2 3.7.2-2.5.2 4.3.2.5.2 1.2.2-4.9.2 5.7.2-1.2.2-5.9.2 8.6.2-1.3.2-6.1.2 2.6.2-4 .2 2 .2 0 .2.3.2-3.7.2.9.2-2.6.2 1.9.2-.1.2-2 .2 1.5.2-1.4.2-1.4.2 1.1.2-5.4.2 2.2.2-3.8.2 3.4.2-.9.2 2.7.2-2.3.2-.2.2 1.4.2.2.2 1.6.2-2.4.2-.8.2.2.2 5.7.2-4.3.2 1.8.2-.9.2 4.1.2-2.7.2 3.6.2-3.7.2 1.9.2.9.2.3.2-4.2.2 1.5.2.4.2-3.4.2 4.7.2-.8.2.1.2-3.7.2 2.8.2.3.2 1 .2-3 .2 2.1.2 2.2.2-4.5.2 0 .2.1.2-2.2.2 2 .2 3.6.2-4.4.2 1.6.2 2.8.2-.7.2-.1.2-.4.2 1 .2.9.2 1.8.2-.4.2 2.2.2-4.3.2 5.3.2-1.8.2 1.4.2-.3.2 2.2.2-1.1.2 1.4.2-2.5.2 1.7.2 1.7.2-.4.2-2.7.2.6.2-1.1.2.2.2-.1.2 1.8.2-1.4.2 1.2.2-.2.2-5.2.2 2.4.2-1.6.2-2.3.2.6.2.7.2 3.5.2-2.9.2-.7.2.1.2-1.3.2 1.5.2-.5.2-2.7.2 1.9.2 6.5.2-4.7.2-1.2.2 1.2.2-2.8.2 1.8.2 1.2.2-4.2.2 1.5.2.5.2.2.2-.5.2 1.3.2 1.2.2-1.1.2 1.1.2 0 .2-2.8.2 1.4.2-1 .2 1.6.2-1.7.2.3.2 3.1.2-3.1.2-2.3.2 2.7.2.3.2-1.3.2.9.2 1.5.2-2.5.2.6.2-.9.2 1.7.2-.8.2-1.3.2 1.3.2 3.2.2-5.7.2.5.2 2.8.2-2.8.2 5.4.2-5.6.2.3.2 1.3.2 2.6.2-.5.2-.3.2-.5.2 1.6.2-4.9.2 3.3.2 1.9.2-4 .2 2.2.2 1.5.2 0 .2-2.1.2 3.1.2-2.1.2.9.2-3.3.2.5.2 0 .2 4 .2-6.4.2.8.2 4.1.2-1 .2-4.8.2 4 .2.2.2 2.3.2-4.7.2 2.1.2 2.5.2-.4.2-2.6.2 1 .2-1.8.2 4.4.2-2.7.2 2.6.2-.7.2-2.5.2 1.1.2 1.3.2-.3.2 1.6.2-.6.2-1.1.2.6.2-2.1.2.2.2 1.8.2-.3.2-2.2.2 1.6.2-1 .2.4.2 2.9.2-3.3.2.5.2 1.9.2-.6.2.2.2-2.3.2 2.2.2-.4.2-.6.2.5.2.5.2 1.7.2 1.7.2-2.5.2 2.1.2-2 .2-2.2.2 2.3.2 1.9.2.2.2-3.2.2 4.5.2-4.2.2 0 .2.4.2 2.8.2-1.5.2.8.2-4.5.2 3 .2-.1.2 1.1.2-1.7.2 2.3.2-2.8.2-1.1.2-.5.2 4 .2-.8.2-2.4.2 2.6.2-2 .2-.1.2-2 .2 1.1.2.8.2 0 .2-1.2.2 2 .2.5.2-3.3.2 1.6.2-2.8.2 2.6.2-2.1.2 1.1.2.4.2-.7.2 1.8.2-2.6.2.4.2 1.1.2-.5.2.4.2-.6.2-.8.2 2 .2-.8.2 1.2.2.6.2-2.3.2-.5.2.4.2-.2.2-1.8.2 5.1.2-1.7.2 2.7.2-4 .2 1.7.2-.4.2-.4.2 1.5.2-1.3.2-.1.2.4.2-3.3.2 2.2.2 0 .2 3.4.2-1.5.2.4.2-.2.2-1.1.2 2.6.2-2.5.2-1.6.2 2.9.2.8.2-1.4.2.4.2.9.2.8.2-1.3.2 1.6.2-1.9.2 2.6.2-4.8.2 3.3.2-.9.2-.2.2-1.9.2 3.3.2-1.7.2-1 .2.5.2.6.2.5.2-1.4.2 0 .2 1.9.2-.7.2 2.9.2-3.3.2 1.6.2 1.4.2-2.6.2 1.6.2-.9.2-.3.2 2.1.2-3.5.2.5.2-1.6.2 2.3.2 1.6.2-1.7.2 1.5.2-2.2.2 2.7.2-1.8.2-.4.2 2.9.2-2.3.2.9.2-.6.2.8.2-.8.2-1.8.2 2.1.2.3.2-.1.2-.8.2 2.8.2-3.5.2 1.2.2.2.2-1.8.2-.1.2 2.6.2.1.2-.7.2-2.4.2 1.9.2.9.2.6.2.9.2-.8.2.8.2 1.2.2-5.4.2 4.8.2-1.7.2 1.4.2-.1.2-1.5.2.4.2 2.1.2-.6.2 1.5.2-1.3.2 3.8.2-3.1.2 3.5.2-3.7.2 2 .2 1 .2-3.1.2.7.2 2.1.2 1.2.2.5.2-1 .2.8.2-2.9.2 1.1.2 2.7.2-2.7.2.5.2-2 .2 2.1.2-2 .2 2.4.2 1.1.2-2.1.2-.8.2-1.5.2.5.2-3.1.2 0 .2 2.6.2-5.7.2 0 .2-2.1.2 2.7.2-3 .2-2.3.2-.7.2 2.5.2-1.2.2-.4.2-1.6.2 1 .2.2.2-1.2.2-3.5.2-.8.2.3.2 2.1.2-2.7.2.3.2 1.3.2-1.5.2-.7.2 2.9.2-.8.2.4.2.1.2.7.2-1.9.2 0 .2-1.9.2 2.3.2-.1.2 2.7.2-.1.2 1.5.2 0 .2.5.2-.4.2-.1.2-.3.2.8.2-.9.2 2.1.2-.5.2-2.5.2-.7.2 2.9.2.5.2.4.2 2.3.2-2.5.2-.8.2 2.4.2 1 .2 1.1.2-3.6.2 1.2.2-.1.2 2.8.2-1 .2-.7.2 1.1.2-1.3.2.4.2.5.2-.5.2.6.2 1.1.2.1.2 1.9.2-.6.2-1 .2-2.7.2 1.3.2 1.5.2.5.2-1.1.2 1.5.2.9.2-.8.2.8.2.3.2-.7.2-.1.2 1.2.2.6.2-1.7.2-1.3.2 1.5.2 2.1.2-2.9.2 3.5.2-2 .2 1 .2-1.2.2 1.9.2-.7.2.4.2-3.1.2 3.7.2-3.3.2 1.9.2 1.2.2-1 .2 1 .2-.4.2-.1.2-1.3.2 2.6.2.1.2-2.2.2-.5.2 1.5.2-1.3.2 1.3.2.9.2-.2.2 1.2.2-1.4.2-2 .2.2.2 2 .2 1.8.2-3 .2-.8.2 3.2.2-2 .2 1.1.2.6.2-2.8.2.8.2-.2.2 1.5.2.2.2-1.5.2 1.4.2-3.1.2 2.9.2 0 .2-.4.2-2 .2 1.9.2-1.3.2 3.4.2-2.3.2.1.2.2.2.9.2-.6.2.6.2-1.9.2 2.8.2-2.2.2 1.7.2-.7.2 1.2.2-1.5.2-1.9.2.4.2 1.3.2 2.2.2-2.5.2.7.2 1.6.2-2.4.2 1.2.2-.1.2-1.2.2 1.2.2 1.1.2 0 .2-1.9.2 4.4.2-3.5.2-.8.2-.6.2-.4.2 2.5.2-5.1.2 3.7.2-1.6.2 1.6.2.2.2-1.7.2.4.2 3.1.2-2.5.2.7.2-.4.2 1.6.2.5.2-.4.2-.5.2 0 .2-2.4.2 3.4.2-2.5.2-.5.2.7.2-.5.2 1.6.2.4.2.8.2-1.9.2-.7.2.5.2-1.2.2.5.2 3.7.2-3.7.2.4"/>
<text transform="translate(686.60 254.00) scale(1 1.07)" class="lb">+<tspan dx="0.5">37<tspan class="as" dx="0.4" dy="-1.2">*</tspan></tspan></text>
<path class="sp" d="M439 283.8l.4-2.7.3 4.5.4-12.5.3-1 .4 19 .3-14.9.4 4.9.3 2.9.3-14.9.4 12.9.3-2.6.3 9.3.3-5.2.3-12.9.4 22.4.3-22.7.3 15.7.3-1.4.3 1 .3 4.2.3 6.4.3-12.3.3 1.4.3 8.4.3-2 .3.7.2-3 .3-4.1.3-2 .3-.3.2 8.1.3 3.4.3 2.7.2-18.1.3 4.6.3 1.4.2-1.1.3-5.6.2 18.7.3-3.9.2-9.4.3-1.7.2 2.4.3-6.5.2 4.7.2 5.9.3 4.7.2-4.2.3 2.2.2-12.5.2-11.4.3 24.2.2-6.1.2-1.3.2 9.2.3-13.4.2.2.2 1.3.2 12.1.3-3.3.2-13.5.2 17.3.2-8 .2 2.2.3-5.8.2 13.1.2-7 .2 4.3.2-11.1.2 8.2.2-3 .3-1.5.2-2.9.2.5.2-2.3.2 2.3.2 2.8.2 2.7.2-10.1.2 2.3.2 1.7.2-4.8.2 6 .2-.1.2.1.2 2.5.2 2.2.2-.9.2-2.5.2 1.2.2-6.2.2-.8.2 6.8.2-.6.2 6.8.2-10.4.2-3.4.2 5.2.2-3.2.2-2 .2 9.2.2 2.1.2-6.5.2-4.4.2 3.6.2-1.4.2-5.5.2 8.7.2-2.1.2 3.4.2-7.2.2 1.9.2-.5.2-6.3.2 16.1.2-17.7.2 3.4.2 2.9.2-4.7.2 7.3.2-3.5.2 1.8.2.5.2-.8.2-.1.2-1.1.2 1.9.2 1.2.2-3.9.2-.9.2.1.2 2.3.2-2.5.2-.2.2-4 .2 11.5.2-10.8.2 9.7.2-3.1.2.6.2-2.6.2.7.2-.7.2.9.2.7.2 2.1.2-8 .2 4.7.2 3.5.2-.6.2-7.2.2 4.3.2.2.2.3.2-7.1.2 9.7.2-6.9.2 11.6.2-4 .2-1.8.2 2.6.2-1 .2-1.5.2 1.6.2 1.6.2-2.9.2 4.4.2 1.3.2 0 .2.3.2.2.2-1.6.2 1.6.2-3.3.2.8.2 2.5.2 1.2.2-5.8.2-2.7.2 8.7.2-2.5.2 1.6.2-2.3.2-1.7.2-2.2.2-.8.2 5.7.2-1.2.2-1.6.2-3.5.2 1.4.2-.2.2.7.2-6.1.2 7.4.2 3.1.2-4.9.2 1.3.2.6.2-3 .2 3.4.2-2.9.2.8.2 1.6.2-.7.2.4.2-2.4.2 3.8.2-4.1.2 4.4.2-3.1.2-1.6.2 2.5.2-2.2.2 1.2.2.9.2 2.1.2.1.2-.7.2-1.7.2-2.8.2 3 .2-.2.2.5.2-.9.2.1.2 2.9.2-4.6.2 3 .2 2.8.2-4.4.2-.4.2 1.7.2-.2.2 1.3.2 2.4.2-3.1.2 1.5.2-2.4.2.2.2 1.7.2-2 .2 4 .2-3.4.2.6.2-1.9.2 1.3.2-1.2.2 1.1.2-2.9.2 3.4.2 3.3.2-8.1.2 6.9.2-4.5.2 1.4.2-4.6.2 5.4.2-7.1.2 1.3.2 2.7.2-6.4.2-2.7.2 4.1.2-1.7.2-.7.2-.2.2-1.4.2 5.5.2-.7.2-5.4.2 2.2.2-.9.2 2.9.2-4.1.2 4.7.2-3.4.2-1.7.2 1.3.2-1 .2 5.4.2-4.1.2-1.2.2 1.2.2 2.7.2-4.6.2-1.2.2 5.9.2-1.2.2-1.9.2 1 .2 2.4.2-7 .2 7.8.2-2.4.2 1.8.2-1.1.2 6.2.2-6.7.2 3.5.2-6.6.2 5.2.2 1.7.2-3.9.2-.4.2 4.4.2 2.2.2.8.2-2.8.2 2.5.2-2.6.2 6.3.2-3.6.2 3.9.2-2.3.2.4.2 3.8.2-4.1.2 4.1.2-2.8.2-.8.2 0 .2 3.2.2-2.3.2-.9.2-2.4.2 4.1.2-.8.2-1.9.2.1.2-7.6.2 3.9.2.4.2-.8.2-1.9.2.6.2-2.3.2-.6.2-1.6.2 1.6.2-1.9.2-.1.2 2.7.2-2.8.2-.3.2-2.9.2 1.3.2 2.1.2-1.1.2-1.1.2-.6.2.1.2.4.2-1.3.2-3.4.2 7 .2-1.1.2-1.7.2 2.7.2-3.8.2 4.5.2-1.2.2 1.6.2-1.4.2 1.2.2 1.1.2 1.2.2-.5.2.2.2-1.3.2 3.5.2-2.2.2-.9.2-.6.2-1.8.2 0 .2-1.9.2 1.8.2-1.1.2-.2.2-2.6.2.9.2-.4.2 2.4.2-3.3.2.3.2 4.4.2-.7.2-2.2.2 4.9.2 1 .2.3.2-3.8.2 4 .2-.6.2 1.7.2-1.1.2 5.5.2-2.8.2 2 .2 1.3.2.2.2 0 .2-.9.2.9.2-.6.2-3 .2 4.6.2-2.5.2 0 .2 0 .2-1.7.2.1.2-1.1.2 2.9.2.8.2-1.9.2-2.1.2 3.2.2-2.7.2-2.1.2-.7.2 2.6.2 1.5.2-3 .2-.6.2.2.2-1.1.2.2.2.9.2-1.6.2 2.2.2-2.9.2 2.3.2-.7.2-1.2.2 0 .2-.1.2 2.7.2-3.7.2 2.7.2-.3.2-2.1.2 2.7.2-5.8.2 3.6.2-.2.2-.3.2 1.1.2-1.9.2.2.2 1.8.2-1.9.2-1.3.2 2.1.2-1 .2-.7.2 1.5.2-2 .2-.4.2 1 .2 0 .2.3.2-1.9.2 4.1.2-1.5.2-.8.2 0 .2-3.9.2 4.8.2-2.9.2 2.1.2-2.4.2 3 .2-2.2.2.4.2 2.4.2-.9.2-3.4.2 1 .2 1.2.2-.7.2 1.4.2-2.1.2-1.7.2 1.3.2 1 .2 1.1.2.2.2.8.2-1.4.2-.5.2 1.5.2-1 .2-.3.2.3.2 2.2.2 1 .2.1.2-3.8.2 4.1.2-2.9.2 1.4.2 1.6.2-2.5.2.4.2.9.2 3.6.2-.7.2-2.7.2 1.5.2 0 .2.2.2-1.5.2 2.9.2-2.7.2 1.5.2-3.7.2 2.7.2-.5.2 1.5.2-5.8.2 4.2.2.1.2-1.7.2 2 .2.9.2-1.9.2-.2.2.6.2-1.4.2 1 .2-.9.2-1.8.2-.4.2 3.1.2-.7.2-1.7.2 1 .2 2.2.2-4.3.2 1.2.2 2.4.2.3.2-2.6.2.5.2 1.8.2 1.9.2-1.8.2-3 .2 4.8.2-1.2.2-.4.2-.8.2 3.5.2-1.1.2.4.2.1.2.4.2.9.2 1.5.2-3.5.2 1.7.2-.2.2 3.3.2-2.3.2-1.5.2 2.6.2-.6.2.3.2.8.2-.8.2-.5.2 5.7.2-2.6.2-.8.2 2.4.2 1.2.2-4 .2 1.9.2 1.2.2-1.5.2 1.9.2-2.3.2.7.2.4.2.3.2-1.1.2-1.8.2-.3.2-3.4.2 4.9.2-4.5.2-.8.2-.2.2-.6.2-1.2.2-2.2.2-2.1.2 1.5.2-1.3.2 0 .2.7.2.3.2 1.5.2-2 .2-2.1.2 3.2.2.6.2-3.5.2 3.2.2-.5.2-1 .2 1.1.2.4.2.4.2.9.2-1.5.2.1.2 3.4.2-4.6.2 1.2.2 0 .2 1.6.2.6.2-3.2.2 3.6.2-3.2.2 5.3.2-4.4.2 2.5.2-1.7.2 1.4.2-1.9.2 1.2.2 0 .2.1.2 1.1.2-1.6.2.2.2-1.3.2 1.7.2-.4.2 1.9.2-.2.2-1.8.2 1.7.2 1.2.2-2 .2-1.2.2 5 .2-2.5.2.2.2 2.5.2-4.4.2 1.6.2-2.9.2 3.3.2-.1.2-1.6.2 0 .2 1 .2 0 .2 2.5.2-2.5.2.2.2 0 .2-1.9.2 1.6.2-1.1.2 2 .2-3.1.2 1.5.2 1.9.2-3.2.2.8.2 3.4.2-3.1.2 1.8.2.5.2-1.8.2-.9.2 4.4.2-2.8.2 1.5.2-1.7.2 1.5.2-2.2.2-.1.2.5.2.6.2 0 .2.5.2 1 .2-1.2.2 2 .2-2.1.2 1.8.2.9.2.7.2-5 .2 5.1.2-4.5.2 4.4.2-1.7.2.8.2-1.4.2 2.8.2 0 .2-1.2.2.3.2 2.4.2.7.2.1.2-1.1.2.9.2 1.7.2.3.2.8.2-.9.2-.7.2 1.7.2.5.2-.9.2 1.6.2-1.3.2 1.8.2-.8.2 4 .2-.8.2-1 .2-1.8.2.3.2 2.7.2-1.1.2.5.2-2.8.2-.3.2 1.6.2-1.2.2-2.3.2-.2.2 1.1.2-2.7.2.2.2.2.2-2.9.2-1.5.2-2.2.2 1.2.2-4.7.2-.6.2.3.2-2.8.2 2.3.2-3.1.2.5.2-2.2.2-1 .2-.8.2-3.7.2.1.2-.3.2 2.6.2-2.8.2-1 .2-3.1.2 1.9.2 0 .2-1 .2 2.3.2-5.3.2.4.2 1.1.2-.8.2 1.5.2.7.2-.5.2.3.2.6.2.7.2-1.7.2.2.2 2.8.2-1.6.2-.1.2 2 .2-.2.2 1.3.2.4.2 1.7.2 1.1.2-1.6.2.2.2 4.4.2-2.3.2-.6.2.1.2 3 .2-.4.2-1.1.2 1.5.2.3.2 3.1.2-.6.2.1.2-1.3.2 1.8.2 1.5.2-.3.2 1.5.2-1 .2 1.2.2 0 .2-1.1.2 2.8.2-1 .2.8.2-2.2.2.2.2 1.4.2-.7.2 2.1.2-.1.2 1.2.2-.7.2-2 .2 2.8.2-1.9.2.1.2 1.1.2.1.2 1.5.2 2.5.2-3 .2 1.5.2-2.1.2.9.2-1 .2.2.2 2.4.2-1 .2.1.2-1.5.2 3.4.2-2.4.2-.5.2.9.2 1 .2.2.2 1 .2-3.2.2.9.2 2.6.2 1 .2-3.7.2.8.2-1.8.2.9.2 0 .2 1.1.2-1.4.2 2.8.2-1.2.2-.2.2 1.6.2-1.5.2-1.2.2 1.7.2 2.8.2-2.7.2.6.2-.8.2 0 .2.9.2-4 .2 1.9.2.9.2.4.2 2.3.2 1.3.2-2.3.2-.3.2.4.2 1.1.2-3.2.2.7.2.9.2.2.2-2.8.2 3 .2-2.6.2 3.1.2.1.2-4 .2 3.6.2-.4.2-1 .2 2 .2 1.3.2-1.9.2-2 .2-.5.2.4.2.2.2 2.7.2-1.1.2-.4.2 1.2.2-1.1.2 0 .2-1.1.2.3.2.8.2-1.5.2 3.6.2-2 .2-.8.2 1.9.2-2.6.2 2.7.2-1.2.2 2.3.2-3.1.2.2.2-.6.2-.5.2 1.9.2-1.7.2 1.8.2-1.2.2 2.1.2-4.6.2 3.8.2-.5.2 0 .2-.8.2 3 .2-2.7.2 1 .2-.9.2-.1.2.6.2.7.2-2.2.2.8.2-1.2.2 2.3.2-1.6.2.1.2 1.8"/>
<text transform="translate(686.60 290.20) scale(1 1.07)" class="lb">+<tspan dx="0.5">57<tspan class="as" dx="0.4" dy="-1.2">*</tspan></tspan></text>
<path class="sp" d="M423.6 326.5l.2-.5.2-1.2.2-.4.2-.9.2-1.2.2.6.2-.4.2.1.2.3.2-.6.2-.4.2 1.5.2.4.2-1.5.2 1 .2-.5.2-.7.2-.2.2.4.2-.1.2 0 .2.1.2-.6.2 1.3.2-1.3.2 0 .2 1.3.2-.1.2.4.2-.8.2-.5.2 1.1.2-.8.2 0 .2-.5.2.9.2-1.8.2 1.8.2-1.6.2 1.9.2-1.6.2 1.4.2 1.2.2-1.8.2-.6.2 2.1.2-1.6.2-.4.2 1.5.2-2.6.2.9.2.1.2.4.2-.9.2 1.9.2.1.2-.7.2-.2.2-.8.2 1.4.2-.8.2.9.2.2.2-.6.2-1.4.2.8.2 1.5.2-.8.2.8.2-2.4.2 1.4.2 0 .2-1 .2.7.2 1 .2-.3.2-.7.2.6.2.6.2-1.5.2.9.2.5.2-1.2.2 1.3.2-.9.2.8.2-.1.2-.4.2-.4.2-.2.2.5.2 0 .2.8.2-1 .2.3.2.9.2-.9.2.1.2.7.2-.9.2.2.2.2.2-.6.2-.6.2-.3.2.9.2.8.2-.1.2.5.2-.5.2-1 .2-.6.2.7.2.1.2-.3.2 1.1.2-1.1.2.9.2.1.2-1.7.2.9.2 1.1.2-.3.2-.4.2-.8.2.2.2.5.2.8.2-.5.2-.4.2.2.2.4.2-1.7.2.5.2.7.2.7.2-.1.2-1.2.2.5.2-.6.2.2.2.4.2-.4.2-.2.2-.4.2-.3.2.9.2.2.2.2.2-.9.2 0 .2 1.3.2-.6.2.3.2-1 .2-.1.2-.3.2 1.4.2-1.4.2-.4.2.6.2 1.3.2-.8.2.1.2-.1.2-.1.2-.1.2-.9.2 2 .2-1.2.2.9.2-1.9.2 1.4.2-1.2.2-.1.2 1 .2.5.2.2.2-.1.2-1.1.2.7.2-1 .2 0 .2.4.2-.3.2.6.2-1.9.2 1.9.2-1.3.2 1.3.2-.4.2-1.6.2.6.2.3.2-1.1.2-.1.2.1.2.5.2-.1.2-1.1.2.6.2.1.2-.6.2-1.4.2-.3.2.5.2 0 .2-.5.2-.7.2-.6.2 1.3.2-1.1.2 1.2.2-2 .2.5.2-.2.2 1.7.2-.4.2-1.1.2-.8.2 2.1.2-.6.2-.7.2-.2.2 1.4.2-.3.2.3.2.2.2-.5.2.1.2.6.2-.7.2-.4.2.2.2-2.1.2 1.6.2-1.1.2-1.3.2-.2.2.3.2-1 .2-2.1.2 0 .2.4.2.7.2-1 .2-.8.2.5.2-.4.2-.1.2.7.2-1.5.2 2.4.2 0 .2-.3.2.1.2.2.2 1.4.2.3.2.4.2 1.4.2-2.2.2 1.3.2.3.2 1.3.2-.5.2-.3.2 1 .2.4.2 1 .2-.7.2-.3.2.2.2 0 .2 1 .2.4.2-.5.2.2.2 1.2.2-.6.2.4.2-.8.2.5.2-.8.2.7.2 1.4.2.8.2-.8.2-.4.2 1.1.2.8.2-.7.2.9.2-.5.2-.7.2.3.2.4.2 1.7.2-1.2.2-.7.2.1.2-.3.2-.8.2-.2.2-.5.2.3.2.1.2-.6.2-1.5.2.3.2-1.2.2-.6.2.6.2.2.2-.6.2.5.2-.1.2-.1.2-.7.2-.9.2 2.1.2-1.6.2.7.2-.2.2-.6.2 1.4.2-.8.2-.5.2-.3.2-.4.2-.2.2 1.2.2-.7.2 0 .2.7.2-.5.2.7.2-.7.2.2.2 1.2.2-.9.2 1.1.2.1.2-.1.2-.9.2.5.2.3.2.1.2 1.6.2-1 .2-.1.2.6.2.3.2-1 .2 1.4.2-.3.2-1.5.2.2.2-2.4.2-.4.2-.8.2-.9.2-.4.2-2.1.2-1.4.2-.2.2-.8.2-.4.2-1 .2 0 .2-.9.2.5.2-1.2.2-.3.2.9.2-1.6.2.3.2.1.2-.9.2.6.2-1.3.2.9.2-1.9.2-.1.2.8.2.7.2 0 .2-1.8.2.4.2-.4.2-1.1.2 1.8.2-.7.2 1.1.2-.6.2-.2.2.5.2 1.1.2 1.2.2.3.2 3.1.2-.8.2-.1.2 1.6.2 1.4.2.2.2.3.2.7.2.7.2.6.2 1.3.2 1.3.2.1.2 2.1.2-.3.2-.1.2.6.2 1.2.2-2.2.2 1.2.2 1.3.2-1.5.2-1.8.2 0 .2-1 .2 1.3.2-3.2.2-.6.2-1 .2-1.7.2-2.2.2 1.1.2-.4.2-1.5.2-.2.2-.5.2-.7.2-2.2.2 1.7.2-.9.2-.5.2-1 .2-.5.2-.8.2.2.2-.1.2-1.4.2.6.2-1.1.2.4.2-.6.2.5.2.7.2-1 .2 0 .2.7.2 1.6.2.3.2 2.1.2.8.2 1.6.2.3.2.8.2 1.2.2 1.7.2-.1.2 1.4.2-1.7.2.8.2-.1.2-1.7.2 0 .2-1.6.2-.2.2-1.3.2-.6.2-2.4.2-1.8.2-.4.2-.7.2-1 .2-.8.2.1.2-1.5.2 0 .2-.4.2.5.2 1.7.2.2.2-1.2.2 3.6.2-1.1.2 2.2.2 2.2.2.7.2 1.5.2 1.5.2.9.2.2.2 2.2.2.4.2-.2.2 2.3.2 1.2.2.2.2.3.2 1.3.2-1 .2.3.2-.5.2.8.2-1.6.2.9.2.1.2-1.7.2.6.2-1.9.2.8.2-.1.2-1.4.2-1 .2.8.2-.6.2 0 .2-.3.2 0 .2.1.2-1.1.2-1.7.2 1.2.2-.5.2-.4.2.7.2-1.1.2-.6.2.4.2-1.6.2 1.6.2-.7.2.9.2-.8.2-.3.2-.2.2-1.1.2.7.2.1.2.4.2-.5.2.1.2-.1.2-.9.2.4.2-.4.2-.8.2-.3.2 1.5.2.3.2-.1.2-1.7.2 1.5.2-.1.2-1.8.2.8.2.6.2-1.2.2.5.2-1.4.2-.1.2.6.2-.9.2-.1.2-.3.2-1 .2 1.4.2-1.4.2-.4.2-.3.2.1.2-.9.2.9.2-1 .2.5.2-1.3.2-.3.2-.1.2.6.2-1.1.2 1.3.2-.8.2.8.2-.9.2.9.2-1 .2.3.2 1.7.2-.1.2 1.8.2-.4.2 1.6.2-.1.2.2.2 2.9.2-.4.2 1.4.2-.1.2-1 .2 1.7.2.5.2 0 .2.1.2-1.1.2-.7.2-.2.2-1.3.2.9.2-.5.2-.7.2-1.3.2.4.2-1.3.2.7.2-1.7.2-.5.2-.2.2-.9.2-.2.2.1.2-1.7.2 2.9.2-1.1.2-.1.2-.7.2.8.2-.1.2.2.2-.9.2 1.1.2-1 .2 1.3.2-.2.2.4.2.5.2 1.1.2.5.2-.5.2-.5.2 2.1.2-1.7.2.9.2.6.2-.1.2 1.8.2-.3.2.7.2-.6.2 1.1.2-.4.2.3.2.6.2.4.2.5.2-.1.2-.5.2 1.2.2-1.2.2 2.2.2.1.2 1.6.2-2 .2 3.8.2-1.2.2-.4.2 1.9.2.4.2.4.2 1.7.2-1.7.2 1.1.2.2.2-.3.2 1 .2.9.2-1.3.2 1 .2.5.2-.2.2-1.8.2.9.2-1.1.2.2.2-2 .2.2.2-3.6.2-.2.2-2.4.2.3.2-1.6.2-3.1.2-.2.2-1.8.2-2.2.2-.5.2.2.2-.2.2-.8.2.5.2 0 .2.1.2-1 .2 1 .2.3.2-1.3.2 2.2.2 0 .2-.8.2 1.5.2-1.9.2 0 .2.3.2.1.2 1.9.2-1.1.2.1.2.4.2 1 .2-.8.2-.3.2.6.2.9.2-.9.2 1.2.2-.6.2-.2.2.5.2 1.2.2-1.5.2 1.3.2-.5.2-.2.2 0 .2.6.2 0 .2-.1.2.2.2-.9.2.2.2-.2.2.5.2.2.2 0 .2.7.2-1 .2.6.2.9.2.6.2-1 .2.9.2.2.2-1.6.2 1 .2-.8.2.6.2.7.2-1 .2 1.5.2-.3.2.2.2.8.2-.7.2-.4.2 1.5.2-.2.2.6.2-.4.2.4.2.2.2 0 .2.6.2.2.2.7.2 2.4.2-2.6.2-.6.2 1.6.2-1.3.2.2.2.3.2.2.2-.2.2-.1.2-.4.2.6.2-.4.2-1.3.2 0 .2-1.1.2 1.1.2-.8.2 1.2.2-2 .2 1.3.2-1.9.2-.7.2.4.2.8.2.4.2-1.3.2 1.4.2-.8.2.3.2.5.2 1.8.2-.5.2.7.2-.6.2 1.8.2.8.2 1.7.2-.9.2.9.2.6.2 1 .2 1.8.2-.3.2 2.3.2-.2.2.1.2.8.2.1.2.6.2 2.3.2.2.2-1 .2.7.2 1.6.2-1.6.2.6.2.2.2-.6.2-.1.2-.2.2.1.2-1.4.2 1 .2-.2.2-1.3.2 1 .2-1.3.2-1.5.2.2.2 1 .2-.1.2-1.4.2-1.6.2-.2.2-.5.2-2.1.2-2.4.2-.2.2-2 .2-1.6.2-1.3.2-1.2.2-1.9.2-2.1.2-1.1.2-1.8.2-1.2.2-3.8.2-1.2.2-2.6.2-1.1.2-2.3.2-3.3.2 1.5.2-2.1.2-1 .2-.5.2.4.2-.1.2 1.1.2.5.2.2.2.7.2-.4.2 1.5.2 0 .2 1 .2.7.2-.1.2 1.7.2.3.2-.3.2 2.1.2.5.2-1.6.2.3.2 1.9.2 1.6.2 1.1.2.7.2.4.2 1.6.2.8.2.1.2 1.3.2 1.6.2-.4.2.9.2.7.2 2.5.2.2.2.8.2-.2.2.9.2 1.5.2-.6.2 1.6.2-.3.2.5.2.9.2.7.2 1.2.2-1.1.2 1.9.2-1.4.2.3.2-.8.2 2.5.2.6.2-1.8.2.7.2.1.2-.8.2 1.2.2.3.2-.6.2-.3.2.9.2.4.2-1.4.2 1 .2.6.2-2.4.2 2.3.2 1.1.2-2.1.2 1.9.2-1.1.2.7.2-.5.2-.7.2-.4.2 3.1.2-2.7.2.8.2 1.3.2-.8.2 0 .2-1.6.2 1.1.2-.5.2-.3.2 1.6.2.4.2-1.2.2.2.2.8.2.3.2-1.4.2 1.7.2-.1.2-.7.2-.8.2 1.3.2.1.2.8.2-1.7.2 1.6.2-1.4.2.7.2-.5.2.2.2 1 .2-1.6.2 1.2.2-.8.2.2.2-.5.2.7.2-1.7.2 1.3.2 1 .2-.1.2-1.9.2.4.2.6.2 1.7.2-1.7.2.3.2-.2.2.4.2-.9.2.9.2.2.2.4.2-1.5.2 1.4.2.8.2-.9.2-.1.2-2.4.2 2.9.2.4.2-.5.2-.6.2.3.2 1.6.2-2.8.2.2.2 1.1.2-.6.2-1.9.2 1.8.2.1.2-1 .2 1 .2-.1.2-1.6.2 1.8.2 1.2.2-.3.2-2.3.2-.1.2 1 .2.2.2-1.3.2.4.2 1.7.2-.9.2.6.2-.9.2.9.2-1.3.2 0 .2-.4.2-.8.2 1.2.2-.7.2.6.2.5.2 0 .2.2.2-.7.2.3.2.9.2-1 .2.1.2-2 .2 1.1.2 1.7.2-1.6.2-.2.2 1.7.2-1.8.2 1.8.2-.9.2-.5.2-1.1.2 2.7.2-2.5.2.4.2 1.6.2-1.6.2 1.4.2-.4.2-.2.2-.7.2.3.2.8.2-1 .2 1.3.2-.3.2.2.2-.2.2.3.2-.1.2.3.2-.3.2 0 .2-1 .2-.6.2 1.4.2.8.2-1.5.2-.5.2.9.2.8.2.4.2-.9.2-.7.2 1 .2.6.2-.5.2.9.2-1.2.2 1.2.2.6.2-2.1.2.2.2 1.3.2 2.1.2-2.1.2-.4.2 1.1.2-1.1.2-1.2.2.6.2 2 .2-2.5.2.3.2 1.9.2-.5.2.9.2-1.8.2.3.2.4.2-.7.2.9.2.1.2.9.2-.8.2-.2.2.8.2.6.2-.1.2-.6.2-.5.2 0 .2-.7.2 1.2.2 0 .2 1.4.2-1.1.2.5.2.5.2-2.6.2 1 .2.4.2.4.2-1 .2 1.8.2.1.2-.3.2.3.2-1.4.2 2 .2-1.3.2-.9.2 1.9.2.6.2-.7.2-.5.2.8.2 1.2.2-1.7.2 3.6.2.6.2-.4.2 1.6.2-.9.2-1 .2.8.2-.9.2-2.2.2-1.2.2-.2.2 1.5.2-1.6.2 2.3.2-3.3.2.8.2-.4.2-.7.2.7.2-1.5.2.6.2-.9.2-.9.2 1.9.2-1 .2-.1.2 1.6.2-.6.2.5.2 1.1.2-1.3.2.3.2-1.5.2 1.8.2.1.2-1.7.2 1.5.2-.3.2-.4.2.3.2 2.1.2-2.7.2.3.2.4.2-.2.2-1.4.2 2.1.2.3.2.8.2-2 .2-.6.2 1.7.2-1.5.2 1 .2-.4.2.6.2-.5.2 1 .2-1.4.2 2.9.2-1.4.2-1.2.2-.2.2.7.2-.3.2-.2.2 1.9.2-.3.2-1.8.2 1.5.2-.5.2.7.2-1.2.2 2.5.2-1.8.2 1.7.2-2.1.2 1.6.2-1.2.2 1.6.2-1.6.2-.8.2 0 .2.4.2 1.2.2-.2.2-.2.2.9.2.6.2-2.4.2 1.9.2 1.2.2-2.6.2 0 .2 1 .2-.2.2-.6.2.4.2 1.6.2-.6.2-1.5.2-.8.2.6.2 1.2.2-.9.2 0 .2 1.5.2-.9.2 0 .2.5.2 1.2.2-1 .2.4.2-.5.2 1.3.2-2.4.2.1.2.6.2 2.3.2-.4.2-2.3.2.6.2 1"/>
<text transform="translate(686.60 325.90) scale(1 1.07)" class="lb">+<tspan dx="0.5">65</tspan></text>
<path class="sp" d="M439 334.5l.3 8.4.3-7.6.3-7.2.3 16.3.3 4.7.3-18.8.2-2 .3 9.9.3-9.3.3 15.5.3-10.3.2 12.5.3-6.9.3 3.2.2 3.5.3-5.3.3-4.9.2 12.3.3-14.4.2 17.8.3-11.9.2.8.3 5.9.2.4.3.8.2-11.1.3 3.7.2 7.2.2.4.3-2.4.2 7.8.2-8 .3 6.1.2.7.2-4.1.2-3.2.3 4.5.2-2.1.2.3.2-8.3.2 6.1.2 4.9.3-10.1.2 1.4.2-2.5.2 4.8.2-14.8.2 17.1.2-5.6.2-3.9.2 2.2.2 3.8.2-3.4.2 1.4.2 2.6.2-4.4.2 2.9.2 3.5.2-3.6.2-4.7.2 6.3.2 5.7.2-9.6.2 3.5.2.1.2 2 .2-5.1.2 1.6.2 7.8.2-4.9.2-5.1.2 5.5.2-2.8.2 5.6.2-11.9.2 6.5.2 3.3.2-8.3.2 1.9.2 4.6.2-1.6.2-1.3.2 2.2.2-6 .2 2 .2 9 .2-8.3.2 3.8.2-1.7.2 3.1.2-1.9.2.2.2 2.5.2-2.8.2-6.8.2 3.4.2 6.8.2-1.3.2-4.2.2-4.4.2 2.7.2 8.7.2-2.9.2 0 .2-8.8.2.7.2 2.3.2-2.4.2 4.3.2-3.6.2 4.5.2-2.1.2-1.1.2 3.4.2-.7.2-1 .2-1.5.2.8.2-5.2.2-.1.2 3.3.2 2.1.2 4.1.2-3.8.2-3.7.2 1.2.2-2.1.2 2.9.2-.3.2 0 .2.6.2 1.6.2-1 .2-4.5.2 4.6.2-4.5.2 3.1.2-.8.2 3.4.2-4 .2-.1.2-.5.2 2.4.2-1.2.2-1.3.2 2.3.2 2.7.2-1 .2-.3.2-4.2.2.9.2.6.2-3.8.2 7.2.2-6.6.2 4 .2-3.4.2 2.9.2 1.6.2-.6.2-2.7.2.5.2 3.4.2-2 .2.5.2 1.8.2-7 .2 5.8.2 2.2.2 1.1.2-2.1.2-2.7.2 3.5.2 2 .2-5 .2-.1.2 1.3.2-.4.2-3.1.2-.5.2 2.3.2 1.5.2 2.3.2-1.8.2 1.6.2 2.5.2 3.4.2-4 .2-3.5.2 4 .2-1.8.2.8.2 1.3.2-.3.2-4 .2.3.2 2.7.2.8.2 2.7.2-3.1.2-2 .2-.4.2-.6.2-1.3.2-.2.2 1.2.2 1 .2-1.9.2 1.3.2-.8.2-.2.2-.6.2 1.2.2-.8.2-5.1.2 5.3.2-.5.2-1.4.2 1.3.2-1.6.2 1.5.2-1.9.2 2.9.2-.6.2-3.3.2 1.4.2 2.5.2-.5.2-.5.2-2.3.2.8.2 1.5.2.3.2-.6.2-1.5.2 1.1.2-.5.2-1.1.2.1.2.5.2-1.2.2 3.5.2.5.2.2.2-3 .2.1.2 1.8.2-1.2.2.4.2.1.2-2 .2 5.1.2-4.4.2-.1.2 4.4.2-3.1.2 4 .2-1.1.2.3.2-1.1.2-1.6.2.5.2 2.3.2-.2.2-1.8.2.1.2.2.2 1 .2.2.2.1.2-2.9.2 2 .2-2.1.2.2.2-4.8.2 1.4.2-.1.2-5.5.2 3.7.2-1.5.2.4.2-1.6.2 1.2.2-2.9.2-.5.2 1.7.2-.4.2-3.6.2 3.8.2-.3.2-.5.2-3 .2 3 .2-1.3.2.5.2-1.6.2-.7.2-.5.2.1.2 2.3.2-2.7.2.2.2 1.4.2-.9.2-2.8.2 2.1.2.5.2 3 .2-1.5.2-2.4.2.1.2 1.4.2 1.5.2-1 .2 2.5.2-2 .2 3.3.2 2.1.2-4.8.2 4.8.2 1.3.2 1.1.2.4.2.6.2 1.3.2.5.2.7.2 2.8.2-.3.2.3.2-1.9.2.4.2 2.3.2-3.1.2 2.6.2-3.9.2 4.2.2-2.1.2-3.5.2-1 .2-3.4.2 1.6.2.5.2-2.1.2-2.4.2 2 .2-3.2.2-1.2.2-1.9.2.5.2 2.2.2-3.3.2-3.1.2 2.7.2 2.5.2-.7.2-1.8.2 1.7.2-1.8.2 3.6.2-1.3.2 1.3.2.7.2.6.2 4 .2.5.2-1.6.2 1.2.2 2.6.2-2.1.2.2.2-.3.2 3.2.2-1.9.2-.5.2-1 .2-1.2.2 1.6.2-3 .2-.7.2-2.4.2-.3.2-.4.2-1 .2-2.3.2.1.2-.3.2-3.9.2 3.3.2-1.7.2-1.7.2 1.1.2.8.2-.4.2.4.2.4.2 1.3.2-1.7.2 1.7.2 2 .2.5.2-.3.2 1.9.2.6.2 1.9.2-1 .2 1.1.2 1.3.2 2.6.2 4.1.2-1 .2 1.1.2-.8.2 2.5.2-1 .2 0 .2 1.4.2-2.8.2-1.2.2 1.1.2 3.1.2-.8.2-1 .2-.7.2-.2.2.5.2-1.8.2 1.7.2-2.4.2 2.5.2-2.3.2-1.1.2.5.2-1.1.2.6.2-2.3.2 1.3.2.4.2.1.2-1.2.2 1.7.2-3.8.2 1.6.2-.5.2.4.2-.5.2 1.8.2-1.9.2-1.3.2 3.9.2-3.1.2-.5.2 1.1.2-2 .2.3.2 1.1.2-2.6.2.7.2 1.5.2.9.2-2.5.2-.2.2 1.3.2-3.2.2.8.2-.3.2-1.7.2-1.1.2 2.8.2 1.5.2-.4.2.6.2-4.9.2 3 .2 1.6.2-2.7.2-.6.2 1.8.2-.5.2.6.2-.8.2 1.4.2-.8.2-.7.2-.8.2 1.2.2-1.8.2 1.9.2.1.2-.4.2-2.7.2 1.9.2-.2.2.5.2-3 .2 1.1.2.5.2 1.7.2-2.5.2 1.7.2-.9.2 2 .2-2 .2-2.4.2 1.6.2.5.2 1.2.2-.8.2-1.2.2-1.2.2 1.5.2-.3.2 1.7.2-.5.2-2.8.2-1.1.2 2.2.2.8.2-1.5.2.6.2 2 .2-.5.2-3 .2 2.6.2-.2.2-.3.2 1 .2.2.2 2.4.2-2.5.2-.9.2.5.2 1.6.2 1.7.2-1.3.2.1.2 0 .2-.6.2.9.2-1.3.2 2.6.2-.1.2-.1.2-.9.2.9.2-.1.2 1.3.2-.5.2 1 .2.8.2.6.2-2.6.2 1 .2-.8.2 2.9.2-2.3.2 2.7.2-2.1.2 2 .2-1.8.2.5.2.5.2.1.2-.1.2 1 .2.8.2-.2.2-1.5.2-1.4.2 2.5.2-3.2.2 4.4.2.3.2-1.8.2 2.5.2-1 .2 2.8.2-2 .2.4.2.7.2 1.6.2-1.1.2 4.3.2-2.7.2 2.9.2-2 .2.2.2-.2.2.1.2 1.6.2.9.2-1.3.2-1.4.2 1 .2-1.7.2-2.7.2 2.6.2-2.9.2.5.2 0 .2-1.5.2-.7.2 1.2.2-1.7.2-.3.2-2.4.2-.9.2 1 .2-3.6.2.3.2-.8.2-.4.2-.1.2-.9.2.5.2-2 .2 1.6.2-1.8.2 2.5.2-.1.2-1.3.2-.3.2.6.2.7.2-2.3.2.7.2 2.3.2-1.2.2-1.1.2-1 .2 2.2.2-1.4.2 2.3.2-.2.2 2.4.2-3.5.2 2.4.2-2 .2.3.2 1.1.2-.6.2 3.2.2-2 .2-.7.2 3.7.2-3.5.2.6.2.4.2-.6.2 1.7.2.8.2-2.7.2 1 .2.2.2-1 .2.1.2 1.2.2-.5.2 1.4.2.7.2-.7.2.2.2-1.3.2.4.2 1.2.2.2.2-.7.2.8.2-.9.2-1 .2 1.7.2-.8.2-1.4.2 3 .2-.5.2.4.2-1.3.2 2.2.2-1.1.2.6.2-1.8.2.4.2 1.9.2-1.5.2.1.2 1.7.2-.3.2-1 .2 1.9.2-3.8.2 1.7.2-.5.2 2.3.2.2.2-2.3.2.8.2.9.2-.4.2-.2.2.9.2 1.1.2-1.9.2-1.3.2 1.2.2.1.2-.3.2 1.4.2.1.2.3.2-.3.2-.1.2-1.3.2.9.2-.4.2 1.4.2-.3.2.3.2.8.2-.7.2 1.7.2.2.2-2 .2 2.7.2-1.6.2-.2.2.8.2-.7.2 2.2.2 1.4.2-2.6.2 2.6.2.7.2.6.2.6.2.3.2-.5.2 2 .2 0 .2 1 .2-.1.2-.1.2.7.2 1.1.2.8.2-2.9.2 1 .2-.2.2 1.4.2 0 .2 1 .2-.6.2 1.6.2-2.5.2-.6.2-.7.2-.1.2-.3.2-1.5.2-1.4.2-1.5.2.6.2-1.9.2-1.6.2-.4.2-.5.2.6.2-1.6.2-3.9.2-.7.2-2.8.2-1.2.2-1.3.2 1.4.2-2.9.2-3.3.2-1.1.2-1.8.2-2.2.2.4.2-5.6.2-.3.2-.9.2-1.3.2-4.2.2 1.5.2-2.5.2.2.2-1.3.2 2.8.2 3.1.2-1.3.2-.2.2-.1.2 4.5.2 2 .2-.8.2 3.8.2-1.5.2 1.8.2 2.5.2-.9.2 3.1.2 1.4.2-.8.2 1.2.2 1.8.2-.6.2 1.5.2.7.2-2.2.2 4 .2-.5.2-.7.2 1.3.2-.1.2.3.2-.8.2 1 .2.5.2 2 .2-.3.2.4.2-.2.2 1.9.2-3.5.2 2.1.2 2.4.2-1 .2 1.6.2 1.4.2-.4.2-2.1.2 1.8.2-.6.2 2.1.2.9.2-1 .2 1.1.2-.5.2 2.5.2-1.7.2.3.2.5.2.6.2-.3.2-.8.2.2.2.5.2.1.2-1 .2-.1.2.4.2.8.2-1 .2-.6.2.8.2-.1.2 1.2.2-1.2.2.1.2 2.5.2-1.5.2-1.4.2 2.3.2-1.7.2-.4.2 1.5.2-2.1.2 1.4.2.7.2.2.2-1.3.2 0 .2.5.2 1.4.2-3.2.2 2.8.2-.6.2 1.2.2-2.6.2 2.4.2-2.1.2 1.2.2-.7.2-2.1.2 2.5.2.5.2.5.2-1.5.2-.6.2 2 .2-1.1.2 1.5.2.5.2-1.8.2.1.2-.5.2-1.4.2 2.2.2.8.2.3.2-1.1.2 2 .2-2.5.2.6.2-.5.2.1.2.2.2-.4.2.3.2.7.2-.1.2-1.2.2 1.6.2-1.3.2 1.3.2-.4.2-2 .2.9.2 2.1.2-1.6.2 0 .2.2.2.6.2.5.2-.9.2 2.1.2-2.3.2.1.2.3.2.4.2 1.4.2.9.2-2.8.2.2.2.9.2-.8.2 1.1.2-2 .2 2 .2-3.2.2 2.9.2.2.2 1.9.2-3.6.2 1.7.2 0 .2-1.6.2 1.2.2-1.1.2-.3.2-.4.2 1.4.2-.9.2-1 .2 2.5.2-2.1.2 2.5.2-.4.2-1.1.2-.8.2.7.2-.4.2 1 .2 0"/>
<text transform="translate(686.60 346.40) scale(1 1.07)" class="lb">+<tspan dx="0.5">66<tspan class="as" dx="0.4" dy="-1.2">*</tspan></tspan></text>
<path class="st" d="M312.5 106.0V117.2H339.5M312.5 137.0V148.5H339.5M312.5 169.4V179.5H339.5M312.5 199.6V210.3H339.5M312.5 240.6V259.2H339.5M312.5 267.5V290.3H339.5M312.5 320.3V345.3H339.5M634.4 98.0V104.0H717.3M634.4 111.8V124.8H717.3M634.4 132.1V145.3H717.3M634.4 153.2V165.6H717.3M634.4 173.7V186.7H717.3M684.6 205.8V217.4H717.3M634.4 222.4V237.9H717.3M634.4 241.5V258.3H717.3M634.4 277.2V294.5H717.3M681.6 315.0V330.2H717.3M634.4 335.3V350.7H717.3"/>
<path class="sk" d="M66.6 47.2V35.0M108.9 72.8V65.6M116.0 77.7V83.0M137.6 84.8V88.7M145.0 84.8V67.4M163.5 92.1V85.7M256.3 99.5V95.9M262.0 100.1V37.4M263.0 99.2V83.6M272.5 100.7V94.8M50.5 75.0V57.0M145.0 117.1V105.8M262.0 132.3V95.0M272.5 132.9V126.4M48.0 93.3V123.5M71.0 115.6V128.0M145.0 147.4V139.0M262.0 164.5V140.2M272.5 164.0V161.9M298.0 167.0V163.2M145.0 180.0V173.0M262.0 194.3V173.4M109.0 217.0V212.0M145.0 217.2V207.9M262.0 228.9V185.0M272.5 236.1V228.6M67.0 260.5V244.7M109.0 254.7V245.8M145.0 245.9V230.2M214.8 257.0V248.5M235.0 257.2V251.8M262.0 245.4V225.0M272.5 261.4V252.5M51.0 325.8V348.0M145.0 299.6V284.5M274.8 312.1V300.0M439.4 36.0V57.0M442.3 39.2V15.6M599.2 93.5V75.6M454.6 86.5V79.2M511.5 97.6V92.6M599.2 107.9V90.0M607.0 108.7V104.5M451.3 109.4V100.0M599.2 126.8V108.0M512.5 136.9V132.0M599.2 146.4V128.0M604.5 148.4V145.0M439.5 160.8V180.0M599.2 161.2V148.0M605.0 167.8V165.0M454.6 198.8V186.7M487.0 193.5V189.6M511.5 190.5V178.9M599.2 187.5V170.0M604.5 197.2V192.5M439.3 222.1V240.0M440.2 216.4V208.0M454.6 214.2V205.7M511.5 215.2V205.7M599.2 210.0V190.0M604.5 216.7V213.0M439.5 233.8V226.0M440.5 238.8V262.0M454.6 241.6V233.6M511.5 230.2V226.9M599.2 230.5V205.0M604.5 235.5V231.7M442.0 284.0V250.0M599.2 251.4V232.0M455.2 322.5V304.9M486.5 316.3V310.8M599.2 277.4V250.0M606.8 301.9V298.0M449.0 347.4V353.5M455.2 349.4V326.7M599.2 299.5V279.0"/>
</svg>
</body></html>
